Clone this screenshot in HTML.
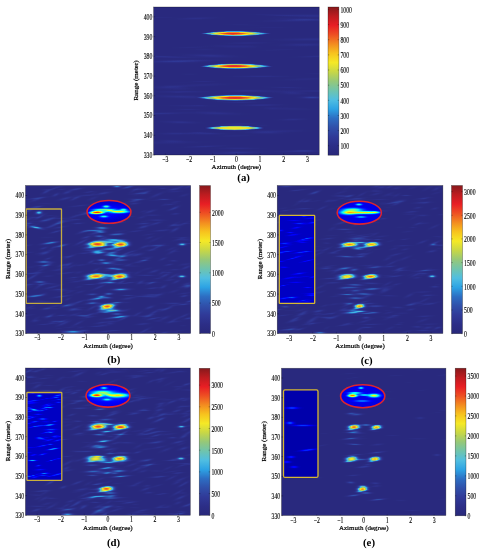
<!DOCTYPE html>
<html><head><meta charset="utf-8"><title>Figure</title>
<style>html,body{margin:0;padding:0;background:#fff;width:484px;height:550px;overflow:hidden}svg{display:block}</style>
</head><body><svg width="484" height="550" viewBox="0 0 484 550"><defs><radialGradient id="g2"><stop offset="0.000" stop-color="#fff" stop-opacity="1.000"/><stop offset="0.062" stop-color="#fff" stop-opacity="0.982"/><stop offset="0.125" stop-color="#fff" stop-opacity="0.931"/><stop offset="0.188" stop-color="#fff" stop-opacity="0.851"/><stop offset="0.250" stop-color="#fff" stop-opacity="0.750"/><stop offset="0.312" stop-color="#fff" stop-opacity="0.638"/><stop offset="0.375" stop-color="#fff" stop-opacity="0.523"/><stop offset="0.438" stop-color="#fff" stop-opacity="0.414"/><stop offset="0.500" stop-color="#fff" stop-opacity="0.316"/><stop offset="0.562" stop-color="#fff" stop-opacity="0.233"/><stop offset="0.625" stop-color="#fff" stop-opacity="0.165"/><stop offset="0.688" stop-color="#fff" stop-opacity="0.113"/><stop offset="0.750" stop-color="#fff" stop-opacity="0.075"/><stop offset="0.812" stop-color="#fff" stop-opacity="0.048"/><stop offset="0.875" stop-color="#fff" stop-opacity="0.029"/><stop offset="0.938" stop-color="#fff" stop-opacity="0.017"/><stop offset="1.000" stop-color="#fff" stop-opacity="0.000"/></radialGradient><radialGradient id="g26"><stop offset="0.000" stop-color="#fff" stop-opacity="1.000"/><stop offset="0.062" stop-color="#fff" stop-opacity="0.997"/><stop offset="0.125" stop-color="#fff" stop-opacity="0.980"/><stop offset="0.188" stop-color="#fff" stop-opacity="0.942"/><stop offset="0.250" stop-color="#fff" stop-opacity="0.882"/><stop offset="0.312" stop-color="#fff" stop-opacity="0.799"/><stop offset="0.375" stop-color="#fff" stop-opacity="0.698"/><stop offset="0.438" stop-color="#fff" stop-opacity="0.585"/><stop offset="0.500" stop-color="#fff" stop-opacity="0.468"/><stop offset="0.562" stop-color="#fff" stop-opacity="0.356"/><stop offset="0.625" stop-color="#fff" stop-opacity="0.257"/><stop offset="0.688" stop-color="#fff" stop-opacity="0.176"/><stop offset="0.750" stop-color="#fff" stop-opacity="0.113"/><stop offset="0.812" stop-color="#fff" stop-opacity="0.068"/><stop offset="0.875" stop-color="#fff" stop-opacity="0.039"/><stop offset="0.938" stop-color="#fff" stop-opacity="0.020"/><stop offset="1.000" stop-color="#fff" stop-opacity="0.000"/></radialGradient><radialGradient id="g35"><stop offset="0.000" stop-color="#fff" stop-opacity="1.000"/><stop offset="0.062" stop-color="#fff" stop-opacity="1.000"/><stop offset="0.125" stop-color="#fff" stop-opacity="0.997"/><stop offset="0.188" stop-color="#fff" stop-opacity="0.987"/><stop offset="0.250" stop-color="#fff" stop-opacity="0.965"/><stop offset="0.312" stop-color="#fff" stop-opacity="0.924"/><stop offset="0.375" stop-color="#fff" stop-opacity="0.862"/><stop offset="0.438" stop-color="#fff" stop-opacity="0.775"/><stop offset="0.500" stop-color="#fff" stop-opacity="0.666"/><stop offset="0.562" stop-color="#fff" stop-opacity="0.541"/><stop offset="0.625" stop-color="#fff" stop-opacity="0.411"/><stop offset="0.688" stop-color="#fff" stop-opacity="0.289"/><stop offset="0.750" stop-color="#fff" stop-opacity="0.186"/><stop offset="0.812" stop-color="#fff" stop-opacity="0.108"/><stop offset="0.875" stop-color="#fff" stop-opacity="0.056"/><stop offset="0.938" stop-color="#fff" stop-opacity="0.025"/><stop offset="1.000" stop-color="#fff" stop-opacity="0.000"/></radialGradient><linearGradient id="cbgrad" x1="0" y1="0" x2="0" y2="1"><stop offset="0.0000" stop-color="#87191c"/><stop offset="0.0625" stop-color="#be1c20"/><stop offset="0.1250" stop-color="#e81e24"/><stop offset="0.1875" stop-color="#ee5023"/><stop offset="0.2500" stop-color="#f38c20"/><stop offset="0.3125" stop-color="#f7c31e"/><stop offset="0.3750" stop-color="#f5e926"/><stop offset="0.4375" stop-color="#c8d746"/><stop offset="0.5000" stop-color="#96c878"/><stop offset="0.5625" stop-color="#70c4ac"/><stop offset="0.6250" stop-color="#50bee1"/><stop offset="0.6875" stop-color="#2da3e4"/><stop offset="0.7500" stop-color="#2d6ec3"/><stop offset="0.8125" stop-color="#3050aa"/><stop offset="0.8750" stop-color="#303a98"/><stop offset="0.9375" stop-color="#2c2e87"/><stop offset="1.0000" stop-color="#28287a"/></linearGradient></defs><clipPath id="clipa"><rect x="153.6" y="7.0" width="165.6" height="148.0"/></clipPath><filter id="fa" filterUnits="userSpaceOnUse" x="143.6" y="-3.0" width="185.6" height="168.0" color-interpolation-filters="sRGB"><feGaussianBlur stdDeviation="0.6 0.4"/><feComponentTransfer><feFuncR type="table" tableValues="0.1569 0.1725 0.1882 0.1882 0.1765 0.1765 0.3137 0.4392 0.5882 0.7843 0.9608 0.9686 0.9529 0.9333 0.9098 0.7451 0.5294"/><feFuncG type="table" tableValues="0.1569 0.1804 0.2275 0.3137 0.4314 0.6392 0.7451 0.7686 0.7843 0.8431 0.9137 0.7647 0.5490 0.3137 0.1176 0.1098 0.0980"/><feFuncB type="table" tableValues="0.4784 0.5294 0.5961 0.6667 0.7647 0.8941 0.8824 0.6745 0.4706 0.2745 0.1490 0.1176 0.1255 0.1373 0.1412 0.1255 0.1098"/></feComponentTransfer></filter><g clip-path="url(#clipa)"><g filter="url(#fa)"><rect x="143.6" y="-3.0" width="185.6" height="168.0" fill="#050505"/><ellipse cx="175.9" cy="133.6" rx="27.7" ry="2.1" fill="url(#g2)" fill-opacity="0.059" transform="rotate(-0.2 175.9 133.6)"/><ellipse cx="261.5" cy="125.4" rx="12.1" ry="1.9" fill="url(#g2)" fill-opacity="0.025" transform="rotate(-0.3 261.5 125.4)"/><ellipse cx="279.8" cy="15.3" rx="44.4" ry="1.5" fill="url(#g2)" fill-opacity="0.043" transform="rotate(1.8 279.8 15.3)"/><ellipse cx="302.9" cy="19.3" rx="22.8" ry="1.7" fill="url(#g2)" fill-opacity="0.022" transform="rotate(-0.5 302.9 19.3)"/><ellipse cx="189.5" cy="74.1" rx="15.0" ry="1.2" fill="url(#g2)" fill-opacity="0.022" transform="rotate(-0.0 189.5 74.1)"/><ellipse cx="192.2" cy="47.3" rx="29.5" ry="1.4" fill="url(#g2)" fill-opacity="0.032" transform="rotate(-1.9 192.2 47.3)"/><ellipse cx="292.3" cy="92.9" rx="23.9" ry="3.0" fill="url(#g2)" fill-opacity="0.053" transform="rotate(1.4 292.3 92.9)"/><ellipse cx="173.6" cy="61.6" rx="47.6" ry="2.9" fill="url(#g2)" fill-opacity="0.057" transform="rotate(-0.3 173.6 61.6)"/><ellipse cx="291.1" cy="108.8" rx="36.3" ry="2.4" fill="url(#g2)" fill-opacity="0.036" transform="rotate(1.4 291.1 108.8)"/><ellipse cx="237.3" cy="97.5" rx="15.9" ry="1.6" fill="url(#g2)" fill-opacity="0.022" transform="rotate(-0.3 237.3 97.5)"/><ellipse cx="182.3" cy="91.8" rx="45.8" ry="1.9" fill="url(#g2)" fill-opacity="0.056" transform="rotate(-0.2 182.3 91.8)"/><ellipse cx="237.8" cy="124.0" rx="31.8" ry="2.0" fill="url(#g2)" fill-opacity="0.047" transform="rotate(-1.9 237.8 124.0)"/><ellipse cx="160.8" cy="113.5" rx="44.4" ry="2.0" fill="url(#g2)" fill-opacity="0.071" transform="rotate(-1.3 160.8 113.5)"/><ellipse cx="236.8" cy="152.5" rx="40.5" ry="2.8" fill="url(#g2)" fill-opacity="0.060" transform="rotate(-1.1 236.8 152.5)"/><ellipse cx="238.7" cy="148.3" rx="35.2" ry="1.6" fill="url(#g2)" fill-opacity="0.050" transform="rotate(0.2 238.7 148.3)"/><ellipse cx="312.1" cy="15.8" rx="53.2" ry="2.9" fill="url(#g2)" fill-opacity="0.060" transform="rotate(1.0 312.1 15.8)"/><ellipse cx="287.6" cy="87.6" rx="33.6" ry="1.3" fill="url(#g2)" fill-opacity="0.049" transform="rotate(1.5 287.6 87.6)"/><ellipse cx="248.0" cy="43.0" rx="35.5" ry="1.7" fill="url(#g2)" fill-opacity="0.046" transform="rotate(-0.6 248.0 43.0)"/><ellipse cx="242.8" cy="102.3" rx="35.5" ry="1.2" fill="url(#g2)" fill-opacity="0.052" transform="rotate(-1.1 242.8 102.3)"/><ellipse cx="182.9" cy="96.8" rx="52.9" ry="2.7" fill="url(#g2)" fill-opacity="0.064" transform="rotate(1.3 182.9 96.8)"/><ellipse cx="195.9" cy="132.8" rx="19.6" ry="1.2" fill="url(#g2)" fill-opacity="0.055" transform="rotate(-1.9 195.9 132.8)"/><ellipse cx="278.7" cy="49.9" rx="31.2" ry="1.3" fill="url(#g2)" fill-opacity="0.026" transform="rotate(-1.7 278.7 49.9)"/><ellipse cx="180.0" cy="88.8" rx="21.7" ry="1.9" fill="url(#g2)" fill-opacity="0.029" transform="rotate(-0.2 180.0 88.8)"/><ellipse cx="206.9" cy="81.3" rx="18.7" ry="1.1" fill="url(#g2)" fill-opacity="0.022" transform="rotate(-1.2 206.9 81.3)"/><ellipse cx="171.6" cy="141.0" rx="24.0" ry="2.2" fill="url(#g2)" fill-opacity="0.046" transform="rotate(1.3 171.6 141.0)"/><ellipse cx="157.0" cy="17.5" rx="36.0" ry="1.1" fill="url(#g2)" fill-opacity="0.028" transform="rotate(0.8 157.0 17.5)"/><ellipse cx="265.9" cy="91.3" rx="48.1" ry="2.2" fill="url(#g2)" fill-opacity="0.032" transform="rotate(0.1 265.9 91.3)"/><ellipse cx="190.6" cy="105.8" rx="37.6" ry="1.6" fill="url(#g2)" fill-opacity="0.041" transform="rotate(0.5 190.6 105.8)"/><ellipse cx="163.3" cy="56.8" rx="57.4" ry="1.8" fill="url(#g2)" fill-opacity="0.070" transform="rotate(1.4 163.3 56.8)"/><ellipse cx="205.0" cy="146.5" rx="34.7" ry="1.7" fill="url(#g2)" fill-opacity="0.058" transform="rotate(-2.0 205.0 146.5)"/><ellipse cx="299.1" cy="20.3" rx="59.9" ry="2.3" fill="url(#g2)" fill-opacity="0.062" transform="rotate(-1.3 299.1 20.3)"/><ellipse cx="297.3" cy="151.3" rx="38.5" ry="1.9" fill="url(#g2)" fill-opacity="0.056" transform="rotate(-0.6 297.3 151.3)"/><ellipse cx="187.7" cy="109.4" rx="22.7" ry="1.3" fill="url(#g2)" fill-opacity="0.042" transform="rotate(0.7 187.7 109.4)"/><ellipse cx="202.6" cy="85.0" rx="47.7" ry="2.5" fill="url(#g2)" fill-opacity="0.037" transform="rotate(-1.9 202.6 85.0)"/><ellipse cx="186.9" cy="60.9" rx="53.2" ry="1.9" fill="url(#g2)" fill-opacity="0.071" transform="rotate(-1.1 186.9 60.9)"/><ellipse cx="265.3" cy="132.3" rx="32.6" ry="2.9" fill="url(#g2)" fill-opacity="0.068" transform="rotate(0.7 265.3 132.3)"/><ellipse cx="233.8" cy="153.0" rx="39.6" ry="1.1" fill="url(#g2)" fill-opacity="0.032" transform="rotate(-1.3 233.8 153.0)"/><ellipse cx="304.5" cy="44.8" rx="43.1" ry="2.8" fill="url(#g2)" fill-opacity="0.059" transform="rotate(-0.5 304.5 44.8)"/><ellipse cx="210.0" cy="55.8" rx="44.1" ry="3.0" fill="url(#g2)" fill-opacity="0.065" transform="rotate(1.5 210.0 55.8)"/><ellipse cx="176.0" cy="92.2" rx="12.6" ry="0.9" fill="url(#g2)" fill-opacity="0.026" transform="rotate(1.5 176.0 92.2)"/><ellipse cx="284.1" cy="131.0" rx="38.1" ry="2.3" fill="url(#g2)" fill-opacity="0.038" transform="rotate(-0.5 284.1 131.0)"/><ellipse cx="248.1" cy="46.3" rx="18.9" ry="1.9" fill="url(#g2)" fill-opacity="0.025" transform="rotate(0.3 248.1 46.3)"/><ellipse cx="306.8" cy="79.1" rx="43.1" ry="2.3" fill="url(#g2)" fill-opacity="0.035" transform="rotate(-2.0 306.8 79.1)"/><ellipse cx="264.6" cy="27.8" rx="39.8" ry="0.9" fill="url(#g2)" fill-opacity="0.026" transform="rotate(-1.0 264.6 27.8)"/><ellipse cx="317.2" cy="73.9" rx="16.9" ry="1.2" fill="url(#g2)" fill-opacity="0.026" transform="rotate(1.0 317.2 73.9)"/><ellipse cx="170.6" cy="142.5" rx="52.9" ry="2.6" fill="url(#g2)" fill-opacity="0.040" transform="rotate(-0.8 170.6 142.5)"/><ellipse cx="195.6" cy="81.8" rx="31.6" ry="0.9" fill="url(#g2)" fill-opacity="0.026" transform="rotate(-2.0 195.6 81.8)"/><ellipse cx="316.3" cy="56.4" rx="35.0" ry="1.7" fill="url(#g2)" fill-opacity="0.051" transform="rotate(-1.7 316.3 56.4)"/><ellipse cx="304.9" cy="150.8" rx="22.0" ry="1.7" fill="url(#g2)" fill-opacity="0.070" transform="rotate(0.5 304.9 150.8)"/><ellipse cx="315.9" cy="91.0" rx="45.1" ry="1.7" fill="url(#g2)" fill-opacity="0.056" transform="rotate(0.2 315.9 91.0)"/><ellipse cx="204.5" cy="49.5" rx="19.4" ry="2.0" fill="url(#g2)" fill-opacity="0.025" transform="rotate(-0.2 204.5 49.5)"/><ellipse cx="261.6" cy="105.1" rx="34.8" ry="1.8" fill="url(#g2)" fill-opacity="0.068" transform="rotate(-0.7 261.6 105.1)"/><ellipse cx="206.1" cy="133.6" rx="30.5" ry="1.9" fill="url(#g2)" fill-opacity="0.066" transform="rotate(0.2 206.1 133.6)"/><ellipse cx="249.5" cy="98.4" rx="14.1" ry="1.4" fill="url(#g2)" fill-opacity="0.033" transform="rotate(-1.7 249.5 98.4)"/><ellipse cx="244.9" cy="24.9" rx="29.6" ry="1.2" fill="url(#g2)" fill-opacity="0.024" transform="rotate(1.2 244.9 24.9)"/><ellipse cx="235.3" cy="135.8" rx="29.1" ry="2.0" fill="url(#g2)" fill-opacity="0.028" transform="rotate(-1.7 235.3 135.8)"/><ellipse cx="310.8" cy="39.3" rx="60.5" ry="2.7" fill="url(#g2)" fill-opacity="0.060" transform="rotate(-0.7 310.8 39.3)"/><ellipse cx="171.3" cy="87.0" rx="30.2" ry="2.9" fill="url(#g2)" fill-opacity="0.067" transform="rotate(-1.4 171.3 87.0)"/><ellipse cx="304.4" cy="19.4" rx="48.7" ry="2.3" fill="url(#g2)" fill-opacity="0.037" transform="rotate(1.6 304.4 19.4)"/><ellipse cx="292.8" cy="119.5" rx="23.8" ry="2.0" fill="url(#g2)" fill-opacity="0.056" transform="rotate(-1.4 292.8 119.5)"/><ellipse cx="272.0" cy="108.5" rx="15.8" ry="2.5" fill="url(#g2)" fill-opacity="0.033" transform="rotate(1.2 272.0 108.5)"/><ellipse cx="244.6" cy="90.8" rx="37.1" ry="2.0" fill="url(#g2)" fill-opacity="0.064" transform="rotate(-0.6 244.6 90.8)"/><ellipse cx="196.3" cy="18.4" rx="34.0" ry="2.2" fill="url(#g2)" fill-opacity="0.053" transform="rotate(-1.8 196.3 18.4)"/><ellipse cx="212.4" cy="34.4" rx="20.2" ry="2.0" fill="url(#g2)" fill-opacity="0.027" transform="rotate(-0.4 212.4 34.4)"/><ellipse cx="220.0" cy="100.7" rx="13.5" ry="1.8" fill="url(#g2)" fill-opacity="0.032" transform="rotate(0.0 220.0 100.7)"/><ellipse cx="261.0" cy="76.4" rx="48.2" ry="1.6" fill="url(#g2)" fill-opacity="0.055" transform="rotate(-0.0 261.0 76.4)"/><ellipse cx="232.9" cy="46.5" rx="37.3" ry="2.6" fill="url(#g2)" fill-opacity="0.041" transform="rotate(1.7 232.9 46.5)"/><ellipse cx="199.2" cy="105.5" rx="12.0" ry="1.3" fill="url(#g2)" fill-opacity="0.023" transform="rotate(1.5 199.2 105.5)"/><ellipse cx="180.0" cy="122.2" rx="30.9" ry="2.5" fill="url(#g2)" fill-opacity="0.065" transform="rotate(1.4 180.0 122.2)"/><ellipse cx="215.1" cy="113.2" rx="42.6" ry="2.8" fill="url(#g2)" fill-opacity="0.058" transform="rotate(1.6 215.1 113.2)"/><path d="M200.12 33.60C225.24 29.87 246.76 29.87 271.88 33.60C246.76 37.33 225.24 37.33 200.12 33.60Z" fill="#0f0f0f"/><path d="M200.48 33.60C225.28 30.00 246.53 30.00 271.32 33.60C246.53 37.20 225.28 37.20 200.48 33.60Z" fill="#151515"/><path d="M200.85 33.60C225.32 30.13 246.29 30.13 270.77 33.60C246.29 37.07 225.32 37.07 200.85 33.60Z" fill="#1b1b1b"/><path d="M201.21 33.60C225.36 30.27 246.06 30.27 270.21 33.60C246.06 36.93 225.36 36.93 201.21 33.60Z" fill="#212121"/><path d="M201.57 33.60C225.40 30.40 245.82 30.40 269.65 33.60C245.82 36.80 225.40 36.80 201.57 33.60Z" fill="#262626"/><path d="M201.93 33.60C225.10 30.50 245.92 30.50 269.09 33.60C245.92 36.70 225.10 36.70 201.93 33.60Z" fill="#2d2d2d"/><path d="M202.30 33.60C224.82 30.60 246.02 30.60 268.54 33.60C246.02 36.60 224.82 36.60 202.30 33.60Z" fill="#333333"/><path d="M202.66 33.60C224.54 30.70 246.10 30.70 267.98 33.60C246.10 36.50 224.54 36.50 202.66 33.60Z" fill="#393939"/><path d="M203.02 33.60C224.27 30.80 246.17 30.80 267.42 33.60C246.17 36.40 224.27 36.40 203.02 33.60Z" fill="#404040"/><path d="M203.62 33.60C223.94 30.88 246.31 30.88 266.63 33.60C246.31 36.32 223.94 36.32 203.62 33.60Z" fill="#464646"/><path d="M204.21 33.60C223.62 30.97 246.43 30.97 265.85 33.60C246.43 36.23 223.62 36.23 204.21 33.60Z" fill="#4c4c4c"/><path d="M204.80 33.60C223.33 31.05 246.53 31.05 265.06 33.60C246.53 36.15 223.33 36.15 204.80 33.60Z" fill="#535353"/><path d="M205.39 33.60C223.06 31.13 246.61 31.13 264.27 33.60C246.61 36.07 223.06 36.07 205.39 33.60Z" fill="#595959"/><path d="M205.87 33.60C222.47 31.20 247.00 31.20 263.60 33.60C247.00 36.00 222.47 36.00 205.87 33.60Z" fill="#5e5e5e"/><path d="M206.35 33.60C221.91 31.27 247.37 31.27 262.93 33.60C247.37 35.93 221.91 35.93 206.35 33.60Z" fill="#626262"/><path d="M206.83 33.60C221.38 31.33 247.71 31.33 262.26 33.60C247.71 35.87 221.38 35.87 206.83 33.60Z" fill="#676767"/><path d="M207.30 33.60C220.87 31.40 248.01 31.40 261.58 33.60C248.01 35.80 220.87 35.80 207.30 33.60Z" fill="#6b6b6b"/><path d="M208.01 33.60C220.52 31.45 248.17 31.45 260.68 33.60C248.17 35.75 220.52 35.75 208.01 33.60Z" fill="#707070"/><path d="M208.72 33.60C220.21 31.50 248.29 31.50 259.78 33.60C248.29 35.70 220.21 35.70 208.72 33.60Z" fill="#757575"/><path d="M209.43 33.60C219.94 31.55 248.37 31.55 258.88 33.60C248.37 35.65 219.94 35.65 209.43 33.60Z" fill="#7a7a7a"/><path d="M210.14 33.60C219.70 31.60 248.41 31.60 257.98 33.60C248.41 35.60 219.70 35.60 210.14 33.60Z" fill="#808080"/><path d="M211.07 33.60C219.66 31.68 248.26 31.68 256.84 33.60C248.26 35.52 219.66 35.52 211.07 33.60Z" fill="#878787"/><path d="M212.01 33.60C219.66 31.77 248.06 31.77 255.71 33.60C248.06 35.43 219.66 35.43 212.01 33.60Z" fill="#8f8f8f"/><path d="M212.95 33.60C219.71 31.85 247.81 31.85 254.58 33.60C247.81 35.35 219.71 35.35 212.95 33.60Z" fill="#969696"/><path d="M213.89 33.60C219.82 31.93 247.51 31.93 253.45 33.60C247.51 35.27 219.82 35.27 213.89 33.60Z" fill="#9e9e9e"/><path d="M214.71 33.60C220.13 32.01 247.01 32.01 252.43 33.60C247.01 35.19 220.13 35.19 214.71 33.60Z" fill="#a3a3a3"/><path d="M215.53 33.60C220.47 32.09 246.48 32.09 251.41 33.60C246.48 35.11 220.47 35.11 215.53 33.60Z" fill="#a8a8a8"/><path d="M216.35 33.60C220.82 32.16 245.93 32.16 250.40 33.60C245.93 35.04 220.82 35.04 216.35 33.60Z" fill="#adadad"/><path d="M217.18 33.60C221.20 32.24 245.35 32.24 249.38 33.60C245.35 34.96 221.20 34.96 217.18 33.60Z" fill="#b2b2b2"/><path d="M218.12 33.60C221.69 32.32 244.67 32.32 248.25 33.60C244.67 34.88 221.69 34.88 218.12 33.60Z" fill="#b9b9b9"/><path d="M219.05 33.60C222.21 32.40 243.96 32.40 247.11 33.60C243.96 34.80 222.21 34.80 219.05 33.60Z" fill="#bfbfbf"/><path d="M219.99 33.60C222.75 32.48 243.22 32.48 245.98 33.60C243.22 34.72 222.75 34.72 219.99 33.60Z" fill="#c6c6c6"/><path d="M220.93 33.60C223.32 32.56 242.46 32.56 244.85 33.60C242.46 34.64 223.32 34.64 220.93 33.60Z" fill="#cccccc"/><path d="M222.21 33.60C224.33 32.65 241.26 32.65 243.37 33.60C241.26 34.55 224.33 34.55 222.21 33.60Z" fill="#d0d0d0"/><path d="M223.49 33.60C225.33 32.75 240.05 32.75 241.89 33.60C240.05 34.45 225.33 34.45 223.49 33.60Z" fill="#d4d4d4"/><path d="M224.78 33.60C226.34 32.84 238.85 32.84 240.42 33.60C238.85 34.36 226.34 34.36 224.78 33.60Z" fill="#d7d7d7"/><path d="M226.06 33.60C227.35 32.93 237.65 32.93 238.94 33.60C237.65 34.27 227.35 34.27 226.06 33.60Z" fill="#dbdbdb"/><path d="M199.45 66.20C225.38 62.28 247.62 62.28 273.55 66.20C247.62 70.12 225.38 70.12 199.45 66.20Z" fill="#0f0f0f"/><path d="M199.86 66.20C225.46 62.42 247.40 62.42 273.01 66.20C247.40 69.98 225.46 69.98 199.86 66.20Z" fill="#151515"/><path d="M200.26 66.20C225.53 62.56 247.19 62.56 272.46 66.20C247.19 69.84 225.53 69.84 200.26 66.20Z" fill="#1b1b1b"/><path d="M200.67 66.20C225.60 62.70 246.98 62.70 271.92 66.20C246.98 69.70 225.60 69.70 200.67 66.20Z" fill="#212121"/><path d="M201.07 66.20C225.68 62.84 246.77 62.84 271.37 66.20C246.77 69.56 225.68 69.56 201.07 66.20Z" fill="#262626"/><path d="M201.48 66.20C225.40 62.95 246.90 62.95 270.83 66.20C246.90 69.45 225.40 69.45 201.48 66.20Z" fill="#2d2d2d"/><path d="M201.88 66.20C225.14 63.05 247.03 63.05 270.28 66.20C247.03 69.35 225.14 69.35 201.88 66.20Z" fill="#333333"/><path d="M202.29 66.20C224.88 63.16 247.14 63.16 269.74 66.20C247.14 69.25 224.88 69.25 202.29 66.20Z" fill="#393939"/><path d="M202.69 66.20C224.64 63.26 247.25 63.26 269.19 66.20C247.25 69.14 224.64 69.14 202.69 66.20Z" fill="#404040"/><path d="M203.34 66.20C224.32 63.35 247.43 63.35 268.41 66.20C247.43 69.05 224.32 69.05 203.34 66.20Z" fill="#464646"/><path d="M203.98 66.20C224.03 63.44 247.58 63.44 267.63 66.20C247.58 68.97 224.03 68.97 203.98 66.20Z" fill="#4c4c4c"/><path d="M204.62 66.20C223.76 63.52 247.71 63.52 266.85 66.20C247.71 68.88 223.76 68.88 204.62 66.20Z" fill="#535353"/><path d="M205.27 66.20C223.51 63.61 247.83 63.61 266.07 66.20C247.83 68.79 223.51 68.79 205.27 66.20Z" fill="#595959"/><path d="M205.79 66.20C222.93 63.68 248.26 63.68 265.40 66.20C248.26 68.72 222.93 68.72 205.79 66.20Z" fill="#5e5e5e"/><path d="M206.32 66.20C222.38 63.75 248.67 63.75 264.74 66.20C248.67 68.65 222.38 68.65 206.32 66.20Z" fill="#626262"/><path d="M206.84 66.20C221.86 63.82 249.05 63.82 264.08 66.20C249.05 68.58 221.86 68.58 206.84 66.20Z" fill="#676767"/><path d="M207.36 66.20C221.38 63.89 249.40 63.89 263.41 66.20C249.40 68.51 221.38 68.51 207.36 66.20Z" fill="#6b6b6b"/><path d="M208.13 66.20C221.04 63.94 249.60 63.94 262.51 66.20C249.60 68.46 221.04 68.46 208.13 66.20Z" fill="#707070"/><path d="M208.89 66.20C220.75 64.00 249.75 64.00 261.61 66.20C249.75 68.41 220.75 68.41 208.89 66.20Z" fill="#757575"/><path d="M209.65 66.20C220.50 64.05 249.86 64.05 260.71 66.20C249.86 68.35 220.50 68.35 209.65 66.20Z" fill="#7a7a7a"/><path d="M210.41 66.20C220.29 64.10 249.93 64.10 259.81 66.20C249.93 68.30 220.29 68.30 210.41 66.20Z" fill="#808080"/><path d="M211.41 66.20C220.27 64.19 249.81 64.19 258.67 66.20C249.81 68.21 220.27 68.21 211.41 66.20Z" fill="#878787"/><path d="M212.41 66.20C220.31 64.28 249.64 64.28 257.53 66.20C249.64 68.12 220.31 68.12 212.41 66.20Z" fill="#8f8f8f"/><path d="M213.41 66.20C220.39 64.36 249.41 64.36 256.40 66.20C249.41 68.04 220.39 68.04 213.41 66.20Z" fill="#969696"/><path d="M214.41 66.20C220.54 64.45 249.13 64.45 255.26 66.20C249.13 67.95 220.54 67.95 214.41 66.20Z" fill="#9e9e9e"/><path d="M215.29 66.20C220.89 64.53 248.64 64.53 254.24 66.20C248.64 67.87 220.89 67.87 215.29 66.20Z" fill="#a3a3a3"/><path d="M216.17 66.20C221.26 64.61 248.13 64.61 253.22 66.20C248.13 67.79 221.26 67.79 216.17 66.20Z" fill="#a8a8a8"/><path d="M217.05 66.20C221.66 64.69 247.59 64.69 252.20 66.20C247.59 67.71 221.66 67.71 217.05 66.20Z" fill="#adadad"/><path d="M217.93 66.20C222.09 64.77 247.02 64.77 251.18 66.20C247.02 67.63 222.09 67.63 217.93 66.20Z" fill="#b2b2b2"/><path d="M218.93 66.20C222.62 64.86 246.35 64.86 250.04 66.20C246.35 67.54 222.62 67.54 218.93 66.20Z" fill="#b9b9b9"/><path d="M219.93 66.20C223.19 64.94 245.64 64.94 248.90 66.20C245.64 67.46 223.19 67.46 219.93 66.20Z" fill="#bfbfbf"/><path d="M220.93 66.20C223.78 65.02 244.91 65.02 247.77 66.20C244.91 67.38 223.78 67.38 220.93 66.20Z" fill="#c6c6c6"/><path d="M221.93 66.20C224.40 65.11 244.16 65.11 246.63 66.20C244.16 67.29 224.40 67.29 221.93 66.20Z" fill="#cccccc"/><path d="M223.28 66.20C225.47 65.21 242.95 65.21 245.13 66.20C242.95 67.19 225.47 67.19 223.28 66.20Z" fill="#d0d0d0"/><path d="M224.64 66.20C226.54 65.30 241.74 65.30 243.64 66.20C241.74 67.10 226.54 67.10 224.64 66.20Z" fill="#d4d4d4"/><path d="M225.99 66.20C227.61 65.40 240.53 65.40 242.14 66.20C240.53 67.00 227.61 67.00 225.99 66.20Z" fill="#d7d7d7"/><path d="M227.35 66.20C228.68 65.50 239.32 65.50 240.65 66.20C239.32 66.90 228.68 66.90 227.35 66.20Z" fill="#dbdbdb"/><path d="M195.22 97.80C223.07 93.51 246.93 93.51 274.78 97.80C246.93 102.09 223.07 102.09 195.22 97.80Z" fill="#0f0f0f"/><path d="M195.73 97.80C223.22 93.66 246.78 93.66 274.27 97.80C246.78 101.94 223.22 101.94 195.73 97.80Z" fill="#151515"/><path d="M196.24 97.80C223.37 93.81 246.63 93.81 273.76 97.80C246.63 101.79 223.37 101.79 196.24 97.80Z" fill="#1b1b1b"/><path d="M196.75 97.80C223.53 93.97 246.47 93.97 273.25 97.80C246.47 101.63 223.53 101.63 196.75 97.80Z" fill="#212121"/><path d="M197.26 97.80C223.68 94.12 246.32 94.12 272.74 97.80C246.32 101.48 223.68 101.48 197.26 97.80Z" fill="#262626"/><path d="M197.77 97.80C223.46 94.23 246.54 94.23 272.23 97.80C246.54 101.36 223.46 101.36 197.77 97.80Z" fill="#2d2d2d"/><path d="M198.28 97.80C223.25 94.35 246.75 94.35 271.72 97.80C246.75 101.25 223.25 101.25 198.28 97.80Z" fill="#333333"/><path d="M198.79 97.80C223.05 94.47 246.95 94.47 271.21 97.80C246.95 101.13 223.05 101.13 198.79 97.80Z" fill="#393939"/><path d="M199.30 97.80C222.86 94.58 247.14 94.58 270.70 97.80C247.14 101.02 222.86 101.02 199.30 97.80Z" fill="#404040"/><path d="M200.06 97.80C222.60 94.68 247.40 94.68 269.94 97.80C247.40 100.92 222.60 100.92 200.06 97.80Z" fill="#464646"/><path d="M200.83 97.80C222.36 94.77 247.64 94.77 269.17 97.80C247.64 100.83 222.36 100.83 200.83 97.80Z" fill="#4c4c4c"/><path d="M201.59 97.80C222.14 94.87 247.86 94.87 268.40 97.80C247.86 100.73 222.14 100.73 201.59 97.80Z" fill="#535353"/><path d="M202.36 97.80C221.94 94.96 248.06 94.96 267.64 97.80C248.06 100.64 221.94 100.64 202.36 97.80Z" fill="#595959"/><path d="M203.00 97.80C221.40 95.04 248.60 95.04 267.00 97.80C248.60 100.56 221.40 100.56 203.00 97.80Z" fill="#5e5e5e"/><path d="M203.63 97.80C220.89 95.12 249.11 95.12 266.37 97.80C249.11 100.48 220.89 100.48 203.63 97.80Z" fill="#626262"/><path d="M204.27 97.80C220.40 95.19 249.60 95.19 265.73 97.80C249.60 100.41 220.40 100.41 204.27 97.80Z" fill="#676767"/><path d="M204.91 97.80C219.96 95.27 250.04 95.27 265.09 97.80C250.04 100.33 219.96 100.33 204.91 97.80Z" fill="#6b6b6b"/><path d="M205.80 97.80C219.67 95.33 250.33 95.33 264.20 97.80C250.33 100.27 219.67 100.27 205.80 97.80Z" fill="#707070"/><path d="M206.69 97.80C219.43 95.38 250.57 95.38 263.31 97.80C250.57 100.22 219.43 100.22 206.69 97.80Z" fill="#757575"/><path d="M207.59 97.80C219.24 95.44 250.76 95.44 262.41 97.80C250.76 100.16 219.24 100.16 207.59 97.80Z" fill="#7a7a7a"/><path d="M208.48 97.80C219.09 95.50 250.91 95.50 261.52 97.80C250.91 100.10 219.09 100.10 208.48 97.80Z" fill="#808080"/><path d="M209.63 97.80C219.14 95.60 250.86 95.60 260.37 97.80C250.86 100.00 219.14 100.00 209.63 97.80Z" fill="#878787"/><path d="M210.78 97.80C219.25 95.69 250.75 95.69 259.23 97.80C250.75 99.91 219.25 99.91 210.78 97.80Z" fill="#8f8f8f"/><path d="M211.92 97.80C219.42 95.79 250.58 95.79 258.08 97.80C250.58 99.81 219.42 99.81 211.92 97.80Z" fill="#969696"/><path d="M213.07 97.80C219.65 95.88 250.35 95.88 256.93 97.80C250.35 99.72 219.65 99.72 213.07 97.80Z" fill="#9e9e9e"/><path d="M214.09 97.80C220.10 95.97 249.90 95.97 255.91 97.80C249.90 99.63 220.10 99.63 214.09 97.80Z" fill="#a3a3a3"/><path d="M215.11 97.80C220.58 96.06 249.42 96.06 254.89 97.80C249.42 99.54 220.58 99.54 215.11 97.80Z" fill="#a8a8a8"/><path d="M216.13 97.80C221.08 96.15 248.92 96.15 253.87 97.80C248.92 99.45 221.08 99.45 216.13 97.80Z" fill="#adadad"/><path d="M217.15 97.80C221.61 96.24 248.39 96.24 252.85 97.80C248.39 99.36 221.61 99.36 217.15 97.80Z" fill="#b2b2b2"/><path d="M218.30 97.80C222.26 96.33 247.74 96.33 251.70 97.80C247.74 99.27 222.26 99.27 218.30 97.80Z" fill="#b9b9b9"/><path d="M219.44 97.80C222.94 96.42 247.06 96.42 250.56 97.80C247.06 99.18 222.94 99.18 219.44 97.80Z" fill="#bfbfbf"/><path d="M220.59 97.80C223.65 96.51 246.35 96.51 249.41 97.80C246.35 99.09 223.65 99.09 220.59 97.80Z" fill="#c6c6c6"/><path d="M221.74 97.80C224.39 96.60 245.61 96.60 248.26 97.80C245.61 99.00 224.39 99.00 221.74 97.80Z" fill="#cccccc"/><path d="M223.27 97.80C225.62 96.71 244.38 96.71 246.73 97.80C244.38 98.89 225.62 98.89 223.27 97.80Z" fill="#d0d0d0"/><path d="M224.80 97.80C226.84 96.82 243.16 96.82 245.20 97.80C243.16 98.78 226.84 98.78 224.80 97.80Z" fill="#d4d4d4"/><path d="M226.33 97.80C228.06 96.93 241.94 96.93 243.67 97.80C241.94 98.67 228.06 98.67 226.33 97.80Z" fill="#d7d7d7"/><path d="M227.86 97.80C229.29 97.03 240.71 97.03 242.14 97.80C240.71 98.57 229.29 98.57 227.86 97.80Z" fill="#dbdbdb"/><path d="M204.18 128.00C225.47 124.64 243.73 124.64 265.02 128.00C243.73 131.36 225.47 131.36 204.18 128.00Z" fill="#0f0f0f"/><path d="M204.57 128.00C225.59 124.76 243.61 124.76 264.63 128.00C243.61 131.24 225.59 131.24 204.57 128.00Z" fill="#151515"/><path d="M204.96 128.00C225.71 124.88 243.49 124.88 264.24 128.00C243.49 131.12 225.71 131.12 204.96 128.00Z" fill="#1b1b1b"/><path d="M205.35 128.00C225.82 125.00 243.38 125.00 263.85 128.00C243.38 131.00 225.82 131.00 205.35 128.00Z" fill="#212121"/><path d="M205.74 128.00C225.94 125.12 243.26 125.12 263.46 128.00C243.26 130.88 225.94 130.88 205.74 128.00Z" fill="#262626"/><path d="M206.13 128.00C225.77 125.21 243.43 125.21 263.07 128.00C243.43 130.79 225.77 130.79 206.13 128.00Z" fill="#2d2d2d"/><path d="M206.52 128.00C225.61 125.30 243.59 125.30 262.68 128.00C243.59 130.70 225.61 130.70 206.52 128.00Z" fill="#333333"/><path d="M206.91 128.00C225.46 125.39 243.74 125.39 262.29 128.00C243.74 130.61 225.46 130.61 206.91 128.00Z" fill="#393939"/><path d="M207.30 128.00C225.32 125.48 243.88 125.48 261.90 128.00C243.88 130.52 225.32 130.52 207.30 128.00Z" fill="#404040"/><path d="M207.88 128.00C225.12 125.56 244.08 125.56 261.31 128.00C244.08 130.44 225.12 130.44 207.88 128.00Z" fill="#464646"/><path d="M208.47 128.00C224.93 125.63 244.27 125.63 260.73 128.00C244.27 130.37 224.93 130.37 208.47 128.00Z" fill="#4c4c4c"/><path d="M209.06 128.00C224.77 125.70 244.43 125.70 260.14 128.00C244.43 130.29 224.77 130.29 209.06 128.00Z" fill="#535353"/><path d="M209.64 128.00C224.62 125.78 244.58 125.78 259.56 128.00C244.58 130.22 224.62 130.22 209.64 128.00Z" fill="#595959"/><path d="M210.13 128.00C224.20 125.84 245.00 125.84 259.07 128.00C245.00 130.16 224.20 130.16 210.13 128.00Z" fill="#5e5e5e"/><path d="M210.62 128.00C223.81 125.90 245.39 125.90 258.58 128.00C245.39 130.10 223.81 130.10 210.62 128.00Z" fill="#626262"/><path d="M211.10 128.00C223.44 125.96 245.76 125.96 258.10 128.00C245.76 130.04 223.44 130.04 211.10 128.00Z" fill="#676767"/><path d="M211.59 128.00C223.09 126.02 246.10 126.02 257.61 128.00C246.10 129.98 223.09 129.98 211.59 128.00Z" fill="#6b6b6b"/><path d="M212.27 128.00C222.88 126.06 246.32 126.06 256.93 128.00C246.32 129.94 222.88 129.94 212.27 128.00Z" fill="#707070"/><path d="M212.95 128.00C222.70 126.11 246.50 126.11 256.25 128.00C246.50 129.89 222.70 129.89 212.95 128.00Z" fill="#757575"/><path d="M213.64 128.00C222.55 126.16 246.65 126.16 255.56 128.00C246.65 129.84 222.55 129.84 213.64 128.00Z" fill="#7a7a7a"/><path d="M214.32 128.00C222.43 126.20 246.77 126.20 254.88 128.00C246.77 129.80 222.43 129.80 214.32 128.00Z" fill="#808080"/><path d="M215.20 128.00C222.47 126.28 246.73 126.28 254.00 128.00C246.73 129.72 222.47 129.72 215.20 128.00Z" fill="#878787"/><path d="M216.07 128.00C222.56 126.35 246.64 126.35 253.12 128.00C246.64 129.65 222.56 129.65 216.07 128.00Z" fill="#8f8f8f"/><path d="M216.95 128.00C222.69 126.42 246.51 126.42 252.25 128.00C246.51 129.57 222.69 129.57 216.95 128.00Z" fill="#969696"/><path d="M217.83 128.00C222.86 126.50 246.34 126.50 251.37 128.00C246.34 129.50 222.86 129.50 217.83 128.00Z" fill="#9e9e9e"/><ellipse cx="312.0" cy="97.5" rx="20.6" ry="2.3" fill="url(#g2)" fill-opacity="0.122"/></g></g><rect x="153.6" y="7.0" width="165.6" height="148.0" fill="none" stroke="#111" stroke-width="0.5" stroke-opacity="0.6"/><line x1="165.4" y1="155.0" x2="165.4" y2="153.4" stroke="#000" stroke-width="0.5" stroke-opacity="0.35"/><line x1="189.1" y1="155.0" x2="189.1" y2="153.4" stroke="#000" stroke-width="0.5" stroke-opacity="0.35"/><line x1="212.7" y1="155.0" x2="212.7" y2="153.4" stroke="#000" stroke-width="0.5" stroke-opacity="0.35"/><line x1="236.4" y1="155.0" x2="236.4" y2="153.4" stroke="#000" stroke-width="0.5" stroke-opacity="0.35"/><line x1="260.1" y1="155.0" x2="260.1" y2="153.4" stroke="#000" stroke-width="0.5" stroke-opacity="0.35"/><line x1="283.7" y1="155.0" x2="283.7" y2="153.4" stroke="#000" stroke-width="0.5" stroke-opacity="0.35"/><line x1="307.4" y1="155.0" x2="307.4" y2="153.4" stroke="#000" stroke-width="0.5" stroke-opacity="0.35"/><line x1="153.6" y1="155.0" x2="155.2" y2="155.0" stroke="#000" stroke-width="0.5" stroke-opacity="0.6"/><line x1="153.6" y1="135.3" x2="155.2" y2="135.3" stroke="#000" stroke-width="0.5" stroke-opacity="0.6"/><line x1="153.6" y1="115.5" x2="155.2" y2="115.5" stroke="#000" stroke-width="0.5" stroke-opacity="0.6"/><line x1="153.6" y1="95.8" x2="155.2" y2="95.8" stroke="#000" stroke-width="0.5" stroke-opacity="0.6"/><line x1="153.6" y1="76.1" x2="155.2" y2="76.1" stroke="#000" stroke-width="0.5" stroke-opacity="0.6"/><line x1="153.6" y1="56.3" x2="155.2" y2="56.3" stroke="#000" stroke-width="0.5" stroke-opacity="0.6"/><line x1="153.6" y1="36.6" x2="155.2" y2="36.6" stroke="#000" stroke-width="0.5" stroke-opacity="0.6"/><line x1="153.6" y1="16.9" x2="155.2" y2="16.9" stroke="#000" stroke-width="0.5" stroke-opacity="0.6"/><g font-family="'Liberation Serif', 'Times New Roman', serif" font-size="7.4" fill="#000" stroke="#000" stroke-width="0.12"><text transform="translate(165.43 162.00) scale(0.78 1)" text-anchor="middle">−3</text><text transform="translate(189.09 162.00) scale(0.78 1)" text-anchor="middle">−2</text><text transform="translate(212.74 162.00) scale(0.78 1)" text-anchor="middle">−1</text><text transform="translate(236.40 162.00) scale(0.78 1)" text-anchor="middle">0</text><text transform="translate(260.06 162.00) scale(0.78 1)" text-anchor="middle">1</text><text transform="translate(283.71 162.00) scale(0.78 1)" text-anchor="middle">2</text><text transform="translate(307.37 162.00) scale(0.78 1)" text-anchor="middle">3</text><text transform="translate(152.30 157.90) scale(0.78 1)" text-anchor="end">330</text><text transform="translate(152.30 138.17) scale(0.78 1)" text-anchor="end">340</text><text transform="translate(152.30 118.43) scale(0.78 1)" text-anchor="end">350</text><text transform="translate(152.30 98.70) scale(0.78 1)" text-anchor="end">360</text><text transform="translate(152.30 78.97) scale(0.78 1)" text-anchor="end">370</text><text transform="translate(152.30 59.23) scale(0.78 1)" text-anchor="end">380</text><text transform="translate(152.30 39.50) scale(0.78 1)" text-anchor="end">390</text><text transform="translate(152.30 19.77) scale(0.78 1)" text-anchor="end">400</text></g><text x="236.4" y="169.4" text-anchor="middle" font-family="'Liberation Serif', 'Times New Roman', serif" font-size="7" fill="#000" stroke="#000" stroke-width="0.2">Azimuth (degree)</text><text transform="translate(138.3 80.5) rotate(-90)" text-anchor="middle" font-family="'Liberation Serif', 'Times New Roman', serif" font-size="7" fill="#000" stroke="#000" stroke-width="0.2">Range (meter)</text><rect x="328.0" y="7.0" width="10.9" height="148.2" fill="url(#cbgrad)"/><rect x="328.0" y="7.0" width="10.9" height="148.2" fill="none" stroke="#111" stroke-width="0.5" stroke-opacity="0.6"/><line x1="328.0" y1="145.7" x2="329.2" y2="145.7" stroke="#000" stroke-width="0.5" stroke-opacity="0.6"/><line x1="338.9" y1="145.7" x2="337.7" y2="145.7" stroke="#000" stroke-width="0.5" stroke-opacity="0.6"/><line x1="328.0" y1="130.6" x2="329.2" y2="130.6" stroke="#000" stroke-width="0.5" stroke-opacity="0.6"/><line x1="338.9" y1="130.6" x2="337.7" y2="130.6" stroke="#000" stroke-width="0.5" stroke-opacity="0.6"/><line x1="328.0" y1="115.5" x2="329.2" y2="115.5" stroke="#000" stroke-width="0.5" stroke-opacity="0.6"/><line x1="338.9" y1="115.5" x2="337.7" y2="115.5" stroke="#000" stroke-width="0.5" stroke-opacity="0.6"/><line x1="328.0" y1="100.3" x2="329.2" y2="100.3" stroke="#000" stroke-width="0.5" stroke-opacity="0.6"/><line x1="338.9" y1="100.3" x2="337.7" y2="100.3" stroke="#000" stroke-width="0.5" stroke-opacity="0.6"/><line x1="328.0" y1="85.2" x2="329.2" y2="85.2" stroke="#000" stroke-width="0.5" stroke-opacity="0.6"/><line x1="338.9" y1="85.2" x2="337.7" y2="85.2" stroke="#000" stroke-width="0.5" stroke-opacity="0.6"/><line x1="328.0" y1="70.0" x2="329.2" y2="70.0" stroke="#000" stroke-width="0.5" stroke-opacity="0.6"/><line x1="338.9" y1="70.0" x2="337.7" y2="70.0" stroke="#000" stroke-width="0.5" stroke-opacity="0.6"/><line x1="328.0" y1="54.9" x2="329.2" y2="54.9" stroke="#000" stroke-width="0.5" stroke-opacity="0.6"/><line x1="338.9" y1="54.9" x2="337.7" y2="54.9" stroke="#000" stroke-width="0.5" stroke-opacity="0.6"/><line x1="328.0" y1="39.7" x2="329.2" y2="39.7" stroke="#000" stroke-width="0.5" stroke-opacity="0.6"/><line x1="338.9" y1="39.7" x2="337.7" y2="39.7" stroke="#000" stroke-width="0.5" stroke-opacity="0.6"/><line x1="328.0" y1="24.6" x2="329.2" y2="24.6" stroke="#000" stroke-width="0.5" stroke-opacity="0.6"/><line x1="338.9" y1="24.6" x2="337.7" y2="24.6" stroke="#000" stroke-width="0.5" stroke-opacity="0.6"/><line x1="328.0" y1="9.4" x2="329.2" y2="9.4" stroke="#000" stroke-width="0.5" stroke-opacity="0.6"/><line x1="338.9" y1="9.4" x2="337.7" y2="9.4" stroke="#000" stroke-width="0.5" stroke-opacity="0.6"/><g font-family="'Liberation Serif', 'Times New Roman', serif" font-size="7.4" fill="#000" stroke="#000" stroke-width="0.12"><text transform="translate(340.40 149.05) scale(0.78 1)">100</text><text transform="translate(340.40 133.90) scale(0.78 1)">200</text><text transform="translate(340.40 118.75) scale(0.78 1)">300</text><text transform="translate(340.40 103.61) scale(0.78 1)">400</text><text transform="translate(340.40 88.46) scale(0.78 1)">500</text><text transform="translate(340.40 73.31) scale(0.78 1)">600</text><text transform="translate(340.40 58.17) scale(0.78 1)">700</text><text transform="translate(340.40 43.02) scale(0.78 1)">800</text><text transform="translate(340.40 27.87) scale(0.78 1)">900</text><text transform="translate(340.40 12.72) scale(0.78 1)">1000</text></g><text x="243.6" y="181.0" text-anchor="middle" font-family="'Liberation Serif', 'Times New Roman', serif" font-weight="bold" font-size="10.8" fill="#000">(a)</text><clipPath id="clipb"><rect x="25.5" y="185.6" width="165.2" height="147.8"/></clipPath><filter id="fb" filterUnits="userSpaceOnUse" x="15.5" y="175.6" width="185.2" height="167.79999999999998" color-interpolation-filters="sRGB"><feGaussianBlur stdDeviation="0.9 0.65"/><feComponentTransfer><feFuncR type="table" tableValues="0.1569 0.1725 0.1882 0.1882 0.1765 0.1765 0.3137 0.4392 0.5882 0.7843 0.9608 0.9686 0.9529 0.9333 0.9098 0.7451 0.5294"/><feFuncG type="table" tableValues="0.1569 0.1804 0.2275 0.3137 0.4314 0.6392 0.7451 0.7686 0.7843 0.8431 0.9137 0.7647 0.5490 0.3137 0.1176 0.1098 0.0980"/><feFuncB type="table" tableValues="0.4784 0.5294 0.5961 0.6667 0.7647 0.8941 0.8824 0.6745 0.4706 0.2745 0.1490 0.1176 0.1255 0.1373 0.1412 0.1255 0.1098"/></feComponentTransfer></filter><g clip-path="url(#clipb)"><g filter="url(#fb)"><rect x="15.5" y="175.6" width="185.2" height="167.8" fill="#050505"/><ellipse cx="183.4" cy="325.7" rx="6.0" ry="1.4" fill="url(#g2)" fill-opacity="0.035" transform="rotate(-0.6 183.4 325.7)"/><ellipse cx="136.1" cy="231.1" rx="14.3" ry="1.6" fill="url(#g2)" fill-opacity="0.080" transform="rotate(-6.4 136.1 231.1)"/><ellipse cx="96.6" cy="243.8" rx="19.7" ry="1.9" fill="url(#g2)" fill-opacity="0.090" transform="rotate(-2.6 96.6 243.8)"/><ellipse cx="99.0" cy="225.2" rx="5.3" ry="1.2" fill="url(#g2)" fill-opacity="0.034" transform="rotate(-4.8 99.0 225.2)"/><ellipse cx="88.3" cy="317.4" rx="13.5" ry="1.3" fill="url(#g2)" fill-opacity="0.074" transform="rotate(-7.8 88.3 317.4)"/><ellipse cx="79.2" cy="205.8" rx="19.1" ry="1.6" fill="url(#g2)" fill-opacity="0.072" transform="rotate(-6.2 79.2 205.8)"/><ellipse cx="173.1" cy="303.4" rx="18.6" ry="1.8" fill="url(#g2)" fill-opacity="0.091" transform="rotate(-0.1 173.1 303.4)"/><ellipse cx="83.9" cy="330.6" rx="9.0" ry="1.8" fill="url(#g2)" fill-opacity="0.109" transform="rotate(-0.8 83.9 330.6)"/><ellipse cx="101.7" cy="264.0" rx="18.0" ry="1.5" fill="url(#g2)" fill-opacity="0.071" transform="rotate(0.3 101.7 264.0)"/><ellipse cx="84.0" cy="316.1" rx="13.0" ry="1.6" fill="url(#g2)" fill-opacity="0.104" transform="rotate(1.2 84.0 316.1)"/><ellipse cx="145.1" cy="257.5" rx="9.6" ry="1.5" fill="url(#g2)" fill-opacity="0.049" transform="rotate(-6.3 145.1 257.5)"/><ellipse cx="175.5" cy="225.2" rx="10.9" ry="2.0" fill="url(#g2)" fill-opacity="0.105" transform="rotate(-0.9 175.5 225.2)"/><ellipse cx="108.8" cy="262.1" rx="14.2" ry="1.4" fill="url(#g2)" fill-opacity="0.084" transform="rotate(-5.9 108.8 262.1)"/><ellipse cx="110.1" cy="323.7" rx="7.5" ry="1.8" fill="url(#g2)" fill-opacity="0.081" transform="rotate(-0.7 110.1 323.7)"/><ellipse cx="175.4" cy="213.9" rx="7.4" ry="1.7" fill="url(#g2)" fill-opacity="0.091" transform="rotate(-5.3 175.4 213.9)"/><ellipse cx="62.9" cy="315.0" rx="11.0" ry="1.5" fill="url(#g2)" fill-opacity="0.039" transform="rotate(-5.6 62.9 315.0)"/><ellipse cx="60.3" cy="315.7" rx="15.2" ry="1.1" fill="url(#g2)" fill-opacity="0.065" transform="rotate(-4.4 60.3 315.7)"/><ellipse cx="53.9" cy="285.0" rx="15.4" ry="0.9" fill="url(#g2)" fill-opacity="0.037" transform="rotate(-0.7 53.9 285.0)"/><ellipse cx="29.0" cy="223.4" rx="8.8" ry="1.3" fill="url(#g2)" fill-opacity="0.097" transform="rotate(-1.1 29.0 223.4)"/><ellipse cx="89.2" cy="192.0" rx="8.9" ry="1.2" fill="url(#g2)" fill-opacity="0.111" transform="rotate(-4.6 89.2 192.0)"/><ellipse cx="127.1" cy="295.3" rx="9.1" ry="0.9" fill="url(#g2)" fill-opacity="0.040" transform="rotate(-3.5 127.1 295.3)"/><ellipse cx="152.0" cy="295.0" rx="16.9" ry="1.9" fill="url(#g2)" fill-opacity="0.104" transform="rotate(-0.9 152.0 295.0)"/><ellipse cx="103.6" cy="218.9" rx="10.7" ry="1.2" fill="url(#g2)" fill-opacity="0.085" transform="rotate(-3.5 103.6 218.9)"/><ellipse cx="170.0" cy="204.4" rx="11.5" ry="1.5" fill="url(#g2)" fill-opacity="0.078" transform="rotate(-6.6 170.0 204.4)"/><ellipse cx="184.0" cy="223.9" rx="11.9" ry="1.1" fill="url(#g2)" fill-opacity="0.080" transform="rotate(-2.4 184.0 223.9)"/><ellipse cx="48.7" cy="194.0" rx="6.6" ry="0.9" fill="url(#g2)" fill-opacity="0.033" transform="rotate(-1.6 48.7 194.0)"/><ellipse cx="109.5" cy="331.0" rx="20.2" ry="1.3" fill="url(#g2)" fill-opacity="0.107" transform="rotate(-3.6 109.5 331.0)"/><ellipse cx="66.9" cy="273.0" rx="16.9" ry="1.7" fill="url(#g2)" fill-opacity="0.082" transform="rotate(-5.4 66.9 273.0)"/><ellipse cx="95.4" cy="263.4" rx="5.2" ry="1.1" fill="url(#g2)" fill-opacity="0.031" transform="rotate(-6.9 95.4 263.4)"/><ellipse cx="145.1" cy="221.2" rx="7.3" ry="1.1" fill="url(#g2)" fill-opacity="0.039" transform="rotate(-5.8 145.1 221.2)"/><ellipse cx="111.5" cy="254.2" rx="13.7" ry="1.2" fill="url(#g2)" fill-opacity="0.056" transform="rotate(1.1 111.5 254.2)"/><ellipse cx="184.6" cy="293.3" rx="12.6" ry="1.5" fill="url(#g2)" fill-opacity="0.066" transform="rotate(-7.5 184.6 293.3)"/><ellipse cx="94.6" cy="263.2" rx="6.7" ry="1.6" fill="url(#g2)" fill-opacity="0.045" transform="rotate(-4.3 94.6 263.2)"/><ellipse cx="111.3" cy="321.8" rx="10.2" ry="1.9" fill="url(#g2)" fill-opacity="0.080" transform="rotate(-4.3 111.3 321.8)"/><ellipse cx="28.6" cy="286.9" rx="8.7" ry="1.5" fill="url(#g2)" fill-opacity="0.039" transform="rotate(-1.3 28.6 286.9)"/><ellipse cx="28.1" cy="252.3" rx="12.2" ry="1.2" fill="url(#g2)" fill-opacity="0.064" transform="rotate(-2.1 28.1 252.3)"/><ellipse cx="37.7" cy="227.6" rx="17.6" ry="1.1" fill="url(#g2)" fill-opacity="0.061" transform="rotate(-0.5 37.7 227.6)"/><ellipse cx="57.3" cy="270.1" rx="11.9" ry="1.6" fill="url(#g2)" fill-opacity="0.063" transform="rotate(-4.0 57.3 270.1)"/><ellipse cx="45.6" cy="203.6" rx="14.2" ry="1.3" fill="url(#g2)" fill-opacity="0.037" transform="rotate(1.6 45.6 203.6)"/><ellipse cx="139.9" cy="189.2" rx="16.7" ry="1.7" fill="url(#g2)" fill-opacity="0.084" transform="rotate(-3.0 139.9 189.2)"/><ellipse cx="84.6" cy="253.1" rx="10.3" ry="1.6" fill="url(#g2)" fill-opacity="0.096" transform="rotate(-3.2 84.6 253.1)"/><ellipse cx="183.2" cy="304.5" rx="18.1" ry="1.4" fill="url(#g2)" fill-opacity="0.107" transform="rotate(-5.7 183.2 304.5)"/><ellipse cx="106.2" cy="223.9" rx="14.7" ry="1.8" fill="url(#g2)" fill-opacity="0.066" transform="rotate(-2.1 106.2 223.9)"/><ellipse cx="160.6" cy="199.8" rx="18.3" ry="1.1" fill="url(#g2)" fill-opacity="0.060" transform="rotate(-3.8 160.6 199.8)"/><ellipse cx="36.5" cy="198.3" rx="20.1" ry="1.7" fill="url(#g2)" fill-opacity="0.104" transform="rotate(-6.7 36.5 198.3)"/><ellipse cx="74.5" cy="219.8" rx="15.5" ry="1.5" fill="url(#g2)" fill-opacity="0.085" transform="rotate(-2.8 74.5 219.8)"/><ellipse cx="44.0" cy="265.5" rx="17.0" ry="1.2" fill="url(#g2)" fill-opacity="0.108" transform="rotate(-2.8 44.0 265.5)"/><ellipse cx="143.7" cy="223.6" rx="13.0" ry="1.8" fill="url(#g2)" fill-opacity="0.104" transform="rotate(-4.0 143.7 223.6)"/><ellipse cx="189.9" cy="301.3" rx="8.3" ry="1.5" fill="url(#g2)" fill-opacity="0.077" transform="rotate(-7.7 189.9 301.3)"/><ellipse cx="123.8" cy="315.9" rx="11.4" ry="1.3" fill="url(#g2)" fill-opacity="0.045" transform="rotate(-4.0 123.8 315.9)"/><ellipse cx="142.9" cy="324.0" rx="12.8" ry="1.9" fill="url(#g2)" fill-opacity="0.088" transform="rotate(-4.7 142.9 324.0)"/><ellipse cx="148.7" cy="282.9" rx="17.9" ry="1.3" fill="url(#g2)" fill-opacity="0.093" transform="rotate(-1.8 148.7 282.9)"/><ellipse cx="92.0" cy="284.2" rx="15.4" ry="1.1" fill="url(#g2)" fill-opacity="0.110" transform="rotate(-3.4 92.0 284.2)"/><ellipse cx="143.1" cy="316.1" rx="17.2" ry="1.1" fill="url(#g2)" fill-opacity="0.084" transform="rotate(1.4 143.1 316.1)"/><ellipse cx="146.0" cy="275.2" rx="18.7" ry="1.2" fill="url(#g2)" fill-opacity="0.105" transform="rotate(0.2 146.0 275.2)"/><ellipse cx="152.2" cy="215.1" rx="14.4" ry="1.3" fill="url(#g2)" fill-opacity="0.091" transform="rotate(0.0 152.2 215.1)"/><ellipse cx="48.3" cy="276.1" rx="9.4" ry="1.5" fill="url(#g2)" fill-opacity="0.066" transform="rotate(-3.3 48.3 276.1)"/><ellipse cx="59.4" cy="328.5" rx="5.3" ry="1.2" fill="url(#g2)" fill-opacity="0.037" transform="rotate(0.4 59.4 328.5)"/><ellipse cx="134.3" cy="297.1" rx="14.9" ry="1.3" fill="url(#g2)" fill-opacity="0.070" transform="rotate(-5.3 134.3 297.1)"/><ellipse cx="108.6" cy="189.7" rx="13.2" ry="1.0" fill="url(#g2)" fill-opacity="0.037" transform="rotate(-0.5 108.6 189.7)"/><ellipse cx="155.1" cy="245.4" rx="16.9" ry="1.8" fill="url(#g2)" fill-opacity="0.086" transform="rotate(-6.7 155.1 245.4)"/><ellipse cx="52.4" cy="242.0" rx="10.0" ry="1.1" fill="url(#g2)" fill-opacity="0.069" transform="rotate(-2.4 52.4 242.0)"/><ellipse cx="185.2" cy="239.8" rx="11.3" ry="1.4" fill="url(#g2)" fill-opacity="0.075" transform="rotate(0.7 185.2 239.8)"/><ellipse cx="76.5" cy="281.5" rx="13.1" ry="1.8" fill="url(#g2)" fill-opacity="0.070" transform="rotate(-7.2 76.5 281.5)"/><ellipse cx="161.7" cy="230.6" rx="16.9" ry="1.7" fill="url(#g2)" fill-opacity="0.083" transform="rotate(-4.1 161.7 230.6)"/><ellipse cx="164.4" cy="199.3" rx="11.6" ry="1.5" fill="url(#g2)" fill-opacity="0.082" transform="rotate(0.5 164.4 199.3)"/><ellipse cx="157.3" cy="278.5" rx="8.8" ry="1.4" fill="url(#g2)" fill-opacity="0.056" transform="rotate(-5.7 157.3 278.5)"/><ellipse cx="71.3" cy="327.2" rx="14.3" ry="1.2" fill="url(#g2)" fill-opacity="0.040" transform="rotate(-4.4 71.3 327.2)"/><ellipse cx="78.1" cy="197.0" rx="8.4" ry="1.4" fill="url(#g2)" fill-opacity="0.068" transform="rotate(-5.1 78.1 197.0)"/><ellipse cx="173.3" cy="321.8" rx="14.3" ry="1.8" fill="url(#g2)" fill-opacity="0.067" transform="rotate(-4.7 173.3 321.8)"/><ellipse cx="41.9" cy="220.8" rx="13.4" ry="1.2" fill="url(#g2)" fill-opacity="0.046" transform="rotate(-4.4 41.9 220.8)"/><ellipse cx="156.9" cy="220.1" rx="15.1" ry="1.5" fill="url(#g2)" fill-opacity="0.097" transform="rotate(0.2 156.9 220.1)"/><ellipse cx="82.0" cy="315.5" rx="13.6" ry="1.7" fill="url(#g2)" fill-opacity="0.106" transform="rotate(1.5 82.0 315.5)"/><ellipse cx="148.2" cy="296.6" rx="19.3" ry="1.8" fill="url(#g2)" fill-opacity="0.102" transform="rotate(1.8 148.2 296.6)"/><ellipse cx="73.7" cy="277.6" rx="11.4" ry="1.4" fill="url(#g2)" fill-opacity="0.085" transform="rotate(-6.3 73.7 277.6)"/><ellipse cx="183.7" cy="237.9" rx="17.6" ry="1.2" fill="url(#g2)" fill-opacity="0.070" transform="rotate(1.6 183.7 237.9)"/><ellipse cx="46.5" cy="189.7" rx="10.5" ry="1.8" fill="url(#g2)" fill-opacity="0.059" transform="rotate(0.8 46.5 189.7)"/><ellipse cx="151.3" cy="250.1" rx="9.4" ry="1.8" fill="url(#g2)" fill-opacity="0.075" transform="rotate(-4.1 151.3 250.1)"/><ellipse cx="72.5" cy="279.9" rx="9.1" ry="1.6" fill="url(#g2)" fill-opacity="0.043" transform="rotate(-7.0 72.5 279.9)"/><ellipse cx="49.0" cy="215.8" rx="10.8" ry="1.2" fill="url(#g2)" fill-opacity="0.051" transform="rotate(-4.6 49.0 215.8)"/><ellipse cx="66.2" cy="221.1" rx="10.8" ry="1.4" fill="url(#g2)" fill-opacity="0.080" transform="rotate(-0.3 66.2 221.1)"/><ellipse cx="35.7" cy="206.9" rx="12.5" ry="1.8" fill="url(#g2)" fill-opacity="0.100" transform="rotate(-6.7 35.7 206.9)"/><ellipse cx="111.9" cy="310.5" rx="15.4" ry="1.5" fill="url(#g2)" fill-opacity="0.058" transform="rotate(-4.1 111.9 310.5)"/><ellipse cx="190.3" cy="243.6" rx="14.1" ry="1.3" fill="url(#g2)" fill-opacity="0.069" transform="rotate(0.4 190.3 243.6)"/><ellipse cx="124.2" cy="272.5" rx="19.0" ry="1.9" fill="url(#g2)" fill-opacity="0.075" transform="rotate(0.4 124.2 272.5)"/><ellipse cx="100.6" cy="246.5" rx="7.0" ry="1.2" fill="url(#g2)" fill-opacity="0.073" transform="rotate(2.0 100.6 246.5)"/><ellipse cx="46.7" cy="324.1" rx="18.6" ry="1.2" fill="url(#g2)" fill-opacity="0.086" transform="rotate(-4.9 46.7 324.1)"/><ellipse cx="157.3" cy="186.9" rx="9.2" ry="1.0" fill="url(#g2)" fill-opacity="0.039" transform="rotate(-6.5 157.3 186.9)"/><ellipse cx="136.1" cy="199.2" rx="15.6" ry="1.2" fill="url(#g2)" fill-opacity="0.110" transform="rotate(1.0 136.1 199.2)"/><ellipse cx="65.4" cy="256.8" rx="8.2" ry="1.5" fill="url(#g2)" fill-opacity="0.076" transform="rotate(-7.4 65.4 256.8)"/><ellipse cx="58.5" cy="321.4" rx="13.7" ry="1.7" fill="url(#g2)" fill-opacity="0.098" transform="rotate(0.8 58.5 321.4)"/><ellipse cx="48.6" cy="258.3" rx="6.8" ry="1.0" fill="url(#g2)" fill-opacity="0.041" transform="rotate(-5.9 48.6 258.3)"/><ellipse cx="34.3" cy="217.4" rx="13.8" ry="1.7" fill="url(#g2)" fill-opacity="0.062" transform="rotate(1.0 34.3 217.4)"/><ellipse cx="144.0" cy="260.5" rx="9.0" ry="1.2" fill="url(#g2)" fill-opacity="0.105" transform="rotate(0.2 144.0 260.5)"/><ellipse cx="129.1" cy="216.7" rx="9.8" ry="1.4" fill="url(#g2)" fill-opacity="0.061" transform="rotate(-3.7 129.1 216.7)"/><ellipse cx="91.3" cy="303.5" rx="14.2" ry="1.5" fill="url(#g2)" fill-opacity="0.097" transform="rotate(-5.2 91.3 303.5)"/><ellipse cx="151.9" cy="331.5" rx="14.0" ry="1.5" fill="url(#g2)" fill-opacity="0.049" transform="rotate(-1.4 151.9 331.5)"/><ellipse cx="30.6" cy="267.1" rx="8.0" ry="1.4" fill="url(#g2)" fill-opacity="0.047" transform="rotate(-1.5 30.6 267.1)"/><ellipse cx="128.8" cy="295.3" rx="12.8" ry="1.1" fill="url(#g2)" fill-opacity="0.088" transform="rotate(-0.3 128.8 295.3)"/><ellipse cx="161.5" cy="309.1" rx="7.0" ry="1.2" fill="url(#g2)" fill-opacity="0.079" transform="rotate(-6.9 161.5 309.1)"/><ellipse cx="130.5" cy="266.0" rx="16.6" ry="1.7" fill="url(#g2)" fill-opacity="0.046" transform="rotate(1.0 130.5 266.0)"/><ellipse cx="102.1" cy="228.7" rx="15.2" ry="1.5" fill="url(#g2)" fill-opacity="0.048" transform="rotate(-5.2 102.1 228.7)"/><ellipse cx="174.6" cy="269.7" rx="11.4" ry="1.6" fill="url(#g2)" fill-opacity="0.064" transform="rotate(-3.4 174.6 269.7)"/><ellipse cx="134.4" cy="203.6" rx="10.2" ry="1.9" fill="url(#g2)" fill-opacity="0.088" transform="rotate(-5.9 134.4 203.6)"/><ellipse cx="80.5" cy="265.1" rx="12.7" ry="1.8" fill="url(#g2)" fill-opacity="0.063" transform="rotate(-6.0 80.5 265.1)"/><ellipse cx="153.1" cy="288.1" rx="12.6" ry="1.5" fill="url(#g2)" fill-opacity="0.095" transform="rotate(-4.5 153.1 288.1)"/><ellipse cx="103.7" cy="223.2" rx="11.1" ry="1.1" fill="url(#g2)" fill-opacity="0.046" transform="rotate(-3.3 103.7 223.2)"/><ellipse cx="120.2" cy="231.3" rx="12.4" ry="1.6" fill="url(#g2)" fill-opacity="0.045" transform="rotate(-5.8 120.2 231.3)"/><ellipse cx="127.2" cy="283.0" rx="15.9" ry="1.4" fill="url(#g2)" fill-opacity="0.103" transform="rotate(-5.9 127.2 283.0)"/><ellipse cx="163.7" cy="229.8" rx="13.4" ry="0.9" fill="url(#g2)" fill-opacity="0.032" transform="rotate(-4.9 163.7 229.8)"/><ellipse cx="78.2" cy="223.4" rx="11.1" ry="1.5" fill="url(#g2)" fill-opacity="0.090" transform="rotate(-3.8 78.2 223.4)"/><ellipse cx="163.2" cy="188.3" rx="8.1" ry="1.2" fill="url(#g2)" fill-opacity="0.078" transform="rotate(-1.9 163.2 188.3)"/><ellipse cx="87.6" cy="195.2" rx="18.3" ry="1.6" fill="url(#g2)" fill-opacity="0.079" transform="rotate(-3.0 87.6 195.2)"/><ellipse cx="157.8" cy="321.0" rx="8.9" ry="1.6" fill="url(#g2)" fill-opacity="0.043" transform="rotate(1.3 157.8 321.0)"/><ellipse cx="59.0" cy="289.6" rx="14.7" ry="1.8" fill="url(#g2)" fill-opacity="0.102" transform="rotate(-2.8 59.0 289.6)"/><ellipse cx="64.3" cy="217.1" rx="12.1" ry="1.0" fill="url(#g2)" fill-opacity="0.036" transform="rotate(-1.8 64.3 217.1)"/><ellipse cx="90.1" cy="250.1" rx="12.1" ry="1.6" fill="url(#g2)" fill-opacity="0.110" transform="rotate(-4.2 90.1 250.1)"/><ellipse cx="61.0" cy="218.7" rx="16.8" ry="1.1" fill="url(#g2)" fill-opacity="0.074" transform="rotate(1.5 61.0 218.7)"/><ellipse cx="136.9" cy="193.6" rx="11.9" ry="1.5" fill="url(#g2)" fill-opacity="0.088" transform="rotate(-7.0 136.9 193.6)"/><ellipse cx="109.8" cy="262.4" rx="14.4" ry="1.7" fill="url(#g2)" fill-opacity="0.094" transform="rotate(-0.7 109.8 262.4)"/><ellipse cx="62.0" cy="189.3" rx="7.9" ry="1.2" fill="url(#g2)" fill-opacity="0.070" transform="rotate(-4.8 62.0 189.3)"/><ellipse cx="114.3" cy="276.6" rx="18.8" ry="1.2" fill="url(#g2)" fill-opacity="0.083" transform="rotate(-2.4 114.3 276.6)"/><ellipse cx="39.8" cy="284.6" rx="8.0" ry="1.3" fill="url(#g2)" fill-opacity="0.066" transform="rotate(-1.4 39.8 284.6)"/><ellipse cx="103.7" cy="325.2" rx="10.3" ry="1.8" fill="url(#g2)" fill-opacity="0.060" transform="rotate(-1.9 103.7 325.2)"/><ellipse cx="43.2" cy="301.5" rx="17.7" ry="1.5" fill="url(#g2)" fill-opacity="0.060" transform="rotate(0.0 43.2 301.5)"/><ellipse cx="173.5" cy="260.9" rx="7.1" ry="1.4" fill="url(#g2)" fill-opacity="0.110" transform="rotate(0.4 173.5 260.9)"/><ellipse cx="26.9" cy="285.0" rx="16.6" ry="1.9" fill="url(#g2)" fill-opacity="0.112" transform="rotate(-7.2 26.9 285.0)"/><ellipse cx="114.8" cy="275.7" rx="11.5" ry="1.7" fill="url(#g2)" fill-opacity="0.066" transform="rotate(-6.4 114.8 275.7)"/><ellipse cx="32.9" cy="273.3" rx="18.0" ry="1.7" fill="url(#g2)" fill-opacity="0.110" transform="rotate(-5.1 32.9 273.3)"/><ellipse cx="174.9" cy="191.5" rx="15.1" ry="1.7" fill="url(#g2)" fill-opacity="0.051" transform="rotate(-4.0 174.9 191.5)"/><ellipse cx="175.7" cy="202.0" rx="7.3" ry="1.3" fill="url(#g2)" fill-opacity="0.079" transform="rotate(-6.1 175.7 202.0)"/><ellipse cx="26.5" cy="245.5" rx="9.9" ry="1.6" fill="url(#g2)" fill-opacity="0.071" transform="rotate(-7.5 26.5 245.5)"/><ellipse cx="111.0" cy="263.6" rx="17.5" ry="1.1" fill="url(#g2)" fill-opacity="0.064" transform="rotate(-3.7 111.0 263.6)"/><ellipse cx="101.5" cy="240.7" rx="14.6" ry="1.6" fill="url(#g2)" fill-opacity="0.110" transform="rotate(-3.6 101.5 240.7)"/><ellipse cx="97.8" cy="326.2" rx="15.3" ry="1.3" fill="url(#g2)" fill-opacity="0.096" transform="rotate(-2.1 97.8 326.2)"/><ellipse cx="46.6" cy="237.5" rx="12.0" ry="1.5" fill="url(#g2)" fill-opacity="0.032" transform="rotate(-1.6 46.6 237.5)"/><ellipse cx="119.6" cy="222.6" rx="12.1" ry="1.4" fill="url(#g2)" fill-opacity="0.067" transform="rotate(-5.3 119.6 222.6)"/><ellipse cx="61.7" cy="296.5" rx="17.9" ry="1.7" fill="url(#g2)" fill-opacity="0.108" transform="rotate(-7.7 61.7 296.5)"/><ellipse cx="75.4" cy="309.8" rx="14.2" ry="1.6" fill="url(#g2)" fill-opacity="0.110" transform="rotate(-1.1 75.4 309.8)"/><ellipse cx="66.3" cy="290.9" rx="16.5" ry="1.4" fill="url(#g2)" fill-opacity="0.060" transform="rotate(-1.4 66.3 290.9)"/><ellipse cx="117.4" cy="264.6" rx="18.3" ry="1.7" fill="url(#g2)" fill-opacity="0.068" transform="rotate(-3.8 117.4 264.6)"/><ellipse cx="109.0" cy="318.3" rx="15.3" ry="2.0" fill="url(#g2)" fill-opacity="0.092" transform="rotate(-6.8 109.0 318.3)"/><ellipse cx="124.3" cy="277.9" rx="18.4" ry="1.9" fill="url(#g2)" fill-opacity="0.068" transform="rotate(-4.1 124.3 277.9)"/><ellipse cx="127.3" cy="298.8" rx="11.3" ry="1.8" fill="url(#g2)" fill-opacity="0.087" transform="rotate(-4.5 127.3 298.8)"/><ellipse cx="49.8" cy="283.8" rx="11.9" ry="1.5" fill="url(#g2)" fill-opacity="0.084" transform="rotate(1.9 49.8 283.8)"/><ellipse cx="159.0" cy="245.8" rx="14.5" ry="1.5" fill="url(#g2)" fill-opacity="0.105" transform="rotate(-1.5 159.0 245.8)"/><ellipse cx="154.9" cy="318.1" rx="15.3" ry="1.4" fill="url(#g2)" fill-opacity="0.085" transform="rotate(-7.6 154.9 318.1)"/><ellipse cx="100.6" cy="202.5" rx="11.7" ry="1.7" fill="url(#g2)" fill-opacity="0.108" transform="rotate(-0.7 100.6 202.5)"/><ellipse cx="55.0" cy="308.8" rx="7.0" ry="1.5" fill="url(#g2)" fill-opacity="0.057" transform="rotate(-4.0 55.0 308.8)"/><ellipse cx="177.3" cy="251.3" rx="5.5" ry="0.9" fill="url(#g2)" fill-opacity="0.038" transform="rotate(-3.1 177.3 251.3)"/><ellipse cx="143.5" cy="193.2" rx="11.8" ry="1.7" fill="url(#g2)" fill-opacity="0.058" transform="rotate(1.7 143.5 193.2)"/><ellipse cx="170.1" cy="280.0" rx="9.3" ry="1.6" fill="url(#g2)" fill-opacity="0.078" transform="rotate(-6.3 170.1 280.0)"/><ellipse cx="75.6" cy="308.3" rx="15.8" ry="1.5" fill="url(#g2)" fill-opacity="0.077" transform="rotate(-5.2 75.6 308.3)"/><ellipse cx="108.7" cy="270.3" rx="15.7" ry="1.7" fill="url(#g2)" fill-opacity="0.050" transform="rotate(-6.2 108.7 270.3)"/><ellipse cx="65.5" cy="305.5" rx="9.6" ry="1.6" fill="url(#g2)" fill-opacity="0.090" transform="rotate(-5.6 65.5 305.5)"/><ellipse cx="168.0" cy="272.4" rx="8.4" ry="1.4" fill="url(#g2)" fill-opacity="0.072" transform="rotate(-3.3 168.0 272.4)"/><ellipse cx="85.3" cy="212.2" rx="13.7" ry="1.7" fill="url(#g2)" fill-opacity="0.047" transform="rotate(0.4 85.3 212.2)"/><ellipse cx="127.1" cy="302.5" rx="7.8" ry="1.4" fill="url(#g2)" fill-opacity="0.042" transform="rotate(-8.0 127.1 302.5)"/><ellipse cx="39.4" cy="300.7" rx="7.8" ry="1.3" fill="url(#g2)" fill-opacity="0.047" transform="rotate(0.4 39.4 300.7)"/><ellipse cx="27.2" cy="315.3" rx="12.9" ry="1.4" fill="url(#g2)" fill-opacity="0.055" transform="rotate(-6.8 27.2 315.3)"/><ellipse cx="103.9" cy="282.8" rx="7.8" ry="1.6" fill="url(#g2)" fill-opacity="0.102" transform="rotate(-21.8 103.9 282.8)"/><ellipse cx="70.8" cy="305.4" rx="11.5" ry="2.1" fill="url(#g2)" fill-opacity="0.104" transform="rotate(-15.5 70.8 305.4)"/><ellipse cx="49.5" cy="250.6" rx="12.4" ry="1.4" fill="url(#g2)" fill-opacity="0.056" transform="rotate(-12.0 49.5 250.6)"/><ellipse cx="37.8" cy="287.1" rx="9.3" ry="2.2" fill="url(#g2)" fill-opacity="0.072" transform="rotate(-29.6 37.8 287.1)"/><ellipse cx="35.5" cy="320.8" rx="7.3" ry="2.4" fill="url(#g2)" fill-opacity="0.088" transform="rotate(-9.2 35.5 320.8)"/><ellipse cx="44.1" cy="248.1" rx="8.1" ry="1.9" fill="url(#g2)" fill-opacity="0.053" transform="rotate(-26.4 44.1 248.1)"/><ellipse cx="140.6" cy="193.2" rx="11.8" ry="1.7" fill="url(#g2)" fill-opacity="0.057" transform="rotate(-20.8 140.6 193.2)"/><ellipse cx="124.0" cy="256.1" rx="6.6" ry="2.1" fill="url(#g2)" fill-opacity="0.076" transform="rotate(-8.7 124.0 256.1)"/><ellipse cx="186.8" cy="283.7" rx="9.1" ry="2.1" fill="url(#g2)" fill-opacity="0.074" transform="rotate(-15.2 186.8 283.7)"/><ellipse cx="44.3" cy="220.3" rx="10.2" ry="2.2" fill="url(#g2)" fill-opacity="0.074" transform="rotate(-19.0 44.3 220.3)"/><ellipse cx="30.1" cy="307.2" rx="10.4" ry="1.7" fill="url(#g2)" fill-opacity="0.080" transform="rotate(-20.6 30.1 307.2)"/><ellipse cx="89.6" cy="299.7" rx="9.6" ry="1.5" fill="url(#g2)" fill-opacity="0.050" transform="rotate(-14.7 89.6 299.7)"/><ellipse cx="31.6" cy="226.5" rx="11.1" ry="1.5" fill="url(#g2)" fill-opacity="0.072" transform="rotate(-19.9 31.6 226.5)"/><ellipse cx="60.0" cy="227.3" rx="13.9" ry="1.9" fill="url(#g2)" fill-opacity="0.085" transform="rotate(-9.0 60.0 227.3)"/><ellipse cx="53.2" cy="322.2" rx="7.8" ry="2.1" fill="url(#g2)" fill-opacity="0.074" transform="rotate(-9.9 53.2 322.2)"/><ellipse cx="26.6" cy="225.2" rx="9.5" ry="1.8" fill="url(#g2)" fill-opacity="0.112" transform="rotate(-29.8 26.6 225.2)"/><ellipse cx="32.1" cy="277.1" rx="15.0" ry="2.1" fill="url(#g2)" fill-opacity="0.131" transform="rotate(-29.5 32.1 277.1)"/><ellipse cx="78.8" cy="302.0" rx="12.0" ry="1.8" fill="url(#g2)" fill-opacity="0.117" transform="rotate(-18.4 78.8 302.0)"/><ellipse cx="104.4" cy="278.3" rx="13.1" ry="2.2" fill="url(#g2)" fill-opacity="0.065" transform="rotate(-26.4 104.4 278.3)"/><ellipse cx="73.6" cy="314.7" rx="13.1" ry="1.9" fill="url(#g2)" fill-opacity="0.066" transform="rotate(-14.7 73.6 314.7)"/><ellipse cx="141.9" cy="217.2" rx="8.1" ry="2.0" fill="url(#g2)" fill-opacity="0.067" transform="rotate(-14.7 141.9 217.2)"/><ellipse cx="47.3" cy="316.6" rx="8.3" ry="1.9" fill="url(#g2)" fill-opacity="0.079" transform="rotate(-8.5 47.3 316.6)"/><ellipse cx="118.0" cy="277.9" rx="14.6" ry="2.3" fill="url(#g2)" fill-opacity="0.125" transform="rotate(-20.8 118.0 277.9)"/><ellipse cx="122.7" cy="318.8" rx="11.4" ry="1.9" fill="url(#g2)" fill-opacity="0.113" transform="rotate(-21.9 122.7 318.8)"/><ellipse cx="147.1" cy="268.9" rx="10.1" ry="2.0" fill="url(#g2)" fill-opacity="0.042" transform="rotate(-12.4 147.1 268.9)"/><ellipse cx="173.8" cy="320.2" rx="12.7" ry="1.9" fill="url(#g2)" fill-opacity="0.090" transform="rotate(-27.8 173.8 320.2)"/><ellipse cx="83.8" cy="231.7" rx="12.5" ry="2.1" fill="url(#g2)" fill-opacity="0.127" transform="rotate(-16.3 83.8 231.7)"/><ellipse cx="46.1" cy="264.6" rx="9.9" ry="1.8" fill="url(#g2)" fill-opacity="0.105" transform="rotate(-21.0 46.1 264.6)"/><ellipse cx="79.0" cy="286.9" rx="6.6" ry="1.6" fill="url(#g2)" fill-opacity="0.054" transform="rotate(-14.7 79.0 286.9)"/><ellipse cx="151.0" cy="283.1" rx="9.9" ry="1.6" fill="url(#g2)" fill-opacity="0.127" transform="rotate(-19.3 151.0 283.1)"/><ellipse cx="98.8" cy="212.1" rx="9.4" ry="1.8" fill="url(#g2)" fill-opacity="0.102" transform="rotate(-22.8 98.8 212.1)"/><ellipse cx="181.4" cy="186.7" rx="8.5" ry="1.7" fill="url(#g2)" fill-opacity="0.074" transform="rotate(-20.5 181.4 186.7)"/><ellipse cx="61.9" cy="321.4" rx="11.9" ry="1.7" fill="url(#g2)" fill-opacity="0.087" transform="rotate(-19.8 61.9 321.4)"/><ellipse cx="125.7" cy="310.2" rx="9.5" ry="2.2" fill="url(#g2)" fill-opacity="0.064" transform="rotate(-11.7 125.7 310.2)"/><ellipse cx="63.1" cy="265.1" rx="9.9" ry="2.2" fill="url(#g2)" fill-opacity="0.111" transform="rotate(-15.4 63.1 265.1)"/><ellipse cx="186.1" cy="267.5" rx="9.5" ry="2.2" fill="url(#g2)" fill-opacity="0.103" transform="rotate(-22.9 186.1 267.5)"/><ellipse cx="108.1" cy="238.9" rx="7.3" ry="1.7" fill="url(#g2)" fill-opacity="0.069" transform="rotate(-18.0 108.1 238.9)"/><ellipse cx="67.1" cy="192.4" rx="9.1" ry="2.4" fill="url(#g2)" fill-opacity="0.115" transform="rotate(-16.8 67.1 192.4)"/><ellipse cx="89.8" cy="314.6" rx="9.5" ry="1.7" fill="url(#g2)" fill-opacity="0.123" transform="rotate(-15.9 89.8 314.6)"/><ellipse cx="164.7" cy="275.5" rx="10.1" ry="2.2" fill="url(#g2)" fill-opacity="0.113" transform="rotate(-24.2 164.7 275.5)"/><ellipse cx="92.7" cy="241.7" rx="9.4" ry="2.2" fill="url(#g2)" fill-opacity="0.076" transform="rotate(-26.3 92.7 241.7)"/><ellipse cx="59.4" cy="223.2" rx="11.2" ry="1.7" fill="url(#g2)" fill-opacity="0.130" transform="rotate(-11.6 59.4 223.2)"/><ellipse cx="169.8" cy="307.0" rx="11.9" ry="1.7" fill="url(#g2)" fill-opacity="0.074" transform="rotate(-27.0 169.8 307.0)"/><ellipse cx="168.4" cy="308.7" rx="12.4" ry="1.4" fill="url(#g2)" fill-opacity="0.060" transform="rotate(-23.2 168.4 308.7)"/><ellipse cx="27.6" cy="210.9" rx="11.0" ry="1.6" fill="url(#g2)" fill-opacity="0.056" transform="rotate(-25.8 27.6 210.9)"/><ellipse cx="55.9" cy="231.7" rx="11.7" ry="1.7" fill="url(#g2)" fill-opacity="0.120" transform="rotate(-14.9 55.9 231.7)"/><ellipse cx="114.1" cy="251.9" rx="11.6" ry="2.2" fill="url(#g2)" fill-opacity="0.089" transform="rotate(-18.9 114.1 251.9)"/><ellipse cx="130.5" cy="254.7" rx="9.7" ry="1.9" fill="url(#g2)" fill-opacity="0.099" transform="rotate(-18.6 130.5 254.7)"/><ellipse cx="143.6" cy="226.8" rx="10.9" ry="2.4" fill="url(#g2)" fill-opacity="0.126" transform="rotate(-14.8 143.6 226.8)"/><ellipse cx="183.5" cy="286.5" rx="9.5" ry="2.0" fill="url(#g2)" fill-opacity="0.080" transform="rotate(-13.4 183.5 286.5)"/><ellipse cx="164.1" cy="204.7" rx="6.4" ry="1.4" fill="url(#g2)" fill-opacity="0.047" transform="rotate(-28.8 164.1 204.7)"/><ellipse cx="26.9" cy="222.5" rx="10.6" ry="1.9" fill="url(#g2)" fill-opacity="0.051" transform="rotate(-8.8 26.9 222.5)"/><ellipse cx="184.2" cy="296.0" rx="7.1" ry="1.8" fill="url(#g2)" fill-opacity="0.128" transform="rotate(-9.6 184.2 296.0)"/><ellipse cx="104.0" cy="216.1" rx="10.2" ry="2.1" fill="url(#g2)" fill-opacity="0.110" transform="rotate(-23.0 104.0 216.1)"/><ellipse cx="65.4" cy="198.5" rx="14.1" ry="2.4" fill="url(#g2)" fill-opacity="0.097" transform="rotate(-13.2 65.4 198.5)"/><ellipse cx="179.7" cy="239.1" rx="13.1" ry="2.0" fill="url(#g2)" fill-opacity="0.068" transform="rotate(-15.3 179.7 239.1)"/><ellipse cx="27.6" cy="219.4" rx="12.1" ry="2.2" fill="url(#g2)" fill-opacity="0.085" transform="rotate(-13.3 27.6 219.4)"/><ellipse cx="81.6" cy="242.0" rx="14.8" ry="2.0" fill="url(#g2)" fill-opacity="0.120" transform="rotate(-25.7 81.6 242.0)"/><ellipse cx="128.7" cy="264.8" rx="8.1" ry="1.8" fill="url(#g2)" fill-opacity="0.074" transform="rotate(-16.5 128.7 264.8)"/><ellipse cx="46.5" cy="265.5" rx="12.9" ry="1.8" fill="url(#g2)" fill-opacity="0.128" transform="rotate(-20.8 46.5 265.5)"/><ellipse cx="42.4" cy="294.5" rx="8.0" ry="2.1" fill="url(#g2)" fill-opacity="0.099" transform="rotate(-16.9 42.4 294.5)"/><ellipse cx="120.9" cy="241.5" rx="8.9" ry="2.3" fill="url(#g2)" fill-opacity="0.069" transform="rotate(-22.7 120.9 241.5)"/><ellipse cx="108.5" cy="253.6" rx="8.8" ry="1.6" fill="url(#g2)" fill-opacity="0.057" transform="rotate(-22.9 108.5 253.6)"/><ellipse cx="86.2" cy="237.3" rx="9.3" ry="1.9" fill="url(#g2)" fill-opacity="0.127" transform="rotate(-15.5 86.2 237.3)"/><ellipse cx="91.1" cy="261.8" rx="7.3" ry="2.2" fill="url(#g2)" fill-opacity="0.100" transform="rotate(-27.8 91.1 261.8)"/><ellipse cx="66.8" cy="305.3" rx="12.4" ry="1.8" fill="url(#g2)" fill-opacity="0.132" transform="rotate(-20.4 66.8 305.3)"/><ellipse cx="72.2" cy="309.9" rx="7.6" ry="2.0" fill="url(#g2)" fill-opacity="0.062" transform="rotate(-16.0 72.2 309.9)"/><ellipse cx="122.9" cy="256.4" rx="10.6" ry="2.5" fill="url(#g2)" fill-opacity="0.129" transform="rotate(-21.4 122.9 256.4)"/><ellipse cx="102.4" cy="238.7" rx="12.7" ry="1.8" fill="url(#g2)" fill-opacity="0.106" transform="rotate(-18.4 102.4 238.7)"/><ellipse cx="145.5" cy="259.7" rx="11.6" ry="2.2" fill="url(#g2)" fill-opacity="0.102" transform="rotate(-22.2 145.5 259.7)"/><ellipse cx="76.1" cy="189.2" rx="13.2" ry="2.0" fill="url(#g2)" fill-opacity="0.123" transform="rotate(-8.7 76.1 189.2)"/><ellipse cx="174.6" cy="208.0" rx="10.2" ry="1.9" fill="url(#g2)" fill-opacity="0.118" transform="rotate(-24.3 174.6 208.0)"/><ellipse cx="93.9" cy="193.3" rx="6.4" ry="1.6" fill="url(#g2)" fill-opacity="0.045" transform="rotate(-26.5 93.9 193.3)"/><ellipse cx="45.6" cy="308.6" rx="10.1" ry="2.0" fill="url(#g2)" fill-opacity="0.076" transform="rotate(-9.5 45.6 308.6)"/><ellipse cx="49.6" cy="219.3" rx="14.1" ry="2.5" fill="url(#g2)" fill-opacity="0.120" transform="rotate(-18.4 49.6 219.3)"/><ellipse cx="86.1" cy="213.5" rx="13.0" ry="2.1" fill="url(#g2)" fill-opacity="0.124" transform="rotate(-12.6 86.1 213.5)"/><ellipse cx="68.6" cy="264.5" rx="7.8" ry="2.2" fill="url(#g2)" fill-opacity="0.124" transform="rotate(-25.9 68.6 264.5)"/><ellipse cx="163.9" cy="309.6" rx="10.1" ry="1.6" fill="url(#g2)" fill-opacity="0.100" transform="rotate(-19.1 163.9 309.6)"/><ellipse cx="84.8" cy="244.7" rx="12.0" ry="1.7" fill="url(#g2)" fill-opacity="0.048" transform="rotate(-17.6 84.8 244.7)"/><ellipse cx="164.6" cy="318.1" rx="10.8" ry="2.3" fill="url(#g2)" fill-opacity="0.091" transform="rotate(-21.8 164.6 318.1)"/><ellipse cx="174.2" cy="189.2" rx="11.0" ry="2.2" fill="url(#g2)" fill-opacity="0.114" transform="rotate(-8.2 174.2 189.2)"/><ellipse cx="61.8" cy="245.8" rx="12.8" ry="2.1" fill="url(#g2)" fill-opacity="0.114" transform="rotate(-12.9 61.8 245.8)"/><ellipse cx="137.4" cy="314.1" rx="9.6" ry="1.8" fill="url(#g2)" fill-opacity="0.101" transform="rotate(-28.2 137.4 314.1)"/><ellipse cx="45.9" cy="191.9" rx="8.1" ry="2.2" fill="url(#g2)" fill-opacity="0.130" transform="rotate(-27.0 45.9 191.9)"/><ellipse cx="185.1" cy="264.3" rx="11.9" ry="2.1" fill="url(#g2)" fill-opacity="0.057" transform="rotate(-8.5 185.1 264.3)"/><ellipse cx="62.4" cy="245.1" rx="8.9" ry="2.1" fill="url(#g2)" fill-opacity="0.101" transform="rotate(-14.6 62.4 245.1)"/><ellipse cx="149.7" cy="307.4" rx="9.1" ry="2.3" fill="url(#g2)" fill-opacity="0.110" transform="rotate(-20.5 149.7 307.4)"/><ellipse cx="53.5" cy="188.7" rx="9.5" ry="1.6" fill="url(#g2)" fill-opacity="0.098" transform="rotate(-19.2 53.5 188.7)"/><ellipse cx="94.0" cy="233.7" rx="10.8" ry="2.0" fill="url(#g2)" fill-opacity="0.093" transform="rotate(-8.3 94.0 233.7)"/><ellipse cx="175.0" cy="229.7" rx="9.4" ry="2.5" fill="url(#g2)" fill-opacity="0.121" transform="rotate(-28.7 175.0 229.7)"/><ellipse cx="78.0" cy="323.3" rx="12.3" ry="1.8" fill="url(#g2)" fill-opacity="0.102" transform="rotate(-27.3 78.0 323.3)"/><ellipse cx="184.0" cy="195.3" rx="9.1" ry="2.1" fill="url(#g2)" fill-opacity="0.057" transform="rotate(-15.1 184.0 195.3)"/><ellipse cx="190.4" cy="300.8" rx="13.4" ry="1.8" fill="url(#g2)" fill-opacity="0.081" transform="rotate(-28.9 190.4 300.8)"/><ellipse cx="184.0" cy="315.8" rx="10.5" ry="1.8" fill="url(#g2)" fill-opacity="0.101" transform="rotate(-25.2 184.0 315.8)"/><ellipse cx="36.6" cy="199.5" rx="13.4" ry="2.3" fill="url(#g2)" fill-opacity="0.085" transform="rotate(-18.7 36.6 199.5)"/><ellipse cx="136.8" cy="254.8" rx="12.4" ry="2.5" fill="url(#g2)" fill-opacity="0.112" transform="rotate(-11.4 136.8 254.8)"/><ellipse cx="137.5" cy="272.9" rx="9.3" ry="1.8" fill="url(#g2)" fill-opacity="0.056" transform="rotate(-26.6 137.5 272.9)"/><ellipse cx="58.8" cy="246.4" rx="10.4" ry="1.7" fill="url(#g2)" fill-opacity="0.057" transform="rotate(-8.3 58.8 246.4)"/><ellipse cx="138.5" cy="262.0" rx="9.5" ry="1.7" fill="url(#g2)" fill-opacity="0.081" transform="rotate(-8.8 138.5 262.0)"/><ellipse cx="176.4" cy="281.7" rx="7.8" ry="2.1" fill="url(#g2)" fill-opacity="0.101" transform="rotate(-26.3 176.4 281.7)"/><ellipse cx="79.1" cy="272.4" rx="7.7" ry="2.0" fill="url(#g2)" fill-opacity="0.056" transform="rotate(-19.3 79.1 272.4)"/><ellipse cx="172.5" cy="209.1" rx="12.1" ry="1.8" fill="url(#g2)" fill-opacity="0.049" transform="rotate(-14.7 172.5 209.1)"/><ellipse cx="117.4" cy="207.6" rx="10.9" ry="2.5" fill="url(#g2)" fill-opacity="0.131" transform="rotate(-26.8 117.4 207.6)"/><ellipse cx="71.0" cy="266.8" rx="12.4" ry="1.7" fill="url(#g2)" fill-opacity="0.064" transform="rotate(-28.3 71.0 266.8)"/><ellipse cx="52.4" cy="225.8" rx="14.0" ry="2.2" fill="url(#g2)" fill-opacity="0.128" transform="rotate(-20.6 52.4 225.8)"/><ellipse cx="32.3" cy="308.5" rx="7.3" ry="1.7" fill="url(#g2)" fill-opacity="0.052" transform="rotate(-11.0 32.3 308.5)"/><ellipse cx="55.7" cy="194.8" rx="7.0" ry="2.3" fill="url(#g2)" fill-opacity="0.124" transform="rotate(-26.9 55.7 194.8)"/><ellipse cx="74.9" cy="216.3" rx="13.5" ry="2.2" fill="url(#g2)" fill-opacity="0.081" transform="rotate(-18.2 74.9 216.3)"/><ellipse cx="40.0" cy="211.6" rx="12.1" ry="2.2" fill="url(#g2)" fill-opacity="0.068" transform="rotate(-29.4 40.0 211.6)"/><ellipse cx="80.7" cy="327.5" rx="6.5" ry="1.6" fill="url(#g2)" fill-opacity="0.055" transform="rotate(-10.4 80.7 327.5)"/><ellipse cx="69.0" cy="292.2" rx="10.4" ry="1.5" fill="url(#g2)" fill-opacity="0.052" transform="rotate(-16.9 69.0 292.2)"/><ellipse cx="148.2" cy="315.5" rx="13.9" ry="1.9" fill="url(#g2)" fill-opacity="0.081" transform="rotate(-9.1 148.2 315.5)"/><ellipse cx="176.5" cy="333.2" rx="7.7" ry="1.9" fill="url(#g2)" fill-opacity="0.051" transform="rotate(-10.5 176.5 333.2)"/><ellipse cx="67.9" cy="299.2" rx="6.6" ry="1.6" fill="url(#g2)" fill-opacity="0.085" transform="rotate(-29.8 67.9 299.2)"/><ellipse cx="63.3" cy="323.5" rx="13.5" ry="2.4" fill="url(#g2)" fill-opacity="0.103" transform="rotate(-21.4 63.3 323.5)"/><ellipse cx="140.5" cy="282.3" rx="7.5" ry="2.4" fill="url(#g2)" fill-opacity="0.104" transform="rotate(-26.5 140.5 282.3)"/><ellipse cx="99.1" cy="287.2" rx="13.3" ry="1.9" fill="url(#g2)" fill-opacity="0.109" transform="rotate(-23.4 99.1 287.2)"/><ellipse cx="145.7" cy="192.6" rx="9.4" ry="2.0" fill="url(#g2)" fill-opacity="0.121" transform="rotate(-23.1 145.7 192.6)"/><ellipse cx="143.4" cy="211.3" rx="6.4" ry="1.5" fill="url(#g2)" fill-opacity="0.053" transform="rotate(-16.3 143.4 211.3)"/><ellipse cx="188.9" cy="186.5" rx="9.2" ry="1.8" fill="url(#g2)" fill-opacity="0.083" transform="rotate(-22.4 188.9 186.5)"/><ellipse cx="43.3" cy="248.2" rx="6.7" ry="1.6" fill="url(#g2)" fill-opacity="0.065" transform="rotate(-9.6 43.3 248.2)"/><ellipse cx="144.2" cy="330.9" rx="12.7" ry="1.8" fill="url(#g2)" fill-opacity="0.116" transform="rotate(-27.6 144.2 330.9)"/><ellipse cx="188.1" cy="286.8" rx="7.9" ry="2.3" fill="url(#g2)" fill-opacity="0.107" transform="rotate(-18.2 188.1 286.8)"/><ellipse cx="40.0" cy="216.7" rx="12.0" ry="1.7" fill="url(#g2)" fill-opacity="0.130" transform="rotate(-28.2 40.0 216.7)"/><ellipse cx="149.5" cy="237.7" rx="7.6" ry="1.7" fill="url(#g2)" fill-opacity="0.085" transform="rotate(-19.1 149.5 237.7)"/><ellipse cx="96.1" cy="213.1" rx="9.1" ry="1.5" fill="url(#g2)" fill-opacity="0.055" transform="rotate(-28.6 96.1 213.1)"/><ellipse cx="103.7" cy="193.2" rx="12.9" ry="2.2" fill="url(#g2)" fill-opacity="0.108" transform="rotate(-9.1 103.7 193.2)"/><ellipse cx="52.9" cy="247.9" rx="7.0" ry="2.2" fill="url(#g2)" fill-opacity="0.079" transform="rotate(-29.1 52.9 247.9)"/><ellipse cx="187.9" cy="285.5" rx="7.4" ry="2.4" fill="url(#g2)" fill-opacity="0.131" transform="rotate(-8.8 187.9 285.5)"/><ellipse cx="154.1" cy="271.3" rx="10.5" ry="2.3" fill="url(#g2)" fill-opacity="0.100" transform="rotate(-17.3 154.1 271.3)"/><ellipse cx="115.9" cy="245.5" rx="11.3" ry="2.4" fill="url(#g2)" fill-opacity="0.099" transform="rotate(-13.0 115.9 245.5)"/><ellipse cx="80.0" cy="292.0" rx="9.6" ry="1.9" fill="url(#g2)" fill-opacity="0.062" transform="rotate(-14.0 80.0 292.0)"/><ellipse cx="37.5" cy="207.3" rx="10.4" ry="1.6" fill="url(#g2)" fill-opacity="0.058" transform="rotate(-17.7 37.5 207.3)"/><ellipse cx="171.2" cy="248.8" rx="10.4" ry="1.8" fill="url(#g2)" fill-opacity="0.061" transform="rotate(-20.4 171.2 248.8)"/><ellipse cx="54.9" cy="286.5" rx="13.7" ry="1.9" fill="url(#g2)" fill-opacity="0.072" transform="rotate(-15.0 54.9 286.5)"/><ellipse cx="178.2" cy="331.0" rx="11.6" ry="1.4" fill="url(#g2)" fill-opacity="0.043" transform="rotate(-9.1 178.2 331.0)"/><ellipse cx="155.8" cy="223.5" rx="11.2" ry="2.0" fill="url(#g2)" fill-opacity="0.107" transform="rotate(-16.2 155.8 223.5)"/><ellipse cx="100.9" cy="282.7" rx="6.8" ry="2.1" fill="url(#g2)" fill-opacity="0.105" transform="rotate(-14.5 100.9 282.7)"/><ellipse cx="168.7" cy="264.8" rx="7.7" ry="1.7" fill="url(#g2)" fill-opacity="0.091" transform="rotate(-10.3 168.7 264.8)"/><ellipse cx="35.8" cy="318.7" rx="8.5" ry="1.9" fill="url(#g2)" fill-opacity="0.052" transform="rotate(-29.3 35.8 318.7)"/><ellipse cx="99.3" cy="303.6" rx="7.7" ry="1.5" fill="url(#g2)" fill-opacity="0.076" transform="rotate(-9.1 99.3 303.6)"/><ellipse cx="42.8" cy="284.5" rx="8.9" ry="2.1" fill="url(#g2)" fill-opacity="0.099" transform="rotate(-14.9 42.8 284.5)"/><ellipse cx="59.9" cy="221.8" rx="8.6" ry="2.1" fill="url(#g2)" fill-opacity="0.126" transform="rotate(-20.0 59.9 221.8)"/><ellipse cx="154.0" cy="312.3" rx="11.8" ry="2.1" fill="url(#g2)" fill-opacity="0.111" transform="rotate(-28.0 154.0 312.3)"/><ellipse cx="120.3" cy="249.6" rx="9.8" ry="1.7" fill="url(#g2)" fill-opacity="0.110" transform="rotate(-21.6 120.3 249.6)"/><ellipse cx="162.8" cy="259.0" rx="7.2" ry="1.8" fill="url(#g2)" fill-opacity="0.102" transform="rotate(-24.1 162.8 259.0)"/><ellipse cx="105.5" cy="203.2" rx="9.6" ry="1.6" fill="url(#g2)" fill-opacity="0.128" transform="rotate(-24.7 105.5 203.2)"/><ellipse cx="108.4" cy="276.6" rx="7.5" ry="2.5" fill="url(#g2)" fill-opacity="0.116" transform="rotate(-11.2 108.4 276.6)"/><ellipse cx="110.5" cy="281.2" rx="7.4" ry="1.5" fill="url(#g2)" fill-opacity="0.069" transform="rotate(-8.9 110.5 281.2)"/><ellipse cx="172.6" cy="251.6" rx="10.4" ry="2.2" fill="url(#g2)" fill-opacity="0.096" transform="rotate(-27.8 172.6 251.6)"/><ellipse cx="150.1" cy="211.5" rx="11.5" ry="2.3" fill="url(#g2)" fill-opacity="0.095" transform="rotate(-16.5 150.1 211.5)"/><ellipse cx="55.0" cy="306.1" rx="10.6" ry="2.2" fill="url(#g2)" fill-opacity="0.075" transform="rotate(-8.5 55.0 306.1)"/><ellipse cx="42.7" cy="252.8" rx="12.6" ry="1.8" fill="url(#g2)" fill-opacity="0.070" transform="rotate(-10.0 42.7 252.8)"/><ellipse cx="156.6" cy="247.6" rx="12.2" ry="1.7" fill="url(#g2)" fill-opacity="0.111" transform="rotate(-23.5 156.6 247.6)"/><ellipse cx="47.9" cy="308.6" rx="8.7" ry="2.1" fill="url(#g2)" fill-opacity="0.077" transform="rotate(-8.3 47.9 308.6)"/><ellipse cx="48.8" cy="287.8" rx="11.8" ry="2.0" fill="url(#g2)" fill-opacity="0.062" transform="rotate(-13.1 48.8 287.8)"/><ellipse cx="121.8" cy="203.7" rx="7.7" ry="2.1" fill="url(#g2)" fill-opacity="0.119" transform="rotate(-8.9 121.8 203.7)"/><ellipse cx="69.8" cy="256.6" rx="11.8" ry="1.9" fill="url(#g2)" fill-opacity="0.103" transform="rotate(-20.8 69.8 256.6)"/><ellipse cx="173.5" cy="291.4" rx="10.8" ry="2.1" fill="url(#g2)" fill-opacity="0.057" transform="rotate(-16.8 173.5 291.4)"/><ellipse cx="173.3" cy="224.8" rx="12.6" ry="1.7" fill="url(#g2)" fill-opacity="0.067" transform="rotate(-27.2 173.3 224.8)"/><ellipse cx="50.0" cy="316.0" rx="8.4" ry="2.3" fill="url(#g2)" fill-opacity="0.116" transform="rotate(-25.7 50.0 316.0)"/><ellipse cx="128.2" cy="187.2" rx="12.5" ry="2.0" fill="url(#g2)" fill-opacity="0.094" transform="rotate(-16.2 128.2 187.2)"/><ellipse cx="44.9" cy="253.3" rx="9.8" ry="2.3" fill="url(#g2)" fill-opacity="0.113" transform="rotate(-16.8 44.9 253.3)"/><ellipse cx="159.0" cy="294.8" rx="12.3" ry="2.2" fill="url(#g2)" fill-opacity="0.069" transform="rotate(-20.6 159.0 294.8)"/><ellipse cx="144.2" cy="246.8" rx="9.2" ry="2.0" fill="url(#g2)" fill-opacity="0.094" transform="rotate(-23.2 144.2 246.8)"/><ellipse cx="173.3" cy="276.2" rx="10.8" ry="2.0" fill="url(#g2)" fill-opacity="0.097" transform="rotate(-26.2 173.3 276.2)"/><ellipse cx="132.4" cy="251.5" rx="10.2" ry="1.6" fill="url(#g2)" fill-opacity="0.072" transform="rotate(-15.7 132.4 251.5)"/><ellipse cx="154.8" cy="239.8" rx="12.8" ry="1.9" fill="url(#g2)" fill-opacity="0.056" transform="rotate(-23.0 154.8 239.8)"/><ellipse cx="40.4" cy="270.3" rx="12.6" ry="2.0" fill="url(#g2)" fill-opacity="0.061" transform="rotate(-23.9 40.4 270.3)"/><ellipse cx="92.8" cy="198.4" rx="10.2" ry="2.2" fill="url(#g2)" fill-opacity="0.061" transform="rotate(-20.6 92.8 198.4)"/><ellipse cx="184.5" cy="223.4" rx="11.6" ry="1.7" fill="url(#g2)" fill-opacity="0.050" transform="rotate(-23.8 184.5 223.4)"/><ellipse cx="98.9" cy="276.0" rx="6.9" ry="1.9" fill="url(#g2)" fill-opacity="0.061" transform="rotate(-15.5 98.9 276.0)"/><ellipse cx="118.1" cy="209.2" rx="10.3" ry="2.1" fill="url(#g2)" fill-opacity="0.120" transform="rotate(-10.5 118.1 209.2)"/><ellipse cx="47.6" cy="258.9" rx="11.3" ry="1.7" fill="url(#g2)" fill-opacity="0.080" transform="rotate(-24.7 47.6 258.9)"/><ellipse cx="63.0" cy="268.1" rx="13.1" ry="2.2" fill="url(#g2)" fill-opacity="0.068" transform="rotate(-14.0 63.0 268.1)"/><ellipse cx="92.7" cy="307.5" rx="12.7" ry="2.4" fill="url(#g2)" fill-opacity="0.094" transform="rotate(-27.3 92.7 307.5)"/><ellipse cx="151.3" cy="319.2" rx="9.0" ry="1.5" fill="url(#g2)" fill-opacity="0.078" transform="rotate(-10.3 151.3 319.2)"/><ellipse cx="59.7" cy="186.9" rx="9.3" ry="1.9" fill="url(#g2)" fill-opacity="0.049" transform="rotate(-10.1 59.7 186.9)"/><ellipse cx="135.2" cy="200.6" rx="13.9" ry="2.4" fill="url(#g2)" fill-opacity="0.126" transform="rotate(-10.2 135.2 200.6)"/><ellipse cx="163.5" cy="286.7" rx="7.0" ry="2.5" fill="url(#g2)" fill-opacity="0.111" transform="rotate(-29.9 163.5 286.7)"/><ellipse cx="95.8" cy="269.8" rx="9.2" ry="2.0" fill="url(#g2)" fill-opacity="0.088" transform="rotate(-23.1 95.8 269.8)"/><ellipse cx="134.8" cy="190.0" rx="11.2" ry="1.9" fill="url(#g2)" fill-opacity="0.072" transform="rotate(-29.6 134.8 190.0)"/><ellipse cx="101.4" cy="322.7" rx="12.2" ry="1.9" fill="url(#g2)" fill-opacity="0.089" transform="rotate(-8.4 101.4 322.7)"/><ellipse cx="112.3" cy="305.4" rx="13.0" ry="1.9" fill="url(#g2)" fill-opacity="0.098" transform="rotate(-9.6 112.3 305.4)"/><ellipse cx="188.7" cy="318.3" rx="9.8" ry="1.9" fill="url(#g2)" fill-opacity="0.124" transform="rotate(-10.4 188.7 318.3)"/><ellipse cx="161.9" cy="272.9" rx="6.7" ry="2.0" fill="url(#g2)" fill-opacity="0.092" transform="rotate(-28.7 161.9 272.9)"/><ellipse cx="112.5" cy="218.6" rx="7.9" ry="1.8" fill="url(#g2)" fill-opacity="0.097" transform="rotate(-13.1 112.5 218.6)"/><ellipse cx="121.2" cy="205.3" rx="7.1" ry="2.0" fill="url(#g2)" fill-opacity="0.131" transform="rotate(-14.3 121.2 205.3)"/><ellipse cx="121.5" cy="282.0" rx="7.7" ry="2.1" fill="url(#g2)" fill-opacity="0.124" transform="rotate(-24.5 121.5 282.0)"/><ellipse cx="124.5" cy="254.3" rx="12.9" ry="2.0" fill="url(#g2)" fill-opacity="0.099" transform="rotate(-20.7 124.5 254.3)"/><ellipse cx="117.4" cy="210.4" rx="10.0" ry="2.1" fill="url(#g2)" fill-opacity="0.125" transform="rotate(-11.5 117.4 210.4)"/><ellipse cx="163.2" cy="333.0" rx="11.0" ry="2.0" fill="url(#g2)" fill-opacity="0.106" transform="rotate(-12.9 163.2 333.0)"/><ellipse cx="128.0" cy="187.1" rx="11.8" ry="1.9" fill="url(#g2)" fill-opacity="0.093" transform="rotate(-11.7 128.0 187.1)"/><ellipse cx="148.0" cy="316.5" rx="11.1" ry="1.9" fill="url(#g2)" fill-opacity="0.068" transform="rotate(-22.5 148.0 316.5)"/><ellipse cx="74.7" cy="198.6" rx="9.1" ry="1.9" fill="url(#g2)" fill-opacity="0.118" transform="rotate(-24.4 74.7 198.6)"/><ellipse cx="117.5" cy="258.7" rx="7.5" ry="1.9" fill="url(#g2)" fill-opacity="0.120" transform="rotate(-11.6 117.5 258.7)"/><ellipse cx="156.6" cy="195.1" rx="14.0" ry="2.4" fill="url(#g2)" fill-opacity="0.082" transform="rotate(-23.0 156.6 195.1)"/><ellipse cx="148.4" cy="234.5" rx="11.7" ry="1.4" fill="url(#g2)" fill-opacity="0.047" transform="rotate(-8.2 148.4 234.5)"/><ellipse cx="100.1" cy="311.6" rx="13.4" ry="2.2" fill="url(#g2)" fill-opacity="0.085" transform="rotate(-26.2 100.1 311.6)"/><ellipse cx="29.5" cy="210.8" rx="7.5" ry="1.6" fill="url(#g2)" fill-opacity="0.097" transform="rotate(-21.6 29.5 210.8)"/><ellipse cx="99.6" cy="275.6" rx="13.0" ry="2.0" fill="url(#g2)" fill-opacity="0.197" transform="rotate(-7.3 99.6 275.6)"/><ellipse cx="92.4" cy="302.9" rx="9.4" ry="2.4" fill="url(#g2)" fill-opacity="0.178" transform="rotate(-2.8 92.4 302.9)"/><ellipse cx="118.8" cy="269.3" rx="8.7" ry="2.1" fill="url(#g2)" fill-opacity="0.244" transform="rotate(1.5 118.8 269.3)"/><ellipse cx="108.7" cy="293.9" rx="7.9" ry="2.2" fill="url(#g2)" fill-opacity="0.249" transform="rotate(-1.5 108.7 293.9)"/><ellipse cx="101.6" cy="227.9" rx="12.0" ry="2.2" fill="url(#g2)" fill-opacity="0.283" transform="rotate(1.7 101.6 227.9)"/><ellipse cx="114.9" cy="310.7" rx="14.9" ry="1.9" fill="url(#g2)" fill-opacity="0.201" transform="rotate(2.3 114.9 310.7)"/><ellipse cx="120.1" cy="234.1" rx="9.1" ry="2.3" fill="url(#g2)" fill-opacity="0.156" transform="rotate(-3.2 120.1 234.1)"/><ellipse cx="112.1" cy="253.0" rx="11.0" ry="1.8" fill="url(#g2)" fill-opacity="0.221" transform="rotate(-1.6 112.1 253.0)"/><ellipse cx="110.7" cy="309.1" rx="16.3" ry="2.3" fill="url(#g2)" fill-opacity="0.251" transform="rotate(2.9 110.7 309.1)"/><ellipse cx="113.5" cy="240.2" rx="16.8" ry="2.4" fill="url(#g2)" fill-opacity="0.282" transform="rotate(-1.7 113.5 240.2)"/><ellipse cx="114.8" cy="244.6" rx="12.9" ry="1.7" fill="url(#g2)" fill-opacity="0.277" transform="rotate(-7.3 114.8 244.6)"/><ellipse cx="119.3" cy="317.1" rx="14.5" ry="1.8" fill="url(#g2)" fill-opacity="0.148" transform="rotate(-6.3 119.3 317.1)"/><ellipse cx="101.4" cy="296.5" rx="7.8" ry="2.1" fill="url(#g2)" fill-opacity="0.284" transform="rotate(-7.5 101.4 296.5)"/><ellipse cx="115.0" cy="255.8" rx="17.0" ry="2.0" fill="url(#g2)" fill-opacity="0.285" transform="rotate(3.0 115.0 255.8)"/><ellipse cx="101.9" cy="232.2" rx="7.6" ry="1.6" fill="url(#g2)" fill-opacity="0.237" transform="rotate(-3.5 101.9 232.2)"/><ellipse cx="111.5" cy="239.5" rx="15.1" ry="1.7" fill="url(#g2)" fill-opacity="0.140" transform="rotate(2.5 111.5 239.5)"/><ellipse cx="120.7" cy="260.1" rx="12.2" ry="2.1" fill="url(#g2)" fill-opacity="0.213" transform="rotate(-1.4 120.7 260.1)"/><ellipse cx="109.9" cy="282.7" rx="12.3" ry="1.9" fill="url(#g2)" fill-opacity="0.296" transform="rotate(-0.1 109.9 282.7)"/><ellipse cx="99.6" cy="253.0" rx="12.5" ry="2.0" fill="url(#g2)" fill-opacity="0.302" transform="rotate(-7.9 99.6 253.0)"/><ellipse cx="105.3" cy="278.9" rx="12.7" ry="2.0" fill="url(#g2)" fill-opacity="0.136" transform="rotate(-7.3 105.3 278.9)"/><ellipse cx="112.1" cy="268.4" rx="10.7" ry="2.1" fill="url(#g2)" fill-opacity="0.250" transform="rotate(0.1 112.1 268.4)"/><ellipse cx="92.7" cy="230.6" rx="16.7" ry="1.7" fill="url(#g2)" fill-opacity="0.250" transform="rotate(-3.0 92.7 230.6)"/><ellipse cx="111.0" cy="254.8" rx="10.2" ry="1.8" fill="url(#g2)" fill-opacity="0.196" transform="rotate(-1.4 111.0 254.8)"/><ellipse cx="101.6" cy="260.1" rx="7.6" ry="2.0" fill="url(#g2)" fill-opacity="0.267" transform="rotate(0.1 101.6 260.1)"/><ellipse cx="101.9" cy="245.7" rx="9.7" ry="1.6" fill="url(#g2)" fill-opacity="0.272" transform="rotate(-3.2 101.9 245.7)"/><ellipse cx="114.3" cy="234.5" rx="10.4" ry="2.2" fill="url(#g2)" fill-opacity="0.189" transform="rotate(-3.2 114.3 234.5)"/><ellipse cx="119.4" cy="240.7" rx="13.4" ry="2.3" fill="url(#g2)" fill-opacity="0.191" transform="rotate(-3.0 119.4 240.7)"/><ellipse cx="99.2" cy="236.2" rx="9.1" ry="2.2" fill="url(#g2)" fill-opacity="0.225" transform="rotate(1.2 99.2 236.2)"/><ellipse cx="97.9" cy="250.9" rx="13.6" ry="2.3" fill="url(#g2)" fill-opacity="0.273" transform="rotate(-4.2 97.9 250.9)"/><ellipse cx="96.2" cy="252.2" rx="10.0" ry="1.8" fill="url(#g2)" fill-opacity="0.270" transform="rotate(-3.4 96.2 252.2)"/><ellipse cx="105.4" cy="263.1" rx="8.9" ry="1.5" fill="url(#g2)" fill-opacity="0.292" transform="rotate(2.4 105.4 263.1)"/><ellipse cx="120.2" cy="316.8" rx="16.4" ry="2.3" fill="url(#g2)" fill-opacity="0.208" transform="rotate(-5.6 120.2 316.8)"/><ellipse cx="115.9" cy="302.8" rx="12.3" ry="1.7" fill="url(#g2)" fill-opacity="0.248" transform="rotate(-4.2 115.9 302.8)"/><ellipse cx="99.3" cy="231.3" rx="10.1" ry="2.2" fill="url(#g2)" fill-opacity="0.235" transform="rotate(-7.5 99.3 231.3)"/><ellipse cx="120.9" cy="289.5" rx="16.2" ry="2.4" fill="url(#g2)" fill-opacity="0.293" transform="rotate(-1.7 120.9 289.5)"/><ellipse cx="92.4" cy="294.3" rx="9.9" ry="2.0" fill="url(#g2)" fill-opacity="0.162" transform="rotate(-2.2 92.4 294.3)"/><ellipse cx="105.2" cy="312.3" rx="10.6" ry="1.7" fill="url(#g2)" fill-opacity="0.239" transform="rotate(1.5 105.2 312.3)"/><ellipse cx="107.3" cy="297.8" rx="9.1" ry="1.9" fill="url(#g2)" fill-opacity="0.194" transform="rotate(1.0 107.3 297.8)"/><ellipse cx="97.5" cy="298.6" rx="15.3" ry="2.3" fill="url(#g2)" fill-opacity="0.293" transform="rotate(-7.9 97.5 298.6)"/><ellipse cx="112.1" cy="305.2" rx="9.5" ry="1.6" fill="url(#g2)" fill-opacity="0.141" transform="rotate(-2.2 112.1 305.2)"/><ellipse cx="39.0" cy="212.7" rx="5.7" ry="3.1" fill="url(#g2)" fill-opacity="0.408"/><ellipse cx="36.0" cy="227.5" rx="12.9" ry="2.3" fill="url(#g2)" fill-opacity="0.337" transform="rotate(12.0 36.0 227.5)"/><ellipse cx="50.0" cy="243.0" rx="15.5" ry="2.1" fill="url(#g2)" fill-opacity="0.286" transform="rotate(-8.0 50.0 243.0)"/><ellipse cx="44.0" cy="262.0" rx="12.9" ry="2.1" fill="url(#g2)" fill-opacity="0.265"/><ellipse cx="40.0" cy="282.0" rx="10.3" ry="2.1" fill="url(#g2)" fill-opacity="0.245"/><ellipse cx="35.0" cy="296.0" rx="15.5" ry="2.1" fill="url(#g2)" fill-opacity="0.286" transform="rotate(-6.0 35.0 296.0)"/><ellipse cx="73.0" cy="331.8" rx="18.0" ry="2.6" fill="url(#g2)" fill-opacity="0.306"/><ellipse cx="117.0" cy="186.6" rx="7.7" ry="2.1" fill="url(#g2)" fill-opacity="0.286"/><ellipse cx="92.1" cy="247.0" rx="13.9" ry="2.8" fill="url(#g2)" fill-opacity="0.347" transform="rotate(-8.0 92.1 247.0)"/><ellipse cx="100.7" cy="241.8" rx="13.9" ry="2.5" fill="url(#g2)" fill-opacity="0.310"/><ellipse cx="97.5" cy="244.2" rx="15.9" ry="4.2" fill="url(#g26)" fill-opacity="0.816"/><ellipse cx="116.8" cy="247.1" rx="10.8" ry="2.7" fill="url(#g2)" fill-opacity="0.347" transform="rotate(-8.0 116.8 247.1)"/><ellipse cx="123.5" cy="242.2" rx="10.8" ry="2.4" fill="url(#g2)" fill-opacity="0.310"/><ellipse cx="121.0" cy="244.5" rx="12.5" ry="4.1" fill="url(#g26)" fill-opacity="0.796"/><ellipse cx="110.0" cy="242.2" rx="11.6" ry="2.1" fill="url(#g2)" fill-opacity="0.367"/><ellipse cx="109.0" cy="249.0" rx="15.5" ry="2.1" fill="url(#g2)" fill-opacity="0.286"/><ellipse cx="90.4" cy="278.8" rx="13.1" ry="2.6" fill="url(#g2)" fill-opacity="0.347" transform="rotate(-8.0 90.4 278.8)"/><ellipse cx="98.5" cy="274.1" rx="13.1" ry="2.3" fill="url(#g2)" fill-opacity="0.310"/><ellipse cx="95.5" cy="276.3" rx="15.6" ry="4.0" fill="url(#g26)" fill-opacity="0.735"/><ellipse cx="115.0" cy="278.9" rx="11.6" ry="2.6" fill="url(#g2)" fill-opacity="0.347" transform="rotate(-8.0 115.0 278.9)"/><ellipse cx="122.1" cy="274.2" rx="11.6" ry="2.3" fill="url(#g2)" fill-opacity="0.310"/><ellipse cx="119.5" cy="276.4" rx="13.5" ry="4.0" fill="url(#g26)" fill-opacity="0.776"/><ellipse cx="108.0" cy="275.0" rx="10.3" ry="2.1" fill="url(#g2)" fill-opacity="0.286"/><ellipse cx="103.1" cy="308.9" rx="10.1" ry="2.4" fill="url(#g2)" fill-opacity="0.347" transform="rotate(-8.0 103.1 308.9)"/><ellipse cx="109.3" cy="304.4" rx="10.1" ry="2.2" fill="url(#g2)" fill-opacity="0.310"/><ellipse cx="107.0" cy="306.5" rx="11.6" ry="3.7" fill="url(#g26)" fill-opacity="0.796"/><ellipse cx="110.0" cy="311.0" rx="15.5" ry="2.1" fill="url(#g2)" fill-opacity="0.316"/><ellipse cx="117.0" cy="314.0" rx="10.3" ry="1.8" fill="url(#g2)" fill-opacity="0.235"/><ellipse cx="182.2" cy="244.4" rx="6.7" ry="2.6" fill="url(#g2)" fill-opacity="0.408"/><ellipse cx="181.9" cy="276.4" rx="6.7" ry="2.6" fill="url(#g2)" fill-opacity="0.429"/></g></g><clipPath id="clipbo0"><ellipse cx="109.0" cy="211.9" rx="21.9" ry="11.4"/></clipPath><filter id="fbo0" filterUnits="userSpaceOnUse" x="79.1" y="192.5" width="59.80000000000001" height="38.80000000000001" color-interpolation-filters="sRGB"><feGaussianBlur stdDeviation="0.5 0.35"/><feComponentTransfer><feFuncR type="table" tableValues="0.0000 0.0000 0.0000 0.0000 0.0000 0.0000 0.0000 0.2500 0.5000 0.7500 1.0000 1.0000 1.0000 1.0000 1.0000 0.7500 0.5000"/><feFuncG type="table" tableValues="0.0000 0.0000 0.0000 0.2500 0.5000 0.7500 1.0000 1.0000 1.0000 1.0000 1.0000 0.7500 0.5000 0.2500 0.0000 0.0000 0.0000"/><feFuncB type="table" tableValues="0.5000 0.7500 1.0000 1.0000 1.0000 1.0000 1.0000 0.7500 0.5000 0.2500 0.0000 0.0000 0.0000 0.0000 0.0000 0.0000 0.0000"/></feComponentTransfer></filter><g clip-path="url(#clipbo0)"><g filter="url(#fbo0)"><rect x="79.1" y="192.5" width="59.8" height="38.8" fill="#121212"/><ellipse cx="108.0" cy="211.0" rx="41.2" ry="12.9" fill="url(#g2)" fill-opacity="0.097"/><ellipse cx="100.0" cy="218.0" rx="25.8" ry="3.9" fill="url(#g2)" fill-opacity="0.031"/><ellipse cx="103.0" cy="209.8" rx="19.3" ry="2.3" fill="url(#g2)" fill-opacity="0.408"/><ellipse cx="119.5" cy="211.6" rx="17.6" ry="2.9" fill="url(#g2)" fill-opacity="0.592"/><ellipse cx="112.0" cy="211.0" rx="10.3" ry="1.8" fill="url(#g2)" fill-opacity="0.286" transform="rotate(12.0 112.0 211.0)"/><ellipse cx="108.0" cy="210.8" rx="11.6" ry="1.8" fill="url(#g2)" fill-opacity="0.286" transform="rotate(-12.0 108.0 210.8)"/><ellipse cx="94.0" cy="212.8" rx="10.3" ry="2.6" fill="url(#g2)" fill-opacity="0.490"/><ellipse cx="98.0" cy="212.3" rx="10.1" ry="2.6" fill="url(#g26)" fill-opacity="0.735"/><ellipse cx="106.2" cy="206.5" rx="6.4" ry="2.3" fill="url(#g2)" fill-opacity="0.388"/><ellipse cx="104.0" cy="216.5" rx="7.7" ry="2.1" fill="url(#g2)" fill-opacity="0.337"/><ellipse cx="123.6" cy="209.5" rx="6.4" ry="2.1" fill="url(#g2)" fill-opacity="0.337"/></g></g><ellipse cx="109.0" cy="211.9" rx="21.9" ry="11.4" fill="none" stroke="#dc2430" stroke-width="1.6"/><rect x="26.2" y="209.0" width="35.3" height="94.4" rx="0.6" fill="none" stroke="#c4ab40" stroke-width="1.3"/><rect x="25.5" y="185.6" width="165.2" height="147.8" fill="none" stroke="#111" stroke-width="0.5" stroke-opacity="0.6"/><line x1="37.3" y1="333.4" x2="37.3" y2="331.8" stroke="#000" stroke-width="0.5" stroke-opacity="0.35"/><line x1="60.9" y1="333.4" x2="60.9" y2="331.8" stroke="#000" stroke-width="0.5" stroke-opacity="0.35"/><line x1="84.5" y1="333.4" x2="84.5" y2="331.8" stroke="#000" stroke-width="0.5" stroke-opacity="0.35"/><line x1="108.1" y1="333.4" x2="108.1" y2="331.8" stroke="#000" stroke-width="0.5" stroke-opacity="0.35"/><line x1="131.7" y1="333.4" x2="131.7" y2="331.8" stroke="#000" stroke-width="0.5" stroke-opacity="0.35"/><line x1="155.3" y1="333.4" x2="155.3" y2="331.8" stroke="#000" stroke-width="0.5" stroke-opacity="0.35"/><line x1="178.9" y1="333.4" x2="178.9" y2="331.8" stroke="#000" stroke-width="0.5" stroke-opacity="0.35"/><line x1="25.5" y1="333.4" x2="27.1" y2="333.4" stroke="#000" stroke-width="0.5" stroke-opacity="0.6"/><line x1="25.5" y1="313.7" x2="27.1" y2="313.7" stroke="#000" stroke-width="0.5" stroke-opacity="0.6"/><line x1="25.5" y1="294.0" x2="27.1" y2="294.0" stroke="#000" stroke-width="0.5" stroke-opacity="0.6"/><line x1="25.5" y1="274.3" x2="27.1" y2="274.3" stroke="#000" stroke-width="0.5" stroke-opacity="0.6"/><line x1="25.5" y1="254.6" x2="27.1" y2="254.6" stroke="#000" stroke-width="0.5" stroke-opacity="0.6"/><line x1="25.5" y1="234.9" x2="27.1" y2="234.9" stroke="#000" stroke-width="0.5" stroke-opacity="0.6"/><line x1="25.5" y1="215.2" x2="27.1" y2="215.2" stroke="#000" stroke-width="0.5" stroke-opacity="0.6"/><line x1="25.5" y1="195.5" x2="27.1" y2="195.5" stroke="#000" stroke-width="0.5" stroke-opacity="0.6"/><g font-family="'Liberation Serif', 'Times New Roman', serif" font-size="7.4" fill="#000" stroke="#000" stroke-width="0.12"><text transform="translate(37.30 340.40) scale(0.78 1)" text-anchor="middle">−3</text><text transform="translate(60.90 340.40) scale(0.78 1)" text-anchor="middle">−2</text><text transform="translate(84.50 340.40) scale(0.78 1)" text-anchor="middle">−1</text><text transform="translate(108.10 340.40) scale(0.78 1)" text-anchor="middle">0</text><text transform="translate(131.70 340.40) scale(0.78 1)" text-anchor="middle">1</text><text transform="translate(155.30 340.40) scale(0.78 1)" text-anchor="middle">2</text><text transform="translate(178.90 340.40) scale(0.78 1)" text-anchor="middle">3</text><text transform="translate(24.20 336.30) scale(0.78 1)" text-anchor="end">330</text><text transform="translate(24.20 316.59) scale(0.78 1)" text-anchor="end">340</text><text transform="translate(24.20 296.89) scale(0.78 1)" text-anchor="end">350</text><text transform="translate(24.20 277.18) scale(0.78 1)" text-anchor="end">360</text><text transform="translate(24.20 257.47) scale(0.78 1)" text-anchor="end">370</text><text transform="translate(24.20 237.77) scale(0.78 1)" text-anchor="end">380</text><text transform="translate(24.20 218.06) scale(0.78 1)" text-anchor="end">390</text><text transform="translate(24.20 198.35) scale(0.78 1)" text-anchor="end">400</text></g><text x="108.1" y="347.8" text-anchor="middle" font-family="'Liberation Serif', 'Times New Roman', serif" font-size="7" fill="#000" stroke="#000" stroke-width="0.2">Azimuth (degree)</text><text transform="translate(10.2 259.0) rotate(-90)" text-anchor="middle" font-family="'Liberation Serif', 'Times New Roman', serif" font-size="7" fill="#000" stroke="#000" stroke-width="0.2">Range (meter)</text><rect x="199.6" y="185.6" width="10.9" height="147.8" fill="url(#cbgrad)"/><rect x="199.6" y="185.6" width="10.9" height="147.8" fill="none" stroke="#111" stroke-width="0.5" stroke-opacity="0.6"/><line x1="199.6" y1="333.4" x2="200.8" y2="333.4" stroke="#000" stroke-width="0.5" stroke-opacity="0.6"/><line x1="210.5" y1="333.4" x2="209.3" y2="333.4" stroke="#000" stroke-width="0.5" stroke-opacity="0.6"/><line x1="199.6" y1="303.1" x2="200.8" y2="303.1" stroke="#000" stroke-width="0.5" stroke-opacity="0.6"/><line x1="210.5" y1="303.1" x2="209.3" y2="303.1" stroke="#000" stroke-width="0.5" stroke-opacity="0.6"/><line x1="199.6" y1="272.8" x2="200.8" y2="272.8" stroke="#000" stroke-width="0.5" stroke-opacity="0.6"/><line x1="210.5" y1="272.8" x2="209.3" y2="272.8" stroke="#000" stroke-width="0.5" stroke-opacity="0.6"/><line x1="199.6" y1="242.5" x2="200.8" y2="242.5" stroke="#000" stroke-width="0.5" stroke-opacity="0.6"/><line x1="210.5" y1="242.5" x2="209.3" y2="242.5" stroke="#000" stroke-width="0.5" stroke-opacity="0.6"/><line x1="199.6" y1="212.3" x2="200.8" y2="212.3" stroke="#000" stroke-width="0.5" stroke-opacity="0.6"/><line x1="210.5" y1="212.3" x2="209.3" y2="212.3" stroke="#000" stroke-width="0.5" stroke-opacity="0.6"/><g font-family="'Liberation Serif', 'Times New Roman', serif" font-size="7.4" fill="#000" stroke="#000" stroke-width="0.12"><text transform="translate(212.00 336.70) scale(0.78 1)">0</text><text transform="translate(212.00 306.41) scale(0.78 1)">500</text><text transform="translate(212.00 276.13) scale(0.78 1)">1000</text><text transform="translate(212.00 245.84) scale(0.78 1)">1500</text><text transform="translate(212.00 215.55) scale(0.78 1)">2000</text></g><text x="113.8" y="362.6" text-anchor="middle" font-family="'Liberation Serif', 'Times New Roman', serif" font-weight="bold" font-size="10.8" fill="#000">(b)</text><clipPath id="clipc"><rect x="277.2" y="185.6" width="165.7" height="147.9"/></clipPath><filter id="fc" filterUnits="userSpaceOnUse" x="267.2" y="175.6" width="185.7" height="167.9" color-interpolation-filters="sRGB"><feGaussianBlur stdDeviation="0.9 0.65"/><feComponentTransfer><feFuncR type="table" tableValues="0.1569 0.1725 0.1882 0.1882 0.1765 0.1765 0.3137 0.4392 0.5882 0.7843 0.9608 0.9686 0.9529 0.9333 0.9098 0.7451 0.5294"/><feFuncG type="table" tableValues="0.1569 0.1804 0.2275 0.3137 0.4314 0.6392 0.7451 0.7686 0.7843 0.8431 0.9137 0.7647 0.5490 0.3137 0.1176 0.1098 0.0980"/><feFuncB type="table" tableValues="0.4784 0.5294 0.5961 0.6667 0.7647 0.8941 0.8824 0.6745 0.4706 0.2745 0.1490 0.1176 0.1255 0.1373 0.1412 0.1255 0.1098"/></feComponentTransfer></filter><g clip-path="url(#clipc)"><g filter="url(#fc)"><rect x="267.2" y="175.6" width="185.7" height="167.9" fill="#050505"/><ellipse cx="316.3" cy="200.9" rx="7.8" ry="1.0" fill="url(#g2)" fill-opacity="0.053" transform="rotate(-4.0 316.3 200.9)"/><ellipse cx="429.3" cy="304.0" rx="9.4" ry="1.6" fill="url(#g2)" fill-opacity="0.083" transform="rotate(-5.2 429.3 304.0)"/><ellipse cx="305.8" cy="201.3" rx="15.2" ry="1.5" fill="url(#g2)" fill-opacity="0.038" transform="rotate(0.1 305.8 201.3)"/><ellipse cx="409.8" cy="214.2" rx="12.8" ry="1.5" fill="url(#g2)" fill-opacity="0.046" transform="rotate(0.5 409.8 214.2)"/><ellipse cx="423.0" cy="198.4" rx="14.8" ry="1.5" fill="url(#g2)" fill-opacity="0.070" transform="rotate(-6.2 423.0 198.4)"/><ellipse cx="355.7" cy="198.8" rx="18.2" ry="1.6" fill="url(#g2)" fill-opacity="0.097" transform="rotate(-5.0 355.7 198.8)"/><ellipse cx="427.8" cy="270.3" rx="17.9" ry="1.6" fill="url(#g2)" fill-opacity="0.092" transform="rotate(-3.9 427.8 270.3)"/><ellipse cx="376.4" cy="249.4" rx="8.1" ry="1.4" fill="url(#g2)" fill-opacity="0.034" transform="rotate(-7.6 376.4 249.4)"/><ellipse cx="284.9" cy="278.2" rx="11.5" ry="1.3" fill="url(#g2)" fill-opacity="0.043" transform="rotate(-4.6 284.9 278.2)"/><ellipse cx="442.4" cy="214.5" rx="8.4" ry="1.5" fill="url(#g2)" fill-opacity="0.054" transform="rotate(-5.2 442.4 214.5)"/><ellipse cx="336.2" cy="296.1" rx="12.1" ry="1.6" fill="url(#g2)" fill-opacity="0.047" transform="rotate(-7.0 336.2 296.1)"/><ellipse cx="287.4" cy="219.4" rx="14.5" ry="1.3" fill="url(#g2)" fill-opacity="0.083" transform="rotate(-4.7 287.4 219.4)"/><ellipse cx="306.6" cy="253.5" rx="9.5" ry="1.1" fill="url(#g2)" fill-opacity="0.024" transform="rotate(1.5 306.6 253.5)"/><ellipse cx="399.0" cy="327.6" rx="5.5" ry="1.0" fill="url(#g2)" fill-opacity="0.022" transform="rotate(-0.2 399.0 327.6)"/><ellipse cx="345.2" cy="325.1" rx="16.7" ry="1.3" fill="url(#g2)" fill-opacity="0.071" transform="rotate(-6.1 345.2 325.1)"/><ellipse cx="350.8" cy="205.8" rx="17.2" ry="1.2" fill="url(#g2)" fill-opacity="0.052" transform="rotate(-7.9 350.8 205.8)"/><ellipse cx="284.6" cy="210.7" rx="11.3" ry="1.3" fill="url(#g2)" fill-opacity="0.084" transform="rotate(-7.0 284.6 210.7)"/><ellipse cx="439.9" cy="248.3" rx="5.9" ry="0.9" fill="url(#g2)" fill-opacity="0.037" transform="rotate(-6.3 439.9 248.3)"/><ellipse cx="389.4" cy="207.7" rx="7.8" ry="0.8" fill="url(#g2)" fill-opacity="0.024" transform="rotate(2.0 389.4 207.7)"/><ellipse cx="297.5" cy="263.9" rx="11.9" ry="1.9" fill="url(#g2)" fill-opacity="0.084" transform="rotate(-3.2 297.5 263.9)"/><ellipse cx="317.3" cy="246.3" rx="7.2" ry="0.8" fill="url(#g2)" fill-opacity="0.023" transform="rotate(0.9 317.3 246.3)"/><ellipse cx="414.9" cy="259.3" rx="5.7" ry="0.8" fill="url(#g2)" fill-opacity="0.023" transform="rotate(-5.9 414.9 259.3)"/><ellipse cx="315.6" cy="314.2" rx="5.4" ry="1.4" fill="url(#g2)" fill-opacity="0.032" transform="rotate(-2.3 315.6 314.2)"/><ellipse cx="441.3" cy="245.2" rx="15.3" ry="1.8" fill="url(#g2)" fill-opacity="0.094" transform="rotate(-0.6 441.3 245.2)"/><ellipse cx="359.1" cy="199.3" rx="14.6" ry="1.5" fill="url(#g2)" fill-opacity="0.038" transform="rotate(1.2 359.1 199.3)"/><ellipse cx="333.0" cy="282.8" rx="15.0" ry="1.8" fill="url(#g2)" fill-opacity="0.086" transform="rotate(-2.7 333.0 282.8)"/><ellipse cx="385.7" cy="287.1" rx="15.8" ry="1.6" fill="url(#g2)" fill-opacity="0.042" transform="rotate(-7.3 385.7 287.1)"/><ellipse cx="438.1" cy="327.8" rx="7.0" ry="1.8" fill="url(#g2)" fill-opacity="0.075" transform="rotate(-6.7 438.1 327.8)"/><ellipse cx="437.7" cy="284.3" rx="5.6" ry="1.1" fill="url(#g2)" fill-opacity="0.025" transform="rotate(-2.3 437.7 284.3)"/><ellipse cx="400.9" cy="322.8" rx="5.4" ry="1.5" fill="url(#g2)" fill-opacity="0.038" transform="rotate(-7.9 400.9 322.8)"/><ellipse cx="422.4" cy="202.7" rx="16.8" ry="1.9" fill="url(#g2)" fill-opacity="0.087" transform="rotate(-2.5 422.4 202.7)"/><ellipse cx="422.8" cy="215.4" rx="10.6" ry="1.8" fill="url(#g2)" fill-opacity="0.075" transform="rotate(-0.3 422.8 215.4)"/><ellipse cx="355.3" cy="263.5" rx="3.9" ry="0.9" fill="url(#g2)" fill-opacity="0.023" transform="rotate(-3.1 355.3 263.5)"/><ellipse cx="420.5" cy="275.5" rx="8.5" ry="1.3" fill="url(#g2)" fill-opacity="0.032" transform="rotate(-2.8 420.5 275.5)"/><ellipse cx="278.9" cy="309.5" rx="7.7" ry="1.6" fill="url(#g2)" fill-opacity="0.088" transform="rotate(-4.2 278.9 309.5)"/><ellipse cx="407.7" cy="231.6" rx="10.7" ry="1.6" fill="url(#g2)" fill-opacity="0.039" transform="rotate(-7.0 407.7 231.6)"/><ellipse cx="296.2" cy="277.4" rx="13.4" ry="1.5" fill="url(#g2)" fill-opacity="0.093" transform="rotate(0.6 296.2 277.4)"/><ellipse cx="405.9" cy="195.5" rx="9.2" ry="1.4" fill="url(#g2)" fill-opacity="0.092" transform="rotate(0.4 405.9 195.5)"/><ellipse cx="347.2" cy="303.7" rx="14.0" ry="1.0" fill="url(#g2)" fill-opacity="0.034" transform="rotate(-6.5 347.2 303.7)"/><ellipse cx="359.1" cy="235.7" rx="17.5" ry="1.6" fill="url(#g2)" fill-opacity="0.065" transform="rotate(-7.9 359.1 235.7)"/><ellipse cx="328.9" cy="266.2" rx="14.9" ry="1.4" fill="url(#g2)" fill-opacity="0.060" transform="rotate(-7.2 328.9 266.2)"/><ellipse cx="317.9" cy="311.0" rx="14.7" ry="1.7" fill="url(#g2)" fill-opacity="0.050" transform="rotate(-1.7 317.9 311.0)"/><ellipse cx="389.3" cy="275.8" rx="16.1" ry="1.3" fill="url(#g2)" fill-opacity="0.046" transform="rotate(1.1 389.3 275.8)"/><ellipse cx="327.8" cy="313.9" rx="14.6" ry="1.5" fill="url(#g2)" fill-opacity="0.085" transform="rotate(-6.6 327.8 313.9)"/><ellipse cx="405.0" cy="239.2" rx="8.1" ry="1.1" fill="url(#g2)" fill-opacity="0.074" transform="rotate(-6.6 405.0 239.2)"/><ellipse cx="411.3" cy="211.9" rx="11.6" ry="1.6" fill="url(#g2)" fill-opacity="0.094" transform="rotate(-4.5 411.3 211.9)"/><ellipse cx="380.1" cy="199.4" rx="17.1" ry="1.1" fill="url(#g2)" fill-opacity="0.053" transform="rotate(-1.5 380.1 199.4)"/><ellipse cx="331.3" cy="230.1" rx="3.8" ry="1.1" fill="url(#g2)" fill-opacity="0.022" transform="rotate(0.3 331.3 230.1)"/><ellipse cx="409.9" cy="305.0" rx="8.8" ry="1.6" fill="url(#g2)" fill-opacity="0.098" transform="rotate(-3.0 409.9 305.0)"/><ellipse cx="372.3" cy="324.3" rx="19.1" ry="1.2" fill="url(#g2)" fill-opacity="0.082" transform="rotate(-1.5 372.3 324.3)"/><ellipse cx="389.1" cy="295.8" rx="16.9" ry="1.3" fill="url(#g2)" fill-opacity="0.071" transform="rotate(1.3 389.1 295.8)"/><ellipse cx="344.5" cy="274.2" rx="16.0" ry="1.4" fill="url(#g2)" fill-opacity="0.094" transform="rotate(-5.7 344.5 274.2)"/><ellipse cx="331.3" cy="278.3" rx="18.8" ry="1.5" fill="url(#g2)" fill-opacity="0.102" transform="rotate(-4.0 331.3 278.3)"/><ellipse cx="412.7" cy="227.6" rx="6.1" ry="1.1" fill="url(#g2)" fill-opacity="0.054" transform="rotate(-2.6 412.7 227.6)"/><ellipse cx="392.1" cy="276.5" rx="16.9" ry="1.5" fill="url(#g2)" fill-opacity="0.050" transform="rotate(-6.4 392.1 276.5)"/><ellipse cx="288.4" cy="329.6" rx="19.1" ry="1.7" fill="url(#g2)" fill-opacity="0.101" transform="rotate(-4.9 288.4 329.6)"/><ellipse cx="292.3" cy="223.7" rx="15.3" ry="1.5" fill="url(#g2)" fill-opacity="0.039" transform="rotate(-0.2 292.3 223.7)"/><ellipse cx="301.8" cy="220.9" rx="16.3" ry="1.1" fill="url(#g2)" fill-opacity="0.045" transform="rotate(-0.1 301.8 220.9)"/><ellipse cx="390.0" cy="266.5" rx="10.2" ry="1.6" fill="url(#g2)" fill-opacity="0.099" transform="rotate(-6.4 390.0 266.5)"/><ellipse cx="293.2" cy="190.3" rx="7.1" ry="1.0" fill="url(#g2)" fill-opacity="0.046" transform="rotate(1.9 293.2 190.3)"/><ellipse cx="325.1" cy="317.3" rx="15.9" ry="1.6" fill="url(#g2)" fill-opacity="0.078" transform="rotate(1.5 325.1 317.3)"/><ellipse cx="422.8" cy="292.0" rx="14.9" ry="1.6" fill="url(#g2)" fill-opacity="0.066" transform="rotate(-2.5 422.8 292.0)"/><ellipse cx="360.5" cy="208.4" rx="13.0" ry="1.2" fill="url(#g2)" fill-opacity="0.089" transform="rotate(-6.3 360.5 208.4)"/><ellipse cx="422.2" cy="223.5" rx="14.0" ry="1.7" fill="url(#g2)" fill-opacity="0.052" transform="rotate(-4.7 422.2 223.5)"/><ellipse cx="341.3" cy="248.2" rx="10.3" ry="0.6" fill="url(#g2)" fill-opacity="0.023" transform="rotate(1.6 341.3 248.2)"/><ellipse cx="302.5" cy="208.8" rx="17.5" ry="1.3" fill="url(#g2)" fill-opacity="0.090" transform="rotate(-2.5 302.5 208.8)"/><ellipse cx="356.2" cy="291.9" rx="13.7" ry="1.5" fill="url(#g2)" fill-opacity="0.036" transform="rotate(-0.9 356.2 291.9)"/><ellipse cx="429.8" cy="324.2" rx="15.8" ry="1.6" fill="url(#g2)" fill-opacity="0.051" transform="rotate(-2.1 429.8 324.2)"/><ellipse cx="295.0" cy="277.2" rx="10.7" ry="1.7" fill="url(#g2)" fill-opacity="0.095" transform="rotate(1.0 295.0 277.2)"/><ellipse cx="376.6" cy="191.1" rx="9.6" ry="1.8" fill="url(#g2)" fill-opacity="0.072" transform="rotate(-1.4 376.6 191.1)"/><ellipse cx="328.1" cy="318.1" rx="10.6" ry="1.8" fill="url(#g2)" fill-opacity="0.071" transform="rotate(0.9 328.1 318.1)"/><ellipse cx="425.2" cy="316.2" rx="15.3" ry="1.6" fill="url(#g2)" fill-opacity="0.074" transform="rotate(-2.7 425.2 316.2)"/><ellipse cx="440.8" cy="237.8" rx="10.8" ry="1.0" fill="url(#g2)" fill-opacity="0.027" transform="rotate(-2.5 440.8 237.8)"/><ellipse cx="376.3" cy="222.6" rx="6.0" ry="1.4" fill="url(#g2)" fill-opacity="0.037" transform="rotate(1.1 376.3 222.6)"/><ellipse cx="392.6" cy="202.9" rx="17.8" ry="1.6" fill="url(#g2)" fill-opacity="0.100" transform="rotate(-8.0 392.6 202.9)"/><ellipse cx="417.0" cy="277.8" rx="6.6" ry="1.7" fill="url(#g2)" fill-opacity="0.071" transform="rotate(-7.7 417.0 277.8)"/><ellipse cx="356.4" cy="207.0" rx="16.2" ry="1.6" fill="url(#g2)" fill-opacity="0.050" transform="rotate(0.2 356.4 207.0)"/><ellipse cx="326.6" cy="243.1" rx="6.7" ry="1.4" fill="url(#g2)" fill-opacity="0.070" transform="rotate(1.7 326.6 243.1)"/><ellipse cx="402.1" cy="313.2" rx="13.4" ry="1.5" fill="url(#g2)" fill-opacity="0.045" transform="rotate(-1.0 402.1 313.2)"/><ellipse cx="349.7" cy="211.5" rx="9.7" ry="1.0" fill="url(#g2)" fill-opacity="0.022" transform="rotate(-5.2 349.7 211.5)"/><ellipse cx="402.4" cy="245.8" rx="17.0" ry="1.3" fill="url(#g2)" fill-opacity="0.072" transform="rotate(-1.8 402.4 245.8)"/><ellipse cx="319.6" cy="261.2" rx="5.7" ry="0.8" fill="url(#g2)" fill-opacity="0.023" transform="rotate(1.1 319.6 261.2)"/><ellipse cx="299.1" cy="297.7" rx="13.4" ry="0.8" fill="url(#g2)" fill-opacity="0.027" transform="rotate(-7.1 299.1 297.7)"/><ellipse cx="312.3" cy="323.6" rx="17.8" ry="1.5" fill="url(#g2)" fill-opacity="0.075" transform="rotate(-6.9 312.3 323.6)"/><ellipse cx="333.6" cy="253.0" rx="9.0" ry="1.3" fill="url(#g2)" fill-opacity="0.101" transform="rotate(0.4 333.6 253.0)"/><ellipse cx="296.1" cy="329.3" rx="12.0" ry="1.4" fill="url(#g2)" fill-opacity="0.045" transform="rotate(1.1 296.1 329.3)"/><ellipse cx="289.7" cy="310.8" rx="12.5" ry="0.9" fill="url(#g2)" fill-opacity="0.035" transform="rotate(-0.3 289.7 310.8)"/><ellipse cx="307.2" cy="216.1" rx="6.4" ry="0.8" fill="url(#g2)" fill-opacity="0.023" transform="rotate(1.8 307.2 216.1)"/><ellipse cx="377.7" cy="239.5" rx="9.0" ry="1.3" fill="url(#g2)" fill-opacity="0.101" transform="rotate(1.6 377.7 239.5)"/><ellipse cx="434.9" cy="286.8" rx="7.5" ry="1.9" fill="url(#g2)" fill-opacity="0.100" transform="rotate(-1.0 434.9 286.8)"/><ellipse cx="387.9" cy="310.3" rx="6.5" ry="0.9" fill="url(#g2)" fill-opacity="0.029" transform="rotate(-3.2 387.9 310.3)"/><ellipse cx="367.7" cy="265.6" rx="14.5" ry="1.6" fill="url(#g2)" fill-opacity="0.050" transform="rotate(-0.4 367.7 265.6)"/><ellipse cx="283.5" cy="208.2" rx="7.9" ry="1.3" fill="url(#g2)" fill-opacity="0.038" transform="rotate(-6.1 283.5 208.2)"/><ellipse cx="380.7" cy="236.5" rx="14.1" ry="1.7" fill="url(#g2)" fill-opacity="0.050" transform="rotate(-6.1 380.7 236.5)"/><ellipse cx="334.9" cy="330.8" rx="5.6" ry="1.0" fill="url(#g2)" fill-opacity="0.038" transform="rotate(0.3 334.9 330.8)"/><ellipse cx="398.4" cy="324.4" rx="6.6" ry="1.3" fill="url(#g2)" fill-opacity="0.061" transform="rotate(-0.8 398.4 324.4)"/><ellipse cx="342.3" cy="206.2" rx="11.3" ry="1.3" fill="url(#g2)" fill-opacity="0.051" transform="rotate(-3.5 342.3 206.2)"/><ellipse cx="299.8" cy="190.0" rx="16.1" ry="1.5" fill="url(#g2)" fill-opacity="0.084" transform="rotate(-6.9 299.8 190.0)"/><ellipse cx="326.2" cy="268.2" rx="13.0" ry="2.0" fill="url(#g2)" fill-opacity="0.093" transform="rotate(-2.7 326.2 268.2)"/><ellipse cx="307.2" cy="276.6" rx="13.9" ry="1.7" fill="url(#g2)" fill-opacity="0.069" transform="rotate(-7.8 307.2 276.6)"/><ellipse cx="349.6" cy="304.0" rx="5.3" ry="0.9" fill="url(#g2)" fill-opacity="0.032" transform="rotate(-5.1 349.6 304.0)"/><ellipse cx="349.3" cy="232.1" rx="8.5" ry="1.4" fill="url(#g2)" fill-opacity="0.072" transform="rotate(-1.2 349.3 232.1)"/><ellipse cx="367.4" cy="327.4" rx="10.1" ry="1.4" fill="url(#g2)" fill-opacity="0.097" transform="rotate(-2.6 367.4 327.4)"/><ellipse cx="367.4" cy="239.7" rx="9.2" ry="1.5" fill="url(#g2)" fill-opacity="0.091" transform="rotate(-6.8 367.4 239.7)"/><ellipse cx="423.5" cy="273.7" rx="8.6" ry="1.8" fill="url(#g2)" fill-opacity="0.101" transform="rotate(-2.0 423.5 273.7)"/><ellipse cx="285.7" cy="306.9" rx="7.7" ry="1.9" fill="url(#g2)" fill-opacity="0.092" transform="rotate(-0.2 285.7 306.9)"/><ellipse cx="377.4" cy="266.0" rx="6.2" ry="1.3" fill="url(#g2)" fill-opacity="0.042" transform="rotate(0.7 377.4 266.0)"/><ellipse cx="311.8" cy="255.5" rx="13.3" ry="1.6" fill="url(#g2)" fill-opacity="0.043" transform="rotate(0.9 311.8 255.5)"/><ellipse cx="324.9" cy="247.3" rx="6.7" ry="0.9" fill="url(#g2)" fill-opacity="0.021" transform="rotate(0.4 324.9 247.3)"/><ellipse cx="289.1" cy="249.7" rx="8.2" ry="1.3" fill="url(#g2)" fill-opacity="0.027" transform="rotate(-5.2 289.1 249.7)"/><ellipse cx="417.3" cy="326.9" rx="9.2" ry="1.9" fill="url(#g2)" fill-opacity="0.087" transform="rotate(1.2 417.3 326.9)"/><ellipse cx="442.7" cy="187.2" rx="5.2" ry="0.8" fill="url(#g2)" fill-opacity="0.021" transform="rotate(-3.8 442.7 187.2)"/><ellipse cx="292.5" cy="280.3" rx="14.5" ry="1.5" fill="url(#g2)" fill-opacity="0.075" transform="rotate(-2.5 292.5 280.3)"/><ellipse cx="391.5" cy="195.1" rx="7.6" ry="1.1" fill="url(#g2)" fill-opacity="0.056" transform="rotate(-0.4 391.5 195.1)"/><ellipse cx="330.9" cy="235.8" rx="12.1" ry="1.0" fill="url(#g2)" fill-opacity="0.043" transform="rotate(-1.6 330.9 235.8)"/><ellipse cx="288.9" cy="326.9" rx="12.7" ry="1.2" fill="url(#g2)" fill-opacity="0.033" transform="rotate(-3.8 288.9 326.9)"/><ellipse cx="327.6" cy="238.7" rx="13.3" ry="1.6" fill="url(#g2)" fill-opacity="0.082" transform="rotate(-5.5 327.6 238.7)"/><ellipse cx="380.7" cy="210.8" rx="14.1" ry="1.5" fill="url(#g2)" fill-opacity="0.060" transform="rotate(-2.2 380.7 210.8)"/><ellipse cx="371.7" cy="214.3" rx="15.8" ry="1.8" fill="url(#g2)" fill-opacity="0.099" transform="rotate(1.6 371.7 214.3)"/><ellipse cx="352.0" cy="234.8" rx="9.2" ry="1.2" fill="url(#g2)" fill-opacity="0.045" transform="rotate(-4.8 352.0 234.8)"/><ellipse cx="311.8" cy="257.2" rx="9.8" ry="1.4" fill="url(#g2)" fill-opacity="0.044" transform="rotate(-4.8 311.8 257.2)"/><ellipse cx="420.3" cy="303.6" rx="15.3" ry="1.1" fill="url(#g2)" fill-opacity="0.047" transform="rotate(-7.0 420.3 303.6)"/><ellipse cx="442.0" cy="190.5" rx="8.9" ry="0.5" fill="url(#g2)" fill-opacity="0.021" transform="rotate(-1.4 442.0 190.5)"/><ellipse cx="369.3" cy="218.6" rx="16.0" ry="1.2" fill="url(#g2)" fill-opacity="0.040" transform="rotate(-5.6 369.3 218.6)"/><ellipse cx="350.3" cy="293.9" rx="6.6" ry="1.5" fill="url(#g2)" fill-opacity="0.044" transform="rotate(-7.0 350.3 293.9)"/><ellipse cx="286.4" cy="186.3" rx="12.6" ry="1.8" fill="url(#g2)" fill-opacity="0.102" transform="rotate(-2.4 286.4 186.3)"/><ellipse cx="438.7" cy="236.4" rx="13.7" ry="1.0" fill="url(#g2)" fill-opacity="0.049" transform="rotate(-4.4 438.7 236.4)"/><ellipse cx="403.0" cy="270.3" rx="17.6" ry="1.4" fill="url(#g2)" fill-opacity="0.060" transform="rotate(-0.7 403.0 270.3)"/><ellipse cx="342.2" cy="198.4" rx="8.4" ry="1.0" fill="url(#g2)" fill-opacity="0.052" transform="rotate(-5.1 342.2 198.4)"/><ellipse cx="298.1" cy="253.1" rx="16.3" ry="1.8" fill="url(#g2)" fill-opacity="0.081" transform="rotate(-4.8 298.1 253.1)"/><ellipse cx="388.1" cy="317.1" rx="16.7" ry="1.1" fill="url(#g2)" fill-opacity="0.053" transform="rotate(1.2 388.1 317.1)"/><ellipse cx="423.2" cy="330.5" rx="15.9" ry="1.5" fill="url(#g2)" fill-opacity="0.088" transform="rotate(-0.8 423.2 330.5)"/><ellipse cx="422.8" cy="270.8" rx="18.1" ry="1.3" fill="url(#g2)" fill-opacity="0.071" transform="rotate(-4.6 422.8 270.8)"/><ellipse cx="283.1" cy="315.4" rx="14.9" ry="1.3" fill="url(#g2)" fill-opacity="0.072" transform="rotate(-6.2 283.1 315.4)"/><ellipse cx="356.5" cy="315.3" rx="10.7" ry="1.3" fill="url(#g2)" fill-opacity="0.049" transform="rotate(0.4 356.5 315.3)"/><ellipse cx="297.7" cy="313.6" rx="7.9" ry="0.9" fill="url(#g2)" fill-opacity="0.021" transform="rotate(-3.3 297.7 313.6)"/><ellipse cx="400.1" cy="227.1" rx="8.5" ry="1.0" fill="url(#g2)" fill-opacity="0.032" transform="rotate(-0.8 400.1 227.1)"/><ellipse cx="370.7" cy="283.3" rx="17.1" ry="1.8" fill="url(#g2)" fill-opacity="0.100" transform="rotate(1.7 370.7 283.3)"/><ellipse cx="431.1" cy="295.3" rx="11.7" ry="1.5" fill="url(#g2)" fill-opacity="0.049" transform="rotate(-0.1 431.1 295.3)"/><ellipse cx="426.3" cy="295.4" rx="9.7" ry="1.6" fill="url(#g2)" fill-opacity="0.075" transform="rotate(-6.1 426.3 295.4)"/><ellipse cx="384.4" cy="211.6" rx="10.1" ry="1.0" fill="url(#g2)" fill-opacity="0.022" transform="rotate(-5.0 384.4 211.6)"/><ellipse cx="284.6" cy="306.7" rx="8.5" ry="1.8" fill="url(#g2)" fill-opacity="0.083" transform="rotate(0.4 284.6 306.7)"/><ellipse cx="372.4" cy="226.1" rx="4.7" ry="0.9" fill="url(#g2)" fill-opacity="0.025" transform="rotate(-0.8 372.4 226.1)"/><ellipse cx="383.0" cy="218.8" rx="7.4" ry="1.6" fill="url(#g2)" fill-opacity="0.086" transform="rotate(-6.3 383.0 218.8)"/><ellipse cx="278.1" cy="214.2" rx="9.4" ry="1.1" fill="url(#g2)" fill-opacity="0.085" transform="rotate(-3.2 278.1 214.2)"/><ellipse cx="335.0" cy="270.5" rx="15.2" ry="1.8" fill="url(#g2)" fill-opacity="0.068" transform="rotate(-4.6 335.0 270.5)"/><ellipse cx="382.4" cy="203.1" rx="6.5" ry="1.5" fill="url(#g2)" fill-opacity="0.041" transform="rotate(-4.6 382.4 203.1)"/><ellipse cx="394.9" cy="315.3" rx="8.3" ry="1.2" fill="url(#g2)" fill-opacity="0.052" transform="rotate(-3.1 394.9 315.3)"/><ellipse cx="341.4" cy="196.0" rx="15.0" ry="1.9" fill="url(#g2)" fill-opacity="0.090" transform="rotate(0.5 341.4 196.0)"/><ellipse cx="397.4" cy="307.5" rx="12.0" ry="1.8" fill="url(#g2)" fill-opacity="0.078" transform="rotate(1.2 397.4 307.5)"/><ellipse cx="320.1" cy="286.9" rx="12.9" ry="1.7" fill="url(#g2)" fill-opacity="0.079" transform="rotate(-24.9 320.1 286.9)"/><ellipse cx="301.6" cy="218.9" rx="7.5" ry="2.0" fill="url(#g2)" fill-opacity="0.083" transform="rotate(-25.3 301.6 218.9)"/><ellipse cx="326.0" cy="249.4" rx="11.3" ry="1.6" fill="url(#g2)" fill-opacity="0.090" transform="rotate(-23.9 326.0 249.4)"/><ellipse cx="301.5" cy="314.5" rx="12.8" ry="2.3" fill="url(#g2)" fill-opacity="0.088" transform="rotate(-13.6 301.5 314.5)"/><ellipse cx="434.5" cy="303.0" rx="11.5" ry="1.7" fill="url(#g2)" fill-opacity="0.049" transform="rotate(-13.4 434.5 303.0)"/><ellipse cx="370.7" cy="249.1" rx="9.1" ry="1.7" fill="url(#g2)" fill-opacity="0.057" transform="rotate(-27.4 370.7 249.1)"/><ellipse cx="413.0" cy="303.7" rx="12.1" ry="2.1" fill="url(#g2)" fill-opacity="0.101" transform="rotate(-13.5 413.0 303.7)"/><ellipse cx="299.5" cy="285.7" rx="7.4" ry="1.6" fill="url(#g2)" fill-opacity="0.062" transform="rotate(-18.5 299.5 285.7)"/><ellipse cx="319.2" cy="253.6" rx="9.3" ry="1.6" fill="url(#g2)" fill-opacity="0.074" transform="rotate(-19.2 319.2 253.6)"/><ellipse cx="316.2" cy="220.5" rx="8.0" ry="1.4" fill="url(#g2)" fill-opacity="0.045" transform="rotate(-15.7 316.2 220.5)"/><ellipse cx="435.2" cy="243.2" rx="13.6" ry="1.6" fill="url(#g2)" fill-opacity="0.082" transform="rotate(-26.9 435.2 243.2)"/><ellipse cx="410.8" cy="309.6" rx="7.6" ry="1.9" fill="url(#g2)" fill-opacity="0.076" transform="rotate(-10.9 410.8 309.6)"/><ellipse cx="424.0" cy="304.4" rx="11.3" ry="1.6" fill="url(#g2)" fill-opacity="0.045" transform="rotate(-14.2 424.0 304.4)"/><ellipse cx="299.9" cy="329.3" rx="11.8" ry="1.7" fill="url(#g2)" fill-opacity="0.074" transform="rotate(-16.4 299.9 329.3)"/><ellipse cx="373.5" cy="273.0" rx="11.1" ry="1.7" fill="url(#g2)" fill-opacity="0.056" transform="rotate(-23.5 373.5 273.0)"/><ellipse cx="304.5" cy="286.8" rx="6.8" ry="1.3" fill="url(#g2)" fill-opacity="0.039" transform="rotate(-15.8 304.5 286.8)"/><ellipse cx="369.4" cy="266.0" rx="7.6" ry="1.4" fill="url(#g2)" fill-opacity="0.033" transform="rotate(-28.0 369.4 266.0)"/><ellipse cx="277.7" cy="333.2" rx="7.3" ry="1.5" fill="url(#g2)" fill-opacity="0.039" transform="rotate(-16.9 277.7 333.2)"/><ellipse cx="290.0" cy="255.1" rx="11.9" ry="1.4" fill="url(#g2)" fill-opacity="0.057" transform="rotate(-22.6 290.0 255.1)"/><ellipse cx="359.5" cy="329.0" rx="9.7" ry="2.0" fill="url(#g2)" fill-opacity="0.068" transform="rotate(-23.5 359.5 329.0)"/><ellipse cx="282.5" cy="259.8" rx="12.4" ry="1.8" fill="url(#g2)" fill-opacity="0.096" transform="rotate(-15.0 282.5 259.8)"/><ellipse cx="417.9" cy="223.8" rx="9.0" ry="1.7" fill="url(#g2)" fill-opacity="0.073" transform="rotate(-23.7 417.9 223.8)"/><ellipse cx="311.0" cy="237.5" rx="7.4" ry="1.2" fill="url(#g2)" fill-opacity="0.033" transform="rotate(-13.3 311.0 237.5)"/><ellipse cx="376.6" cy="186.2" rx="8.0" ry="1.9" fill="url(#g2)" fill-opacity="0.086" transform="rotate(-17.8 376.6 186.2)"/><ellipse cx="332.4" cy="228.4" rx="7.1" ry="2.1" fill="url(#g2)" fill-opacity="0.062" transform="rotate(-27.5 332.4 228.4)"/><ellipse cx="413.7" cy="217.9" rx="8.6" ry="1.4" fill="url(#g2)" fill-opacity="0.052" transform="rotate(-27.2 413.7 217.9)"/><ellipse cx="337.0" cy="251.0" rx="14.3" ry="1.6" fill="url(#g2)" fill-opacity="0.093" transform="rotate(-18.2 337.0 251.0)"/><ellipse cx="298.6" cy="304.5" rx="12.1" ry="1.8" fill="url(#g2)" fill-opacity="0.054" transform="rotate(-27.2 298.6 304.5)"/><ellipse cx="278.0" cy="222.3" rx="7.8" ry="2.0" fill="url(#g2)" fill-opacity="0.093" transform="rotate(-21.8 278.0 222.3)"/><ellipse cx="334.4" cy="304.2" rx="10.5" ry="1.8" fill="url(#g2)" fill-opacity="0.046" transform="rotate(-9.4 334.4 304.2)"/><ellipse cx="363.3" cy="321.7" rx="10.3" ry="1.9" fill="url(#g2)" fill-opacity="0.062" transform="rotate(-11.5 363.3 321.7)"/><ellipse cx="425.9" cy="202.7" rx="8.8" ry="1.9" fill="url(#g2)" fill-opacity="0.040" transform="rotate(-18.3 425.9 202.7)"/><ellipse cx="326.8" cy="327.9" rx="6.5" ry="1.4" fill="url(#g2)" fill-opacity="0.052" transform="rotate(-29.3 326.8 327.9)"/><ellipse cx="397.7" cy="201.4" rx="13.1" ry="2.4" fill="url(#g2)" fill-opacity="0.082" transform="rotate(-12.2 397.7 201.4)"/><ellipse cx="347.5" cy="277.6" rx="12.1" ry="1.8" fill="url(#g2)" fill-opacity="0.090" transform="rotate(-13.2 347.5 277.6)"/><ellipse cx="295.3" cy="231.2" rx="10.4" ry="1.8" fill="url(#g2)" fill-opacity="0.102" transform="rotate(-12.7 295.3 231.2)"/><ellipse cx="351.8" cy="186.1" rx="6.5" ry="1.4" fill="url(#g2)" fill-opacity="0.033" transform="rotate(-9.4 351.8 186.1)"/><ellipse cx="318.2" cy="311.3" rx="9.8" ry="2.4" fill="url(#g2)" fill-opacity="0.092" transform="rotate(-13.2 318.2 311.3)"/><ellipse cx="357.4" cy="224.3" rx="12.7" ry="1.9" fill="url(#g2)" fill-opacity="0.064" transform="rotate(-25.7 357.4 224.3)"/><ellipse cx="339.4" cy="256.0" rx="9.4" ry="1.3" fill="url(#g2)" fill-opacity="0.044" transform="rotate(-11.9 339.4 256.0)"/><ellipse cx="306.8" cy="200.8" rx="8.6" ry="2.2" fill="url(#g2)" fill-opacity="0.073" transform="rotate(-19.1 306.8 200.8)"/><ellipse cx="363.6" cy="309.0" rx="10.6" ry="1.8" fill="url(#g2)" fill-opacity="0.046" transform="rotate(-20.6 363.6 309.0)"/><ellipse cx="436.2" cy="188.9" rx="7.7" ry="2.3" fill="url(#g2)" fill-opacity="0.092" transform="rotate(-26.6 436.2 188.9)"/><ellipse cx="286.1" cy="259.7" rx="8.7" ry="2.0" fill="url(#g2)" fill-opacity="0.097" transform="rotate(-16.6 286.1 259.7)"/><ellipse cx="317.6" cy="264.0" rx="7.4" ry="1.6" fill="url(#g2)" fill-opacity="0.031" transform="rotate(-22.5 317.6 264.0)"/><ellipse cx="313.7" cy="193.1" rx="9.7" ry="2.3" fill="url(#g2)" fill-opacity="0.081" transform="rotate(-13.7 313.7 193.1)"/><ellipse cx="293.8" cy="320.8" rx="13.0" ry="2.3" fill="url(#g2)" fill-opacity="0.097" transform="rotate(-15.0 293.8 320.8)"/><ellipse cx="396.6" cy="284.3" rx="8.3" ry="1.6" fill="url(#g2)" fill-opacity="0.073" transform="rotate(-14.0 396.6 284.3)"/><ellipse cx="376.0" cy="194.0" rx="11.0" ry="1.9" fill="url(#g2)" fill-opacity="0.076" transform="rotate(-12.9 376.0 194.0)"/><ellipse cx="422.4" cy="242.0" rx="10.4" ry="2.0" fill="url(#g2)" fill-opacity="0.089" transform="rotate(-20.9 422.4 242.0)"/><ellipse cx="431.8" cy="251.3" rx="9.3" ry="2.2" fill="url(#g2)" fill-opacity="0.099" transform="rotate(-9.9 431.8 251.3)"/><ellipse cx="390.5" cy="241.1" rx="8.1" ry="1.5" fill="url(#g2)" fill-opacity="0.036" transform="rotate(-12.1 390.5 241.1)"/><ellipse cx="407.2" cy="331.5" rx="9.1" ry="1.9" fill="url(#g2)" fill-opacity="0.063" transform="rotate(-13.5 407.2 331.5)"/><ellipse cx="290.4" cy="217.5" rx="7.6" ry="1.5" fill="url(#g2)" fill-opacity="0.041" transform="rotate(-8.7 290.4 217.5)"/><ellipse cx="311.6" cy="323.7" rx="7.3" ry="2.1" fill="url(#g2)" fill-opacity="0.052" transform="rotate(-28.0 311.6 323.7)"/><ellipse cx="295.9" cy="204.6" rx="7.5" ry="1.4" fill="url(#g2)" fill-opacity="0.035" transform="rotate(-26.5 295.9 204.6)"/><ellipse cx="279.8" cy="288.9" rx="6.5" ry="1.6" fill="url(#g2)" fill-opacity="0.034" transform="rotate(-10.6 279.8 288.9)"/><ellipse cx="386.5" cy="290.4" rx="12.5" ry="2.3" fill="url(#g2)" fill-opacity="0.081" transform="rotate(-26.6 386.5 290.4)"/><ellipse cx="286.2" cy="277.4" rx="10.1" ry="2.1" fill="url(#g2)" fill-opacity="0.068" transform="rotate(-26.2 286.2 277.4)"/><ellipse cx="394.2" cy="248.7" rx="7.9" ry="1.7" fill="url(#g2)" fill-opacity="0.061" transform="rotate(-17.3 394.2 248.7)"/><ellipse cx="369.0" cy="319.7" rx="10.7" ry="1.4" fill="url(#g2)" fill-opacity="0.051" transform="rotate(-15.7 369.0 319.7)"/><ellipse cx="303.8" cy="312.4" rx="8.7" ry="2.3" fill="url(#g2)" fill-opacity="0.100" transform="rotate(-25.2 303.8 312.4)"/><ellipse cx="327.8" cy="200.9" rx="6.9" ry="2.0" fill="url(#g2)" fill-opacity="0.062" transform="rotate(-17.3 327.8 200.9)"/><ellipse cx="346.8" cy="290.6" rx="8.0" ry="1.6" fill="url(#g2)" fill-opacity="0.047" transform="rotate(-30.0 346.8 290.6)"/><ellipse cx="424.2" cy="198.7" rx="10.3" ry="1.8" fill="url(#g2)" fill-opacity="0.038" transform="rotate(-20.2 424.2 198.7)"/><ellipse cx="347.0" cy="206.2" rx="7.7" ry="1.3" fill="url(#g2)" fill-opacity="0.031" transform="rotate(-26.7 347.0 206.2)"/><ellipse cx="427.3" cy="188.5" rx="11.3" ry="2.0" fill="url(#g2)" fill-opacity="0.056" transform="rotate(-27.6 427.3 188.5)"/><ellipse cx="400.2" cy="268.9" rx="13.5" ry="2.2" fill="url(#g2)" fill-opacity="0.076" transform="rotate(-16.8 400.2 268.9)"/><ellipse cx="404.8" cy="258.3" rx="12.3" ry="2.0" fill="url(#g2)" fill-opacity="0.070" transform="rotate(-21.7 404.8 258.3)"/><ellipse cx="280.6" cy="302.4" rx="9.0" ry="1.6" fill="url(#g2)" fill-opacity="0.055" transform="rotate(-17.8 280.6 302.4)"/><ellipse cx="343.6" cy="309.0" rx="10.5" ry="2.2" fill="url(#g2)" fill-opacity="0.073" transform="rotate(-20.3 343.6 309.0)"/><ellipse cx="366.1" cy="296.6" rx="12.2" ry="2.3" fill="url(#g2)" fill-opacity="0.082" transform="rotate(-17.7 366.1 296.6)"/><ellipse cx="369.2" cy="213.5" rx="8.7" ry="1.7" fill="url(#g2)" fill-opacity="0.048" transform="rotate(-10.2 369.2 213.5)"/><ellipse cx="284.3" cy="237.3" rx="10.0" ry="2.3" fill="url(#g2)" fill-opacity="0.083" transform="rotate(-26.5 284.3 237.3)"/><ellipse cx="405.0" cy="249.4" rx="6.8" ry="1.8" fill="url(#g2)" fill-opacity="0.071" transform="rotate(-12.3 405.0 249.4)"/><ellipse cx="399.0" cy="269.0" rx="6.4" ry="2.0" fill="url(#g2)" fill-opacity="0.061" transform="rotate(-20.2 399.0 269.0)"/><ellipse cx="397.2" cy="276.1" rx="12.3" ry="1.5" fill="url(#g2)" fill-opacity="0.059" transform="rotate(-8.9 397.2 276.1)"/><ellipse cx="291.5" cy="328.9" rx="9.7" ry="2.3" fill="url(#g2)" fill-opacity="0.073" transform="rotate(-18.7 291.5 328.9)"/><ellipse cx="361.4" cy="194.5" rx="11.5" ry="1.7" fill="url(#g2)" fill-opacity="0.088" transform="rotate(-27.5 361.4 194.5)"/><ellipse cx="346.8" cy="323.9" rx="10.2" ry="1.6" fill="url(#g2)" fill-opacity="0.093" transform="rotate(-11.8 346.8 323.9)"/><ellipse cx="310.7" cy="293.7" rx="13.3" ry="1.6" fill="url(#g2)" fill-opacity="0.066" transform="rotate(-12.5 310.7 293.7)"/><ellipse cx="396.5" cy="188.2" rx="8.5" ry="2.1" fill="url(#g2)" fill-opacity="0.071" transform="rotate(-8.9 396.5 188.2)"/><ellipse cx="387.6" cy="258.7" rx="8.2" ry="1.9" fill="url(#g2)" fill-opacity="0.074" transform="rotate(-27.4 387.6 258.7)"/><ellipse cx="396.6" cy="195.3" rx="7.6" ry="1.9" fill="url(#g2)" fill-opacity="0.068" transform="rotate(-28.8 396.6 195.3)"/><ellipse cx="281.7" cy="278.0" rx="13.2" ry="2.1" fill="url(#g2)" fill-opacity="0.082" transform="rotate(-8.1 281.7 278.0)"/><ellipse cx="300.8" cy="278.6" rx="7.7" ry="1.6" fill="url(#g2)" fill-opacity="0.076" transform="rotate(-24.7 300.8 278.6)"/><ellipse cx="363.9" cy="302.0" rx="10.8" ry="1.6" fill="url(#g2)" fill-opacity="0.081" transform="rotate(-14.1 363.9 302.0)"/><ellipse cx="362.1" cy="210.7" rx="8.2" ry="1.8" fill="url(#g2)" fill-opacity="0.075" transform="rotate(-20.1 362.1 210.7)"/><ellipse cx="401.7" cy="201.4" rx="7.9" ry="2.0" fill="url(#g2)" fill-opacity="0.062" transform="rotate(-12.1 401.7 201.4)"/><ellipse cx="321.0" cy="292.1" rx="7.8" ry="1.7" fill="url(#g2)" fill-opacity="0.064" transform="rotate(-18.2 321.0 292.1)"/><ellipse cx="410.9" cy="274.6" rx="9.2" ry="1.5" fill="url(#g2)" fill-opacity="0.031" transform="rotate(-20.7 410.9 274.6)"/><ellipse cx="317.2" cy="250.8" rx="8.5" ry="1.6" fill="url(#g2)" fill-opacity="0.080" transform="rotate(-10.7 317.2 250.8)"/><ellipse cx="350.5" cy="196.0" rx="7.5" ry="1.9" fill="url(#g2)" fill-opacity="0.094" transform="rotate(-16.4 350.5 196.0)"/><ellipse cx="387.3" cy="318.6" rx="9.3" ry="2.0" fill="url(#g2)" fill-opacity="0.043" transform="rotate(-19.7 387.3 318.6)"/><ellipse cx="395.6" cy="254.6" rx="13.8" ry="1.8" fill="url(#g2)" fill-opacity="0.082" transform="rotate(-13.8 395.6 254.6)"/><ellipse cx="334.3" cy="316.9" rx="13.1" ry="2.3" fill="url(#g2)" fill-opacity="0.085" transform="rotate(-16.9 334.3 316.9)"/><ellipse cx="434.7" cy="208.6" rx="6.9" ry="2.0" fill="url(#g2)" fill-opacity="0.072" transform="rotate(-14.9 434.7 208.6)"/><ellipse cx="324.5" cy="305.7" rx="7.5" ry="1.6" fill="url(#g2)" fill-opacity="0.060" transform="rotate(-17.3 324.5 305.7)"/><ellipse cx="340.9" cy="192.5" rx="12.6" ry="1.8" fill="url(#g2)" fill-opacity="0.052" transform="rotate(-15.0 340.9 192.5)"/><ellipse cx="347.9" cy="196.1" rx="8.0" ry="1.6" fill="url(#g2)" fill-opacity="0.074" transform="rotate(-16.4 347.9 196.1)"/><ellipse cx="389.1" cy="187.2" rx="6.9" ry="1.7" fill="url(#g2)" fill-opacity="0.098" transform="rotate(-22.8 389.1 187.2)"/><ellipse cx="409.3" cy="295.4" rx="9.8" ry="2.3" fill="url(#g2)" fill-opacity="0.084" transform="rotate(-27.1 409.3 295.4)"/><ellipse cx="436.4" cy="193.0" rx="10.3" ry="1.8" fill="url(#g2)" fill-opacity="0.042" transform="rotate(-15.2 436.4 193.0)"/><ellipse cx="318.4" cy="313.8" rx="7.8" ry="1.5" fill="url(#g2)" fill-opacity="0.067" transform="rotate(-8.2 318.4 313.8)"/><ellipse cx="286.4" cy="218.1" rx="12.3" ry="2.1" fill="url(#g2)" fill-opacity="0.056" transform="rotate(-11.5 286.4 218.1)"/><ellipse cx="381.7" cy="187.3" rx="8.0" ry="2.3" fill="url(#g2)" fill-opacity="0.083" transform="rotate(-8.7 381.7 187.3)"/><ellipse cx="288.1" cy="293.8" rx="6.5" ry="2.0" fill="url(#g2)" fill-opacity="0.048" transform="rotate(-20.3 288.1 293.8)"/><ellipse cx="326.0" cy="268.4" rx="7.7" ry="1.6" fill="url(#g2)" fill-opacity="0.035" transform="rotate(-11.0 326.0 268.4)"/><ellipse cx="297.5" cy="317.8" rx="6.6" ry="1.5" fill="url(#g2)" fill-opacity="0.038" transform="rotate(-26.3 297.5 317.8)"/><ellipse cx="292.3" cy="282.5" rx="7.4" ry="1.8" fill="url(#g2)" fill-opacity="0.059" transform="rotate(-27.3 292.3 282.5)"/><ellipse cx="390.1" cy="328.2" rx="9.3" ry="1.8" fill="url(#g2)" fill-opacity="0.064" transform="rotate(-21.9 390.1 328.2)"/><ellipse cx="345.7" cy="212.0" rx="10.6" ry="1.8" fill="url(#g2)" fill-opacity="0.052" transform="rotate(-28.5 345.7 212.0)"/><ellipse cx="301.3" cy="310.0" rx="11.8" ry="1.9" fill="url(#g2)" fill-opacity="0.056" transform="rotate(-16.2 301.3 310.0)"/><ellipse cx="336.1" cy="271.3" rx="9.8" ry="2.2" fill="url(#g2)" fill-opacity="0.060" transform="rotate(-27.6 336.1 271.3)"/><ellipse cx="312.6" cy="319.2" rx="13.0" ry="2.3" fill="url(#g2)" fill-opacity="0.097" transform="rotate(-27.7 312.6 319.2)"/><ellipse cx="396.2" cy="204.0" rx="9.7" ry="2.0" fill="url(#g2)" fill-opacity="0.091" transform="rotate(-18.6 396.2 204.0)"/><ellipse cx="311.3" cy="269.4" rx="10.1" ry="1.9" fill="url(#g2)" fill-opacity="0.092" transform="rotate(-21.9 311.3 269.4)"/><ellipse cx="308.8" cy="227.7" rx="14.0" ry="1.9" fill="url(#g2)" fill-opacity="0.090" transform="rotate(-23.7 308.8 227.7)"/><ellipse cx="333.1" cy="313.3" rx="7.1" ry="1.6" fill="url(#g2)" fill-opacity="0.049" transform="rotate(-28.1 333.1 313.3)"/><ellipse cx="301.6" cy="219.9" rx="13.4" ry="1.7" fill="url(#g2)" fill-opacity="0.077" transform="rotate(-23.6 301.6 219.9)"/><ellipse cx="374.5" cy="190.0" rx="8.8" ry="1.6" fill="url(#g2)" fill-opacity="0.037" transform="rotate(-22.3 374.5 190.0)"/><ellipse cx="346.0" cy="188.5" rx="7.0" ry="1.5" fill="url(#g2)" fill-opacity="0.049" transform="rotate(-28.5 346.0 188.5)"/><ellipse cx="412.4" cy="188.0" rx="7.3" ry="1.6" fill="url(#g2)" fill-opacity="0.060" transform="rotate(-13.3 412.4 188.0)"/><ellipse cx="436.5" cy="328.4" rx="9.7" ry="1.7" fill="url(#g2)" fill-opacity="0.054" transform="rotate(-28.2 436.5 328.4)"/><ellipse cx="347.3" cy="276.0" rx="11.7" ry="1.8" fill="url(#g2)" fill-opacity="0.059" transform="rotate(-23.5 347.3 276.0)"/><ellipse cx="425.6" cy="269.9" rx="11.9" ry="1.7" fill="url(#g2)" fill-opacity="0.049" transform="rotate(-16.7 425.6 269.9)"/><ellipse cx="354.8" cy="312.6" rx="9.9" ry="1.8" fill="url(#g2)" fill-opacity="0.083" transform="rotate(-13.0 354.8 312.6)"/><ellipse cx="416.0" cy="274.7" rx="10.7" ry="1.9" fill="url(#g2)" fill-opacity="0.093" transform="rotate(-23.0 416.0 274.7)"/><ellipse cx="321.8" cy="208.2" rx="11.0" ry="1.6" fill="url(#g2)" fill-opacity="0.097" transform="rotate(-25.4 321.8 208.2)"/><ellipse cx="347.5" cy="304.8" rx="12.5" ry="1.8" fill="url(#g2)" fill-opacity="0.092" transform="rotate(-20.6 347.5 304.8)"/><ellipse cx="434.2" cy="242.9" rx="6.8" ry="1.9" fill="url(#g2)" fill-opacity="0.077" transform="rotate(-18.9 434.2 242.9)"/><ellipse cx="427.9" cy="327.7" rx="9.1" ry="2.3" fill="url(#g2)" fill-opacity="0.084" transform="rotate(-9.9 427.9 327.7)"/><ellipse cx="289.8" cy="248.4" rx="8.6" ry="1.7" fill="url(#g2)" fill-opacity="0.070" transform="rotate(-12.7 289.8 248.4)"/><ellipse cx="311.9" cy="267.5" rx="7.6" ry="1.8" fill="url(#g2)" fill-opacity="0.032" transform="rotate(-29.9 311.9 267.5)"/><ellipse cx="295.0" cy="318.8" rx="10.6" ry="1.8" fill="url(#g2)" fill-opacity="0.096" transform="rotate(-23.4 295.0 318.8)"/><ellipse cx="398.8" cy="271.4" rx="11.1" ry="1.5" fill="url(#g2)" fill-opacity="0.063" transform="rotate(-21.4 398.8 271.4)"/><ellipse cx="422.7" cy="320.5" rx="11.9" ry="2.2" fill="url(#g2)" fill-opacity="0.065" transform="rotate(-18.5 422.7 320.5)"/><ellipse cx="300.9" cy="201.0" rx="9.0" ry="2.0" fill="url(#g2)" fill-opacity="0.079" transform="rotate(-29.1 300.9 201.0)"/><ellipse cx="434.2" cy="226.7" rx="11.1" ry="1.8" fill="url(#g2)" fill-opacity="0.076" transform="rotate(-25.4 434.2 226.7)"/><ellipse cx="370.3" cy="233.9" rx="6.3" ry="1.2" fill="url(#g2)" fill-opacity="0.036" transform="rotate(-10.2 370.3 233.9)"/><ellipse cx="310.8" cy="321.6" rx="13.5" ry="1.9" fill="url(#g2)" fill-opacity="0.075" transform="rotate(-24.4 310.8 321.6)"/><ellipse cx="291.2" cy="277.5" rx="11.6" ry="2.3" fill="url(#g2)" fill-opacity="0.080" transform="rotate(-27.8 291.2 277.5)"/><ellipse cx="384.1" cy="289.7" rx="8.6" ry="2.4" fill="url(#g2)" fill-opacity="0.098" transform="rotate(-29.4 384.1 289.7)"/><ellipse cx="374.8" cy="234.1" rx="7.6" ry="1.8" fill="url(#g2)" fill-opacity="0.068" transform="rotate(-22.3 374.8 234.1)"/><ellipse cx="354.0" cy="245.6" rx="6.8" ry="1.7" fill="url(#g2)" fill-opacity="0.046" transform="rotate(-8.2 354.0 245.6)"/><ellipse cx="417.8" cy="207.8" rx="7.5" ry="1.8" fill="url(#g2)" fill-opacity="0.076" transform="rotate(-8.1 417.8 207.8)"/><ellipse cx="333.4" cy="200.7" rx="10.7" ry="1.9" fill="url(#g2)" fill-opacity="0.071" transform="rotate(-9.2 333.4 200.7)"/><ellipse cx="362.2" cy="239.5" rx="9.5" ry="1.9" fill="url(#g2)" fill-opacity="0.046" transform="rotate(-18.9 362.2 239.5)"/><ellipse cx="341.9" cy="222.8" rx="14.3" ry="2.1" fill="url(#g2)" fill-opacity="0.091" transform="rotate(-14.4 341.9 222.8)"/><ellipse cx="331.0" cy="208.9" rx="8.8" ry="1.8" fill="url(#g2)" fill-opacity="0.035" transform="rotate(-14.8 331.0 208.9)"/><ellipse cx="388.7" cy="312.7" rx="9.2" ry="1.6" fill="url(#g2)" fill-opacity="0.060" transform="rotate(-11.7 388.7 312.7)"/><ellipse cx="391.6" cy="263.1" rx="13.5" ry="1.6" fill="url(#g2)" fill-opacity="0.086" transform="rotate(-25.2 391.6 263.1)"/><ellipse cx="354.7" cy="291.2" rx="8.7" ry="1.9" fill="url(#g2)" fill-opacity="0.048" transform="rotate(-23.5 354.7 291.2)"/><ellipse cx="388.1" cy="194.5" rx="10.7" ry="2.1" fill="url(#g2)" fill-opacity="0.060" transform="rotate(-18.8 388.1 194.5)"/><ellipse cx="387.4" cy="283.8" rx="9.8" ry="1.8" fill="url(#g2)" fill-opacity="0.077" transform="rotate(-27.2 387.4 283.8)"/><ellipse cx="424.2" cy="300.3" rx="12.1" ry="1.8" fill="url(#g2)" fill-opacity="0.077" transform="rotate(-26.1 424.2 300.3)"/><ellipse cx="365.4" cy="254.7" rx="13.0" ry="1.8" fill="url(#g2)" fill-opacity="0.077" transform="rotate(-21.8 365.4 254.7)"/><ellipse cx="394.0" cy="316.2" rx="10.7" ry="2.2" fill="url(#g2)" fill-opacity="0.071" transform="rotate(-9.7 394.0 316.2)"/><ellipse cx="284.6" cy="329.6" rx="8.7" ry="1.6" fill="url(#g2)" fill-opacity="0.037" transform="rotate(-8.5 284.6 329.6)"/><ellipse cx="315.9" cy="192.1" rx="10.3" ry="2.0" fill="url(#g2)" fill-opacity="0.099" transform="rotate(-20.6 315.9 192.1)"/><ellipse cx="363.9" cy="294.0" rx="16.4" ry="2.2" fill="url(#g2)" fill-opacity="0.232" transform="rotate(2.1 363.9 294.0)"/><ellipse cx="344.9" cy="268.3" rx="13.6" ry="2.3" fill="url(#g2)" fill-opacity="0.256" transform="rotate(-6.8 344.9 268.3)"/><ellipse cx="359.0" cy="247.9" rx="12.7" ry="1.4" fill="url(#g2)" fill-opacity="0.191" transform="rotate(-5.6 359.0 247.9)"/><ellipse cx="352.9" cy="310.2" rx="8.8" ry="2.2" fill="url(#g2)" fill-opacity="0.227" transform="rotate(-6.5 352.9 310.2)"/><ellipse cx="363.8" cy="236.8" rx="14.5" ry="1.5" fill="url(#g2)" fill-opacity="0.102" transform="rotate(-5.6 363.8 236.8)"/><ellipse cx="375.4" cy="306.1" rx="16.0" ry="1.9" fill="url(#g2)" fill-opacity="0.149" transform="rotate(-0.5 375.4 306.1)"/><ellipse cx="350.6" cy="312.5" rx="16.5" ry="2.3" fill="url(#g2)" fill-opacity="0.215" transform="rotate(-4.7 350.6 312.5)"/><ellipse cx="355.6" cy="240.4" rx="7.5" ry="1.7" fill="url(#g2)" fill-opacity="0.126" transform="rotate(-1.4 355.6 240.4)"/><ellipse cx="344.1" cy="288.0" rx="10.0" ry="2.2" fill="url(#g2)" fill-opacity="0.157" transform="rotate(-2.7 344.1 288.0)"/><ellipse cx="354.1" cy="269.8" rx="7.8" ry="2.4" fill="url(#g2)" fill-opacity="0.217" transform="rotate(-7.7 354.1 269.8)"/><ellipse cx="368.0" cy="303.6" rx="13.8" ry="1.7" fill="url(#g2)" fill-opacity="0.105" transform="rotate(-1.6 368.0 303.6)"/><ellipse cx="344.3" cy="229.3" rx="15.8" ry="1.6" fill="url(#g2)" fill-opacity="0.132" transform="rotate(0.3 344.3 229.3)"/><ellipse cx="373.7" cy="312.6" rx="10.4" ry="1.9" fill="url(#g2)" fill-opacity="0.158" transform="rotate(0.5 373.7 312.6)"/><ellipse cx="347.5" cy="294.6" rx="15.6" ry="1.5" fill="url(#g2)" fill-opacity="0.232" transform="rotate(2.4 347.5 294.6)"/><ellipse cx="346.9" cy="256.7" rx="16.0" ry="1.8" fill="url(#g2)" fill-opacity="0.202" transform="rotate(2.2 346.9 256.7)"/><ellipse cx="361.4" cy="254.1" rx="8.7" ry="1.5" fill="url(#g2)" fill-opacity="0.154" transform="rotate(-6.4 361.4 254.1)"/><ellipse cx="366.1" cy="317.7" rx="7.4" ry="2.3" fill="url(#g2)" fill-opacity="0.128" transform="rotate(-2.1 366.1 317.7)"/><ellipse cx="357.0" cy="247.1" rx="15.1" ry="1.9" fill="url(#g2)" fill-opacity="0.199" transform="rotate(-3.4 357.0 247.1)"/><ellipse cx="345.8" cy="310.2" rx="11.2" ry="2.1" fill="url(#g2)" fill-opacity="0.107" transform="rotate(-6.6 345.8 310.2)"/><ellipse cx="367.4" cy="313.3" rx="14.8" ry="1.5" fill="url(#g2)" fill-opacity="0.205" transform="rotate(-3.2 367.4 313.3)"/><ellipse cx="348.8" cy="303.6" rx="11.3" ry="2.3" fill="url(#g2)" fill-opacity="0.150" transform="rotate(1.4 348.8 303.6)"/><ellipse cx="375.2" cy="267.2" rx="14.1" ry="1.9" fill="url(#g2)" fill-opacity="0.182" transform="rotate(-4.8 375.2 267.2)"/><ellipse cx="356.9" cy="238.6" rx="16.4" ry="2.3" fill="url(#g2)" fill-opacity="0.164" transform="rotate(-1.1 356.9 238.6)"/><ellipse cx="360.0" cy="256.5" rx="9.3" ry="2.1" fill="url(#g2)" fill-opacity="0.117" transform="rotate(1.5 360.0 256.5)"/><ellipse cx="355.6" cy="298.1" rx="14.0" ry="2.1" fill="url(#g2)" fill-opacity="0.229" transform="rotate(0.4 355.6 298.1)"/><ellipse cx="355.6" cy="290.5" rx="11.6" ry="2.1" fill="url(#g2)" fill-opacity="0.148" transform="rotate(-0.4 355.6 290.5)"/><ellipse cx="353.4" cy="312.9" rx="12.8" ry="1.5" fill="url(#g2)" fill-opacity="0.208" transform="rotate(-2.0 353.4 312.9)"/><ellipse cx="352.0" cy="287.5" rx="14.9" ry="2.0" fill="url(#g2)" fill-opacity="0.178" transform="rotate(0.8 352.0 287.5)"/><ellipse cx="355.1" cy="284.9" rx="15.2" ry="1.8" fill="url(#g2)" fill-opacity="0.223" transform="rotate(1.3 355.1 284.9)"/><ellipse cx="371.8" cy="289.0" rx="16.6" ry="2.0" fill="url(#g2)" fill-opacity="0.261" transform="rotate(-2.2 371.8 289.0)"/><ellipse cx="344.8" cy="246.6" rx="12.1" ry="2.1" fill="url(#g2)" fill-opacity="0.347" transform="rotate(-8.0 344.8 246.6)"/><ellipse cx="352.2" cy="242.7" rx="12.1" ry="1.9" fill="url(#g2)" fill-opacity="0.310"/><ellipse cx="349.5" cy="244.5" rx="14.3" ry="3.3" fill="url(#g26)" fill-opacity="0.745"/><ellipse cx="367.4" cy="246.6" rx="10.5" ry="2.1" fill="url(#g2)" fill-opacity="0.347" transform="rotate(-8.0 367.4 246.6)"/><ellipse cx="373.9" cy="242.7" rx="10.5" ry="1.9" fill="url(#g2)" fill-opacity="0.310"/><ellipse cx="371.5" cy="244.5" rx="12.7" ry="3.3" fill="url(#g26)" fill-opacity="0.714"/><ellipse cx="361.0" cy="242.5" rx="10.3" ry="1.8" fill="url(#g2)" fill-opacity="0.337"/><ellipse cx="358.5" cy="249.0" rx="10.3" ry="1.8" fill="url(#g2)" fill-opacity="0.286"/><ellipse cx="342.6" cy="278.7" rx="11.3" ry="2.1" fill="url(#g2)" fill-opacity="0.347" transform="rotate(-8.0 342.6 278.7)"/><ellipse cx="349.6" cy="274.8" rx="11.3" ry="1.9" fill="url(#g2)" fill-opacity="0.310"/><ellipse cx="347.0" cy="276.6" rx="14.3" ry="3.5" fill="url(#g26)" fill-opacity="0.633"/><ellipse cx="366.4" cy="278.7" rx="10.5" ry="2.1" fill="url(#g2)" fill-opacity="0.347" transform="rotate(-8.0 366.4 278.7)"/><ellipse cx="372.9" cy="274.8" rx="10.5" ry="1.9" fill="url(#g2)" fill-opacity="0.310"/><ellipse cx="370.5" cy="276.6" rx="12.2" ry="3.2" fill="url(#g26)" fill-opacity="0.786"/><ellipse cx="356.7" cy="308.2" rx="7.1" ry="2.0" fill="url(#g2)" fill-opacity="0.347" transform="rotate(-8.0 356.7 308.2)"/><ellipse cx="361.1" cy="304.5" rx="7.1" ry="1.8" fill="url(#g2)" fill-opacity="0.310"/><ellipse cx="359.5" cy="306.2" rx="8.4" ry="3.1" fill="url(#g26)" fill-opacity="0.755"/><ellipse cx="360.0" cy="311.3" rx="12.9" ry="1.8" fill="url(#g2)" fill-opacity="0.337"/><ellipse cx="320.0" cy="333.0" rx="10.3" ry="2.3" fill="url(#g2)" fill-opacity="0.306"/><ellipse cx="432.2" cy="276.3" rx="6.2" ry="2.6" fill="url(#g2)" fill-opacity="0.439"/><ellipse cx="433.3" cy="244.6" rx="5.7" ry="2.1" fill="url(#g2)" fill-opacity="0.204"/></g></g><clipPath id="clipco0"><ellipse cx="359.3" cy="212.7" rx="22.1" ry="11.4"/></clipPath><filter id="fco0" filterUnits="userSpaceOnUse" x="329.2" y="193.29999999999998" width="60.200000000000045" height="38.80000000000001" color-interpolation-filters="sRGB"><feGaussianBlur stdDeviation="0.5 0.35"/><feComponentTransfer><feFuncR type="table" tableValues="0.0000 0.0000 0.0000 0.0000 0.0000 0.0000 0.0000 0.2500 0.5000 0.7500 1.0000 1.0000 1.0000 1.0000 1.0000 0.7500 0.5000"/><feFuncG type="table" tableValues="0.0000 0.0000 0.0000 0.2500 0.5000 0.7500 1.0000 1.0000 1.0000 1.0000 1.0000 0.7500 0.5000 0.2500 0.0000 0.0000 0.0000"/><feFuncB type="table" tableValues="0.5000 0.7500 1.0000 1.0000 1.0000 1.0000 1.0000 0.7500 0.5000 0.2500 0.0000 0.0000 0.0000 0.0000 0.0000 0.0000 0.0000"/></feComponentTransfer></filter><g clip-path="url(#clipco0)"><g filter="url(#fco0)"><rect x="329.2" y="193.29999999999998" width="60.2" height="38.8" fill="#1a1a1a"/><ellipse cx="349.0" cy="212.5" rx="16.8" ry="4.1" fill="url(#g2)" fill-opacity="0.633"/><ellipse cx="367.5" cy="212.6" rx="20.6" ry="2.8" fill="url(#g2)" fill-opacity="0.571"/><ellipse cx="358.0" cy="212.6" rx="15.5" ry="2.3" fill="url(#g2)" fill-opacity="0.408"/><ellipse cx="353.0" cy="209.8" rx="19.3" ry="3.6" fill="url(#g2)" fill-opacity="0.429"/><ellipse cx="375.0" cy="212.3" rx="7.7" ry="1.8" fill="url(#g2)" fill-opacity="0.388"/><ellipse cx="358.9" cy="204.5" rx="6.4" ry="2.1" fill="url(#g2)" fill-opacity="0.337"/><ellipse cx="361.0" cy="217.0" rx="10.3" ry="1.8" fill="url(#g2)" fill-opacity="0.265"/></g></g><clipPath id="clipco1"><rect x="279.3" y="215.3" width="35.4" height="88.0"/></clipPath><filter id="fco1" filterUnits="userSpaceOnUse" x="271.3" y="207.3" width="51.39999999999998" height="104.0" color-interpolation-filters="sRGB"><feGaussianBlur stdDeviation="0.5 0.35"/><feComponentTransfer><feFuncR type="table" tableValues="0.0000 0.0000 0.0000 0.0000 0.0000 0.0000 0.0000 0.2500 0.5000 0.7500 1.0000 1.0000 1.0000 1.0000 1.0000 0.7500 0.5000"/><feFuncG type="table" tableValues="0.0000 0.0000 0.0000 0.2500 0.5000 0.7500 1.0000 1.0000 1.0000 1.0000 1.0000 0.7500 0.5000 0.2500 0.0000 0.0000 0.0000"/><feFuncB type="table" tableValues="0.5000 0.7500 1.0000 1.0000 1.0000 1.0000 1.0000 0.7500 0.5000 0.2500 0.0000 0.0000 0.0000 0.0000 0.0000 0.0000 0.0000"/></feComponentTransfer></filter><g clip-path="url(#clipco1)"><g filter="url(#fco1)"><rect x="271.3" y="207.3" width="51.4" height="104.0" fill="#111111"/><ellipse cx="307.4" cy="287.6" rx="8.0" ry="0.9" fill="url(#g2)" fill-opacity="0.086" transform="rotate(-2.7 307.4 287.6)"/><ellipse cx="295.9" cy="282.2" rx="12.9" ry="1.1" fill="url(#g2)" fill-opacity="0.082" transform="rotate(-0.4 295.9 282.2)"/><ellipse cx="305.1" cy="251.7" rx="12.2" ry="1.0" fill="url(#g2)" fill-opacity="0.088" transform="rotate(-4.6 305.1 251.7)"/><ellipse cx="307.8" cy="238.7" rx="12.5" ry="1.6" fill="url(#g2)" fill-opacity="0.099" transform="rotate(-8.3 307.8 238.7)"/><ellipse cx="282.6" cy="285.7" rx="10.1" ry="1.0" fill="url(#g2)" fill-opacity="0.099" transform="rotate(-10.6 282.6 285.7)"/><ellipse cx="301.8" cy="240.9" rx="11.6" ry="1.1" fill="url(#g2)" fill-opacity="0.105" transform="rotate(-2.9 301.8 240.9)"/><ellipse cx="292.1" cy="297.4" rx="10.8" ry="1.5" fill="url(#g2)" fill-opacity="0.103" transform="rotate(-2.1 292.1 297.4)"/><ellipse cx="307.8" cy="301.2" rx="8.6" ry="1.3" fill="url(#g2)" fill-opacity="0.067" transform="rotate(-8.8 307.8 301.2)"/><ellipse cx="300.2" cy="223.2" rx="10.9" ry="1.0" fill="url(#g2)" fill-opacity="0.102" transform="rotate(-2.7 300.2 223.2)"/><ellipse cx="290.4" cy="232.6" rx="6.8" ry="1.1" fill="url(#g2)" fill-opacity="0.086" transform="rotate(0.7 290.4 232.6)"/><ellipse cx="304.0" cy="216.4" rx="5.7" ry="1.2" fill="url(#g2)" fill-opacity="0.098" transform="rotate(1.4 304.0 216.4)"/><ellipse cx="301.3" cy="242.2" rx="9.2" ry="1.0" fill="url(#g2)" fill-opacity="0.082" transform="rotate(3.0 301.3 242.2)"/><ellipse cx="281.2" cy="252.5" rx="9.5" ry="1.8" fill="url(#g2)" fill-opacity="0.097" transform="rotate(-9.8 281.2 252.5)"/><ellipse cx="314.0" cy="293.8" rx="14.4" ry="1.3" fill="url(#g2)" fill-opacity="0.094" transform="rotate(0.1 314.0 293.8)"/><ellipse cx="307.5" cy="260.8" rx="12.4" ry="1.2" fill="url(#g2)" fill-opacity="0.086" transform="rotate(-12.5 307.5 260.8)"/><ellipse cx="305.7" cy="238.7" rx="13.2" ry="1.0" fill="url(#g2)" fill-opacity="0.086" transform="rotate(-13.6 305.7 238.7)"/><ellipse cx="283.7" cy="267.2" rx="7.9" ry="1.3" fill="url(#g2)" fill-opacity="0.081" transform="rotate(1.8 283.7 267.2)"/><ellipse cx="288.3" cy="251.4" rx="11.8" ry="1.1" fill="url(#g2)" fill-opacity="0.102" transform="rotate(-5.9 288.3 251.4)"/><ellipse cx="296.2" cy="227.8" rx="8.4" ry="1.6" fill="url(#g2)" fill-opacity="0.082" transform="rotate(-8.5 296.2 227.8)"/><ellipse cx="302.6" cy="300.7" rx="9.4" ry="1.4" fill="url(#g2)" fill-opacity="0.104" transform="rotate(-8.6 302.6 300.7)"/><ellipse cx="293.4" cy="258.2" rx="15.0" ry="1.2" fill="url(#g2)" fill-opacity="0.099" transform="rotate(-13.9 293.4 258.2)"/><ellipse cx="295.2" cy="220.3" rx="12.5" ry="0.9" fill="url(#g2)" fill-opacity="0.068" transform="rotate(-1.8 295.2 220.3)"/><ellipse cx="292.1" cy="297.9" rx="6.2" ry="1.1" fill="url(#g2)" fill-opacity="0.101" transform="rotate(2.1 292.1 297.9)"/><ellipse cx="301.0" cy="252.4" rx="13.7" ry="1.3" fill="url(#g2)" fill-opacity="0.098" transform="rotate(-6.0 301.0 252.4)"/><ellipse cx="282.8" cy="247.2" rx="11.3" ry="1.4" fill="url(#g2)" fill-opacity="0.072" transform="rotate(-11.5 282.8 247.2)"/><ellipse cx="301.5" cy="223.9" rx="11.4" ry="1.2" fill="url(#g2)" fill-opacity="0.071" transform="rotate(1.3 301.5 223.9)"/><ellipse cx="301.6" cy="277.0" rx="13.2" ry="0.9" fill="url(#g2)" fill-opacity="0.072" transform="rotate(-3.5 301.6 277.0)"/><ellipse cx="311.6" cy="295.2" rx="10.2" ry="1.5" fill="url(#g2)" fill-opacity="0.103" transform="rotate(-0.5 311.6 295.2)"/><ellipse cx="284.2" cy="298.3" rx="10.1" ry="1.6" fill="url(#g2)" fill-opacity="0.103" transform="rotate(-6.4 284.2 298.3)"/><ellipse cx="289.1" cy="278.0" rx="12.8" ry="1.7" fill="url(#g2)" fill-opacity="0.069" transform="rotate(-9.1 289.1 278.0)"/><ellipse cx="312.6" cy="222.7" rx="8.4" ry="1.8" fill="url(#g2)" fill-opacity="0.101" transform="rotate(-6.7 312.6 222.7)"/><ellipse cx="311.9" cy="218.1" rx="13.0" ry="1.4" fill="url(#g2)" fill-opacity="0.070" transform="rotate(-4.9 311.9 218.1)"/><ellipse cx="280.5" cy="230.5" rx="5.9" ry="1.7" fill="url(#g2)" fill-opacity="0.081" transform="rotate(-1.0 280.5 230.5)"/><ellipse cx="312.9" cy="277.0" rx="6.2" ry="1.5" fill="url(#g2)" fill-opacity="0.080" transform="rotate(-12.1 312.9 277.0)"/><ellipse cx="298.7" cy="256.1" rx="6.2" ry="0.9" fill="url(#g2)" fill-opacity="0.087" transform="rotate(-5.2 298.7 256.1)"/><ellipse cx="280.4" cy="261.5" rx="8.0" ry="1.0" fill="url(#g2)" fill-opacity="0.072" transform="rotate(-4.3 280.4 261.5)"/><ellipse cx="293.0" cy="234.9" rx="10.8" ry="1.6" fill="url(#g2)" fill-opacity="0.075" transform="rotate(-6.9 293.0 234.9)"/><ellipse cx="285.1" cy="243.2" rx="10.9" ry="1.5" fill="url(#g2)" fill-opacity="0.076" transform="rotate(-4.3 285.1 243.2)"/><ellipse cx="286.0" cy="243.9" rx="9.7" ry="1.2" fill="url(#g2)" fill-opacity="0.082" transform="rotate(3.0 286.0 243.9)"/><ellipse cx="298.8" cy="273.6" rx="12.0" ry="1.6" fill="url(#g2)" fill-opacity="0.096" transform="rotate(-7.7 298.8 273.6)"/></g></g><ellipse cx="359.3" cy="212.7" rx="22.1" ry="11.4" fill="none" stroke="#dc2430" stroke-width="1.6"/><rect x="279.3" y="215.3" width="35.4" height="88.0" rx="0.6" fill="none" stroke="#d6b833" stroke-width="1.3"/><rect x="277.2" y="185.6" width="165.7" height="147.9" fill="none" stroke="#111" stroke-width="0.5" stroke-opacity="0.6"/><line x1="289.0" y1="333.5" x2="289.0" y2="331.9" stroke="#000" stroke-width="0.5" stroke-opacity="0.35"/><line x1="312.7" y1="333.5" x2="312.7" y2="331.9" stroke="#000" stroke-width="0.5" stroke-opacity="0.35"/><line x1="336.4" y1="333.5" x2="336.4" y2="331.9" stroke="#000" stroke-width="0.5" stroke-opacity="0.35"/><line x1="360.0" y1="333.5" x2="360.0" y2="331.9" stroke="#000" stroke-width="0.5" stroke-opacity="0.35"/><line x1="383.7" y1="333.5" x2="383.7" y2="331.9" stroke="#000" stroke-width="0.5" stroke-opacity="0.35"/><line x1="407.4" y1="333.5" x2="407.4" y2="331.9" stroke="#000" stroke-width="0.5" stroke-opacity="0.35"/><line x1="431.1" y1="333.5" x2="431.1" y2="331.9" stroke="#000" stroke-width="0.5" stroke-opacity="0.35"/><line x1="277.2" y1="333.5" x2="278.8" y2="333.5" stroke="#000" stroke-width="0.5" stroke-opacity="0.6"/><line x1="277.2" y1="313.8" x2="278.8" y2="313.8" stroke="#000" stroke-width="0.5" stroke-opacity="0.6"/><line x1="277.2" y1="294.1" x2="278.8" y2="294.1" stroke="#000" stroke-width="0.5" stroke-opacity="0.6"/><line x1="277.2" y1="274.3" x2="278.8" y2="274.3" stroke="#000" stroke-width="0.5" stroke-opacity="0.6"/><line x1="277.2" y1="254.6" x2="278.8" y2="254.6" stroke="#000" stroke-width="0.5" stroke-opacity="0.6"/><line x1="277.2" y1="234.9" x2="278.8" y2="234.9" stroke="#000" stroke-width="0.5" stroke-opacity="0.6"/><line x1="277.2" y1="215.2" x2="278.8" y2="215.2" stroke="#000" stroke-width="0.5" stroke-opacity="0.6"/><line x1="277.2" y1="195.5" x2="278.8" y2="195.5" stroke="#000" stroke-width="0.5" stroke-opacity="0.6"/><g font-family="'Liberation Serif', 'Times New Roman', serif" font-size="7.4" fill="#000" stroke="#000" stroke-width="0.12"><text transform="translate(289.04 340.50) scale(0.78 1)" text-anchor="middle">−3</text><text transform="translate(312.71 340.50) scale(0.78 1)" text-anchor="middle">−2</text><text transform="translate(336.38 340.50) scale(0.78 1)" text-anchor="middle">−1</text><text transform="translate(360.05 340.50) scale(0.78 1)" text-anchor="middle">0</text><text transform="translate(383.72 340.50) scale(0.78 1)" text-anchor="middle">1</text><text transform="translate(407.39 340.50) scale(0.78 1)" text-anchor="middle">2</text><text transform="translate(431.06 340.50) scale(0.78 1)" text-anchor="middle">3</text><text transform="translate(275.90 336.40) scale(0.78 1)" text-anchor="end">330</text><text transform="translate(275.90 316.68) scale(0.78 1)" text-anchor="end">340</text><text transform="translate(275.90 296.96) scale(0.78 1)" text-anchor="end">350</text><text transform="translate(275.90 277.24) scale(0.78 1)" text-anchor="end">360</text><text transform="translate(275.90 257.52) scale(0.78 1)" text-anchor="end">370</text><text transform="translate(275.90 237.80) scale(0.78 1)" text-anchor="end">380</text><text transform="translate(275.90 218.08) scale(0.78 1)" text-anchor="end">390</text><text transform="translate(275.90 198.36) scale(0.78 1)" text-anchor="end">400</text></g><text x="360.0" y="347.9" text-anchor="middle" font-family="'Liberation Serif', 'Times New Roman', serif" font-size="7" fill="#000" stroke="#000" stroke-width="0.2">Azimuth (degree)</text><text transform="translate(261.9 259.1) rotate(-90)" text-anchor="middle" font-family="'Liberation Serif', 'Times New Roman', serif" font-size="7" fill="#000" stroke="#000" stroke-width="0.2">Range (meter)</text><rect x="451.5" y="185.5" width="11.0" height="148.2" fill="url(#cbgrad)"/><rect x="451.5" y="185.5" width="11.0" height="148.2" fill="none" stroke="#111" stroke-width="0.5" stroke-opacity="0.6"/><line x1="451.5" y1="333.7" x2="452.7" y2="333.7" stroke="#000" stroke-width="0.5" stroke-opacity="0.6"/><line x1="462.5" y1="333.7" x2="461.3" y2="333.7" stroke="#000" stroke-width="0.5" stroke-opacity="0.6"/><line x1="451.5" y1="310.0" x2="452.7" y2="310.0" stroke="#000" stroke-width="0.5" stroke-opacity="0.6"/><line x1="462.5" y1="310.0" x2="461.3" y2="310.0" stroke="#000" stroke-width="0.5" stroke-opacity="0.6"/><line x1="451.5" y1="286.3" x2="452.7" y2="286.3" stroke="#000" stroke-width="0.5" stroke-opacity="0.6"/><line x1="462.5" y1="286.3" x2="461.3" y2="286.3" stroke="#000" stroke-width="0.5" stroke-opacity="0.6"/><line x1="451.5" y1="262.6" x2="452.7" y2="262.6" stroke="#000" stroke-width="0.5" stroke-opacity="0.6"/><line x1="462.5" y1="262.6" x2="461.3" y2="262.6" stroke="#000" stroke-width="0.5" stroke-opacity="0.6"/><line x1="451.5" y1="238.9" x2="452.7" y2="238.9" stroke="#000" stroke-width="0.5" stroke-opacity="0.6"/><line x1="462.5" y1="238.9" x2="461.3" y2="238.9" stroke="#000" stroke-width="0.5" stroke-opacity="0.6"/><line x1="451.5" y1="215.3" x2="452.7" y2="215.3" stroke="#000" stroke-width="0.5" stroke-opacity="0.6"/><line x1="462.5" y1="215.3" x2="461.3" y2="215.3" stroke="#000" stroke-width="0.5" stroke-opacity="0.6"/><line x1="451.5" y1="191.6" x2="452.7" y2="191.6" stroke="#000" stroke-width="0.5" stroke-opacity="0.6"/><line x1="462.5" y1="191.6" x2="461.3" y2="191.6" stroke="#000" stroke-width="0.5" stroke-opacity="0.6"/><g font-family="'Liberation Serif', 'Times New Roman', serif" font-size="7.4" fill="#000" stroke="#000" stroke-width="0.12"><text transform="translate(464.00 337.00) scale(0.78 1)">0</text><text transform="translate(464.00 313.31) scale(0.78 1)">500</text><text transform="translate(464.00 289.62) scale(0.78 1)">1000</text><text transform="translate(464.00 265.93) scale(0.78 1)">1500</text><text transform="translate(464.00 242.24) scale(0.78 1)">2000</text><text transform="translate(464.00 218.55) scale(0.78 1)">2500</text><text transform="translate(464.00 194.86) scale(0.78 1)">3000</text></g><text x="366.7" y="364.3" text-anchor="middle" font-family="'Liberation Serif', 'Times New Roman', serif" font-weight="bold" font-size="10.8" fill="#000">(c)</text><clipPath id="clipd"><rect x="25.4" y="368.0" width="164.9" height="147.3"/></clipPath><filter id="fd" filterUnits="userSpaceOnUse" x="15.399999999999999" y="358.0" width="184.9" height="167.29999999999995" color-interpolation-filters="sRGB"><feGaussianBlur stdDeviation="0.9 0.65"/><feComponentTransfer><feFuncR type="table" tableValues="0.1569 0.1725 0.1882 0.1882 0.1765 0.1765 0.3137 0.4392 0.5882 0.7843 0.9608 0.9686 0.9529 0.9333 0.9098 0.7451 0.5294"/><feFuncG type="table" tableValues="0.1569 0.1804 0.2275 0.3137 0.4314 0.6392 0.7451 0.7686 0.7843 0.8431 0.9137 0.7647 0.5490 0.3137 0.1176 0.1098 0.0980"/><feFuncB type="table" tableValues="0.4784 0.5294 0.5961 0.6667 0.7647 0.8941 0.8824 0.6745 0.4706 0.2745 0.1490 0.1176 0.1255 0.1373 0.1412 0.1255 0.1098"/></feComponentTransfer></filter><g clip-path="url(#clipd)"><g filter="url(#fd)"><rect x="15.399999999999999" y="358.0" width="184.9" height="167.3" fill="#050505"/><ellipse cx="78.8" cy="390.2" rx="7.5" ry="1.6" fill="url(#g2)" fill-opacity="0.084" transform="rotate(-4.3 78.8 390.2)"/><ellipse cx="35.0" cy="442.7" rx="9.4" ry="0.9" fill="url(#g2)" fill-opacity="0.034" transform="rotate(-7.1 35.0 442.7)"/><ellipse cx="95.4" cy="489.8" rx="7.9" ry="1.4" fill="url(#g2)" fill-opacity="0.041" transform="rotate(1.5 95.4 489.8)"/><ellipse cx="120.6" cy="426.4" rx="7.4" ry="1.9" fill="url(#g2)" fill-opacity="0.110" transform="rotate(-5.1 120.6 426.4)"/><ellipse cx="49.2" cy="385.4" rx="15.8" ry="1.1" fill="url(#g2)" fill-opacity="0.056" transform="rotate(-2.2 49.2 385.4)"/><ellipse cx="130.8" cy="422.9" rx="7.2" ry="1.1" fill="url(#g2)" fill-opacity="0.075" transform="rotate(-5.9 130.8 422.9)"/><ellipse cx="137.6" cy="431.0" rx="13.1" ry="1.4" fill="url(#g2)" fill-opacity="0.056" transform="rotate(-5.0 137.6 431.0)"/><ellipse cx="156.4" cy="471.0" rx="12.6" ry="1.4" fill="url(#g2)" fill-opacity="0.051" transform="rotate(0.8 156.4 471.0)"/><ellipse cx="145.7" cy="410.4" rx="8.4" ry="1.5" fill="url(#g2)" fill-opacity="0.111" transform="rotate(-0.4 145.7 410.4)"/><ellipse cx="50.5" cy="440.0" rx="11.8" ry="1.4" fill="url(#g2)" fill-opacity="0.034" transform="rotate(-2.3 50.5 440.0)"/><ellipse cx="169.8" cy="414.2" rx="14.4" ry="1.6" fill="url(#g2)" fill-opacity="0.087" transform="rotate(-3.4 169.8 414.2)"/><ellipse cx="163.9" cy="507.2" rx="14.7" ry="1.1" fill="url(#g2)" fill-opacity="0.069" transform="rotate(-1.0 163.9 507.2)"/><ellipse cx="132.1" cy="514.3" rx="10.5" ry="1.5" fill="url(#g2)" fill-opacity="0.098" transform="rotate(-1.3 132.1 514.3)"/><ellipse cx="29.1" cy="436.0" rx="6.9" ry="1.0" fill="url(#g2)" fill-opacity="0.044" transform="rotate(-0.3 29.1 436.0)"/><ellipse cx="46.7" cy="404.5" rx="16.9" ry="1.1" fill="url(#g2)" fill-opacity="0.063" transform="rotate(-3.5 46.7 404.5)"/><ellipse cx="116.0" cy="498.1" rx="18.2" ry="1.4" fill="url(#g2)" fill-opacity="0.097" transform="rotate(-3.8 116.0 498.1)"/><ellipse cx="84.6" cy="498.2" rx="8.8" ry="1.3" fill="url(#g2)" fill-opacity="0.109" transform="rotate(-5.7 84.6 498.2)"/><ellipse cx="63.9" cy="439.4" rx="9.9" ry="1.1" fill="url(#g2)" fill-opacity="0.079" transform="rotate(-3.8 63.9 439.4)"/><ellipse cx="86.3" cy="451.4" rx="16.1" ry="1.6" fill="url(#g2)" fill-opacity="0.108" transform="rotate(-1.8 86.3 451.4)"/><ellipse cx="136.9" cy="376.0" rx="17.3" ry="1.9" fill="url(#g2)" fill-opacity="0.104" transform="rotate(-0.0 136.9 376.0)"/><ellipse cx="90.1" cy="426.8" rx="12.2" ry="0.9" fill="url(#g2)" fill-opacity="0.039" transform="rotate(-7.3 90.1 426.8)"/><ellipse cx="59.8" cy="391.9" rx="6.7" ry="1.0" fill="url(#g2)" fill-opacity="0.058" transform="rotate(-6.5 59.8 391.9)"/><ellipse cx="42.1" cy="421.6" rx="13.7" ry="1.2" fill="url(#g2)" fill-opacity="0.033" transform="rotate(-6.5 42.1 421.6)"/><ellipse cx="67.0" cy="419.2" rx="7.6" ry="1.7" fill="url(#g2)" fill-opacity="0.060" transform="rotate(1.9 67.0 419.2)"/><ellipse cx="102.2" cy="439.3" rx="6.4" ry="1.1" fill="url(#g2)" fill-opacity="0.038" transform="rotate(-5.4 102.2 439.3)"/><ellipse cx="162.1" cy="391.8" rx="14.4" ry="1.2" fill="url(#g2)" fill-opacity="0.032" transform="rotate(-6.5 162.1 391.8)"/><ellipse cx="115.0" cy="372.0" rx="18.9" ry="1.8" fill="url(#g2)" fill-opacity="0.074" transform="rotate(-1.0 115.0 372.0)"/><ellipse cx="68.5" cy="422.0" rx="14.3" ry="1.3" fill="url(#g2)" fill-opacity="0.044" transform="rotate(-0.2 68.5 422.0)"/><ellipse cx="79.8" cy="400.9" rx="19.8" ry="1.9" fill="url(#g2)" fill-opacity="0.097" transform="rotate(0.1 79.8 400.9)"/><ellipse cx="160.3" cy="477.0" rx="11.8" ry="1.2" fill="url(#g2)" fill-opacity="0.049" transform="rotate(-7.7 160.3 477.0)"/><ellipse cx="30.0" cy="409.2" rx="14.0" ry="1.7" fill="url(#g2)" fill-opacity="0.052" transform="rotate(-3.5 30.0 409.2)"/><ellipse cx="179.9" cy="513.5" rx="11.7" ry="1.3" fill="url(#g2)" fill-opacity="0.109" transform="rotate(-5.7 179.9 513.5)"/><ellipse cx="57.8" cy="398.1" rx="18.2" ry="1.8" fill="url(#g2)" fill-opacity="0.082" transform="rotate(-3.2 57.8 398.1)"/><ellipse cx="133.1" cy="485.8" rx="12.3" ry="1.5" fill="url(#g2)" fill-opacity="0.038" transform="rotate(-0.2 133.1 485.8)"/><ellipse cx="149.1" cy="438.4" rx="14.6" ry="1.2" fill="url(#g2)" fill-opacity="0.045" transform="rotate(0.0 149.1 438.4)"/><ellipse cx="185.6" cy="426.3" rx="17.9" ry="1.6" fill="url(#g2)" fill-opacity="0.063" transform="rotate(-6.3 185.6 426.3)"/><ellipse cx="46.3" cy="390.3" rx="17.6" ry="1.3" fill="url(#g2)" fill-opacity="0.104" transform="rotate(0.3 46.3 390.3)"/><ellipse cx="187.1" cy="464.8" rx="12.8" ry="1.1" fill="url(#g2)" fill-opacity="0.059" transform="rotate(-7.9 187.1 464.8)"/><ellipse cx="185.5" cy="463.7" rx="18.3" ry="1.4" fill="url(#g2)" fill-opacity="0.074" transform="rotate(0.7 185.5 463.7)"/><ellipse cx="161.6" cy="399.1" rx="9.3" ry="1.2" fill="url(#g2)" fill-opacity="0.051" transform="rotate(-2.1 161.6 399.1)"/><ellipse cx="68.2" cy="429.7" rx="15.5" ry="1.2" fill="url(#g2)" fill-opacity="0.041" transform="rotate(-3.4 68.2 429.7)"/><ellipse cx="121.6" cy="501.2" rx="17.6" ry="1.5" fill="url(#g2)" fill-opacity="0.065" transform="rotate(-2.7 121.6 501.2)"/><ellipse cx="111.7" cy="370.8" rx="8.5" ry="1.0" fill="url(#g2)" fill-opacity="0.067" transform="rotate(-0.0 111.7 370.8)"/><ellipse cx="53.8" cy="437.7" rx="13.9" ry="1.4" fill="url(#g2)" fill-opacity="0.090" transform="rotate(-2.8 53.8 437.7)"/><ellipse cx="117.0" cy="483.5" rx="11.4" ry="1.1" fill="url(#g2)" fill-opacity="0.039" transform="rotate(-5.2 117.0 483.5)"/><ellipse cx="152.7" cy="442.8" rx="16.2" ry="1.9" fill="url(#g2)" fill-opacity="0.076" transform="rotate(-3.6 152.7 442.8)"/><ellipse cx="126.4" cy="442.5" rx="15.2" ry="1.4" fill="url(#g2)" fill-opacity="0.072" transform="rotate(-2.7 126.4 442.5)"/><ellipse cx="104.2" cy="506.7" rx="18.1" ry="1.9" fill="url(#g2)" fill-opacity="0.088" transform="rotate(-5.4 104.2 506.7)"/><ellipse cx="117.7" cy="506.9" rx="8.5" ry="1.2" fill="url(#g2)" fill-opacity="0.099" transform="rotate(-3.6 117.7 506.9)"/><ellipse cx="37.4" cy="403.4" rx="12.3" ry="1.4" fill="url(#g2)" fill-opacity="0.037" transform="rotate(1.0 37.4 403.4)"/><ellipse cx="50.9" cy="473.5" rx="8.4" ry="1.9" fill="url(#g2)" fill-opacity="0.085" transform="rotate(1.7 50.9 473.5)"/><ellipse cx="61.6" cy="508.3" rx="12.2" ry="1.8" fill="url(#g2)" fill-opacity="0.063" transform="rotate(0.3 61.6 508.3)"/><ellipse cx="52.0" cy="431.6" rx="10.7" ry="1.2" fill="url(#g2)" fill-opacity="0.073" transform="rotate(-4.8 52.0 431.6)"/><ellipse cx="144.5" cy="370.9" rx="12.1" ry="1.1" fill="url(#g2)" fill-opacity="0.076" transform="rotate(-4.7 144.5 370.9)"/><ellipse cx="128.3" cy="443.5" rx="15.4" ry="1.4" fill="url(#g2)" fill-opacity="0.036" transform="rotate(1.7 128.3 443.5)"/><ellipse cx="42.7" cy="407.1" rx="13.0" ry="1.0" fill="url(#g2)" fill-opacity="0.034" transform="rotate(-6.7 42.7 407.1)"/><ellipse cx="95.0" cy="502.3" rx="10.1" ry="1.2" fill="url(#g2)" fill-opacity="0.097" transform="rotate(1.2 95.0 502.3)"/><ellipse cx="119.5" cy="471.2" rx="5.9" ry="1.4" fill="url(#g2)" fill-opacity="0.038" transform="rotate(-3.7 119.5 471.2)"/><ellipse cx="37.3" cy="506.2" rx="16.9" ry="1.2" fill="url(#g2)" fill-opacity="0.082" transform="rotate(0.6 37.3 506.2)"/><ellipse cx="36.4" cy="495.1" rx="10.5" ry="1.5" fill="url(#g2)" fill-opacity="0.068" transform="rotate(1.3 36.4 495.1)"/><ellipse cx="69.6" cy="387.0" rx="9.4" ry="1.2" fill="url(#g2)" fill-opacity="0.074" transform="rotate(-6.4 69.6 387.0)"/><ellipse cx="33.7" cy="397.7" rx="9.7" ry="1.6" fill="url(#g2)" fill-opacity="0.056" transform="rotate(-5.1 33.7 397.7)"/><ellipse cx="107.9" cy="394.2" rx="6.3" ry="1.2" fill="url(#g2)" fill-opacity="0.059" transform="rotate(-7.8 107.9 394.2)"/><ellipse cx="146.3" cy="449.2" rx="11.1" ry="1.7" fill="url(#g2)" fill-opacity="0.046" transform="rotate(-6.9 146.3 449.2)"/><ellipse cx="160.4" cy="431.7" rx="16.9" ry="1.4" fill="url(#g2)" fill-opacity="0.071" transform="rotate(-2.9 160.4 431.7)"/><ellipse cx="138.8" cy="512.7" rx="16.2" ry="1.6" fill="url(#g2)" fill-opacity="0.059" transform="rotate(-1.6 138.8 512.7)"/><ellipse cx="92.1" cy="419.2" rx="6.5" ry="0.9" fill="url(#g2)" fill-opacity="0.035" transform="rotate(-0.6 92.1 419.2)"/><ellipse cx="67.5" cy="392.0" rx="14.2" ry="1.5" fill="url(#g2)" fill-opacity="0.038" transform="rotate(-1.3 67.5 392.0)"/><ellipse cx="71.9" cy="403.7" rx="11.5" ry="1.1" fill="url(#g2)" fill-opacity="0.055" transform="rotate(-3.5 71.9 403.7)"/><ellipse cx="68.8" cy="509.7" rx="14.2" ry="1.4" fill="url(#g2)" fill-opacity="0.110" transform="rotate(1.7 68.8 509.7)"/><ellipse cx="76.4" cy="420.5" rx="8.5" ry="1.1" fill="url(#g2)" fill-opacity="0.031" transform="rotate(-3.0 76.4 420.5)"/><ellipse cx="58.5" cy="442.3" rx="7.4" ry="0.9" fill="url(#g2)" fill-opacity="0.031" transform="rotate(-4.0 58.5 442.3)"/><ellipse cx="32.3" cy="371.3" rx="8.8" ry="1.5" fill="url(#g2)" fill-opacity="0.055" transform="rotate(-2.7 32.3 371.3)"/><ellipse cx="149.2" cy="464.9" rx="18.2" ry="1.4" fill="url(#g2)" fill-opacity="0.089" transform="rotate(-4.7 149.2 464.9)"/><ellipse cx="187.8" cy="390.0" rx="15.1" ry="1.1" fill="url(#g2)" fill-opacity="0.090" transform="rotate(0.4 187.8 390.0)"/><ellipse cx="172.5" cy="460.4" rx="17.3" ry="1.2" fill="url(#g2)" fill-opacity="0.091" transform="rotate(-2.8 172.5 460.4)"/><ellipse cx="108.6" cy="491.0" rx="17.7" ry="1.6" fill="url(#g2)" fill-opacity="0.096" transform="rotate(0.9 108.6 491.0)"/><ellipse cx="138.0" cy="470.1" rx="6.2" ry="1.1" fill="url(#g2)" fill-opacity="0.049" transform="rotate(-4.4 138.0 470.1)"/><ellipse cx="42.7" cy="491.1" rx="14.5" ry="1.6" fill="url(#g2)" fill-opacity="0.076" transform="rotate(-1.2 42.7 491.1)"/><ellipse cx="106.1" cy="368.5" rx="16.6" ry="1.6" fill="url(#g2)" fill-opacity="0.096" transform="rotate(-2.6 106.1 368.5)"/><ellipse cx="134.1" cy="377.7" rx="9.9" ry="1.2" fill="url(#g2)" fill-opacity="0.091" transform="rotate(-5.3 134.1 377.7)"/><ellipse cx="145.7" cy="398.2" rx="19.5" ry="1.5" fill="url(#g2)" fill-opacity="0.091" transform="rotate(-4.2 145.7 398.2)"/><ellipse cx="104.4" cy="468.7" rx="14.8" ry="1.7" fill="url(#g2)" fill-opacity="0.093" transform="rotate(-7.2 104.4 468.7)"/><ellipse cx="49.7" cy="405.4" rx="10.6" ry="1.6" fill="url(#g2)" fill-opacity="0.091" transform="rotate(-7.9 49.7 405.4)"/><ellipse cx="35.4" cy="407.6" rx="15.6" ry="1.7" fill="url(#g2)" fill-opacity="0.085" transform="rotate(-5.1 35.4 407.6)"/><ellipse cx="110.6" cy="436.4" rx="7.8" ry="1.8" fill="url(#g2)" fill-opacity="0.069" transform="rotate(-6.0 110.6 436.4)"/><ellipse cx="186.7" cy="505.9" rx="9.5" ry="1.4" fill="url(#g2)" fill-opacity="0.032" transform="rotate(1.7 186.7 505.9)"/><ellipse cx="99.5" cy="407.6" rx="16.6" ry="1.1" fill="url(#g2)" fill-opacity="0.048" transform="rotate(-2.2 99.5 407.6)"/><ellipse cx="48.8" cy="445.2" rx="8.6" ry="1.9" fill="url(#g2)" fill-opacity="0.108" transform="rotate(-2.9 48.8 445.2)"/><ellipse cx="171.6" cy="471.6" rx="16.3" ry="1.3" fill="url(#g2)" fill-opacity="0.050" transform="rotate(-7.8 171.6 471.6)"/><ellipse cx="26.0" cy="440.4" rx="10.1" ry="1.2" fill="url(#g2)" fill-opacity="0.067" transform="rotate(-4.6 26.0 440.4)"/><ellipse cx="77.5" cy="491.8" rx="12.1" ry="1.3" fill="url(#g2)" fill-opacity="0.031" transform="rotate(-6.8 77.5 491.8)"/><ellipse cx="178.2" cy="473.0" rx="10.7" ry="1.5" fill="url(#g2)" fill-opacity="0.104" transform="rotate(-4.1 178.2 473.0)"/><ellipse cx="190.1" cy="454.8" rx="11.4" ry="1.2" fill="url(#g2)" fill-opacity="0.060" transform="rotate(-7.5 190.1 454.8)"/><ellipse cx="42.2" cy="490.9" rx="17.1" ry="1.2" fill="url(#g2)" fill-opacity="0.054" transform="rotate(-5.3 42.2 490.9)"/><ellipse cx="109.7" cy="396.0" rx="17.9" ry="1.7" fill="url(#g2)" fill-opacity="0.061" transform="rotate(0.1 109.7 396.0)"/><ellipse cx="129.4" cy="502.5" rx="14.2" ry="1.8" fill="url(#g2)" fill-opacity="0.107" transform="rotate(-7.5 129.4 502.5)"/><ellipse cx="146.2" cy="434.4" rx="15.2" ry="1.4" fill="url(#g2)" fill-opacity="0.092" transform="rotate(-7.5 146.2 434.4)"/><ellipse cx="178.2" cy="386.8" rx="10.6" ry="1.3" fill="url(#g2)" fill-opacity="0.069" transform="rotate(-0.6 178.2 386.8)"/><ellipse cx="186.4" cy="406.3" rx="10.5" ry="1.6" fill="url(#g2)" fill-opacity="0.084" transform="rotate(-4.1 186.4 406.3)"/><ellipse cx="53.0" cy="391.8" rx="16.2" ry="1.3" fill="url(#g2)" fill-opacity="0.048" transform="rotate(-5.8 53.0 391.8)"/><ellipse cx="174.8" cy="514.8" rx="8.0" ry="1.2" fill="url(#g2)" fill-opacity="0.067" transform="rotate(-7.1 174.8 514.8)"/><ellipse cx="81.8" cy="381.4" rx="8.9" ry="1.4" fill="url(#g2)" fill-opacity="0.050" transform="rotate(0.9 81.8 381.4)"/><ellipse cx="149.0" cy="428.8" rx="12.7" ry="1.3" fill="url(#g2)" fill-opacity="0.064" transform="rotate(-4.6 149.0 428.8)"/><ellipse cx="35.6" cy="408.9" rx="8.5" ry="1.6" fill="url(#g2)" fill-opacity="0.110" transform="rotate(-1.7 35.6 408.9)"/><ellipse cx="167.7" cy="399.8" rx="8.9" ry="1.3" fill="url(#g2)" fill-opacity="0.053" transform="rotate(-3.5 167.7 399.8)"/><ellipse cx="182.7" cy="493.0" rx="7.0" ry="1.1" fill="url(#g2)" fill-opacity="0.102" transform="rotate(-0.9 182.7 493.0)"/><ellipse cx="173.1" cy="437.7" rx="6.5" ry="1.4" fill="url(#g2)" fill-opacity="0.079" transform="rotate(1.3 173.1 437.7)"/><ellipse cx="161.5" cy="494.0" rx="10.2" ry="1.2" fill="url(#g2)" fill-opacity="0.110" transform="rotate(-6.5 161.5 494.0)"/><ellipse cx="111.5" cy="468.5" rx="16.5" ry="1.7" fill="url(#g2)" fill-opacity="0.107" transform="rotate(-0.4 111.5 468.5)"/><ellipse cx="100.8" cy="449.2" rx="13.0" ry="1.0" fill="url(#g2)" fill-opacity="0.034" transform="rotate(1.2 100.8 449.2)"/><ellipse cx="131.8" cy="412.7" rx="8.2" ry="1.4" fill="url(#g2)" fill-opacity="0.041" transform="rotate(-1.0 131.8 412.7)"/><ellipse cx="43.9" cy="378.4" rx="13.8" ry="1.4" fill="url(#g2)" fill-opacity="0.073" transform="rotate(-5.8 43.9 378.4)"/><ellipse cx="124.5" cy="369.5" rx="11.5" ry="1.8" fill="url(#g2)" fill-opacity="0.055" transform="rotate(-1.6 124.5 369.5)"/><ellipse cx="171.1" cy="438.0" rx="8.7" ry="1.7" fill="url(#g2)" fill-opacity="0.050" transform="rotate(-1.0 171.1 438.0)"/><ellipse cx="76.1" cy="371.2" rx="14.9" ry="1.4" fill="url(#g2)" fill-opacity="0.071" transform="rotate(-5.4 76.1 371.2)"/><ellipse cx="135.4" cy="504.3" rx="6.2" ry="1.2" fill="url(#g2)" fill-opacity="0.049" transform="rotate(-3.8 135.4 504.3)"/><ellipse cx="138.0" cy="397.2" rx="16.5" ry="1.6" fill="url(#g2)" fill-opacity="0.096" transform="rotate(-5.9 138.0 397.2)"/><ellipse cx="185.3" cy="413.9" rx="9.8" ry="1.3" fill="url(#g2)" fill-opacity="0.098" transform="rotate(-0.4 185.3 413.9)"/><ellipse cx="74.0" cy="508.2" rx="8.7" ry="1.2" fill="url(#g2)" fill-opacity="0.071" transform="rotate(-3.8 74.0 508.2)"/><ellipse cx="135.1" cy="507.8" rx="9.9" ry="1.1" fill="url(#g2)" fill-opacity="0.043" transform="rotate(1.7 135.1 507.8)"/><ellipse cx="48.8" cy="375.6" rx="9.2" ry="1.5" fill="url(#g2)" fill-opacity="0.036" transform="rotate(0.8 48.8 375.6)"/><ellipse cx="146.2" cy="514.9" rx="11.2" ry="1.3" fill="url(#g2)" fill-opacity="0.107" transform="rotate(1.4 146.2 514.9)"/><ellipse cx="148.5" cy="372.7" rx="11.5" ry="1.4" fill="url(#g2)" fill-opacity="0.085" transform="rotate(-4.7 148.5 372.7)"/><ellipse cx="53.3" cy="368.4" rx="10.1" ry="1.7" fill="url(#g2)" fill-opacity="0.053" transform="rotate(-6.8 53.3 368.4)"/><ellipse cx="184.4" cy="398.6" rx="16.1" ry="1.7" fill="url(#g2)" fill-opacity="0.060" transform="rotate(-3.7 184.4 398.6)"/><ellipse cx="33.5" cy="437.7" rx="17.4" ry="1.2" fill="url(#g2)" fill-opacity="0.061" transform="rotate(-4.4 33.5 437.7)"/><ellipse cx="173.3" cy="372.5" rx="16.3" ry="1.7" fill="url(#g2)" fill-opacity="0.064" transform="rotate(-7.6 173.3 372.5)"/><ellipse cx="31.1" cy="377.2" rx="10.2" ry="1.8" fill="url(#g2)" fill-opacity="0.106" transform="rotate(1.0 31.1 377.2)"/><ellipse cx="81.3" cy="408.1" rx="15.2" ry="1.4" fill="url(#g2)" fill-opacity="0.109" transform="rotate(-0.8 81.3 408.1)"/><ellipse cx="77.6" cy="408.6" rx="12.1" ry="1.4" fill="url(#g2)" fill-opacity="0.031" transform="rotate(-1.7 77.6 408.6)"/><ellipse cx="180.9" cy="371.6" rx="11.4" ry="1.7" fill="url(#g2)" fill-opacity="0.050" transform="rotate(1.5 180.9 371.6)"/><ellipse cx="89.1" cy="405.0" rx="12.4" ry="1.8" fill="url(#g2)" fill-opacity="0.066" transform="rotate(-6.2 89.1 405.0)"/><ellipse cx="157.7" cy="476.8" rx="17.0" ry="1.7" fill="url(#g2)" fill-opacity="0.098" transform="rotate(-4.7 157.7 476.8)"/><ellipse cx="78.1" cy="421.3" rx="7.7" ry="1.3" fill="url(#g2)" fill-opacity="0.094" transform="rotate(-0.5 78.1 421.3)"/><ellipse cx="66.2" cy="377.5" rx="10.6" ry="1.1" fill="url(#g2)" fill-opacity="0.033" transform="rotate(1.8 66.2 377.5)"/><ellipse cx="171.1" cy="513.5" rx="6.9" ry="1.1" fill="url(#g2)" fill-opacity="0.052" transform="rotate(-3.0 171.1 513.5)"/><ellipse cx="142.4" cy="433.8" rx="10.7" ry="1.5" fill="url(#g2)" fill-opacity="0.050" transform="rotate(-1.3 142.4 433.8)"/><ellipse cx="148.7" cy="492.8" rx="8.1" ry="1.8" fill="url(#g2)" fill-opacity="0.085" transform="rotate(-5.1 148.7 492.8)"/><ellipse cx="118.9" cy="422.9" rx="9.2" ry="1.3" fill="url(#g2)" fill-opacity="0.091" transform="rotate(-5.5 118.9 422.9)"/><ellipse cx="50.7" cy="498.2" rx="10.7" ry="1.4" fill="url(#g2)" fill-opacity="0.078" transform="rotate(1.9 50.7 498.2)"/><ellipse cx="109.1" cy="402.1" rx="15.4" ry="2.0" fill="url(#g2)" fill-opacity="0.097" transform="rotate(-7.0 109.1 402.1)"/><ellipse cx="103.7" cy="488.7" rx="19.0" ry="1.2" fill="url(#g2)" fill-opacity="0.099" transform="rotate(-5.1 103.7 488.7)"/><ellipse cx="45.1" cy="395.9" rx="14.7" ry="2.0" fill="url(#g2)" fill-opacity="0.110" transform="rotate(-4.3 45.1 395.9)"/><ellipse cx="168.2" cy="434.2" rx="15.1" ry="1.7" fill="url(#g2)" fill-opacity="0.052" transform="rotate(-6.9 168.2 434.2)"/><ellipse cx="123.7" cy="459.3" rx="10.0" ry="1.1" fill="url(#g2)" fill-opacity="0.048" transform="rotate(-6.0 123.7 459.3)"/><ellipse cx="67.4" cy="456.3" rx="9.2" ry="1.1" fill="url(#g2)" fill-opacity="0.084" transform="rotate(-4.7 67.4 456.3)"/><ellipse cx="137.3" cy="395.3" rx="8.5" ry="1.6" fill="url(#g2)" fill-opacity="0.056" transform="rotate(-2.5 137.3 395.3)"/><ellipse cx="35.8" cy="382.9" rx="13.0" ry="1.6" fill="url(#g2)" fill-opacity="0.063" transform="rotate(-7.1 35.8 382.9)"/><ellipse cx="52.4" cy="470.4" rx="9.7" ry="1.3" fill="url(#g2)" fill-opacity="0.064" transform="rotate(1.5 52.4 470.4)"/><ellipse cx="76.9" cy="451.4" rx="11.2" ry="1.7" fill="url(#g2)" fill-opacity="0.060" transform="rotate(2.0 76.9 451.4)"/><ellipse cx="85.4" cy="397.0" rx="9.3" ry="1.1" fill="url(#g2)" fill-opacity="0.090" transform="rotate(1.0 85.4 397.0)"/><ellipse cx="95.3" cy="488.8" rx="17.1" ry="1.4" fill="url(#g2)" fill-opacity="0.064" transform="rotate(-6.4 95.3 488.8)"/><ellipse cx="27.8" cy="449.2" rx="18.4" ry="1.2" fill="url(#g2)" fill-opacity="0.083" transform="rotate(-1.8 27.8 449.2)"/><ellipse cx="86.6" cy="442.3" rx="8.7" ry="1.3" fill="url(#g2)" fill-opacity="0.043" transform="rotate(1.3 86.6 442.3)"/><ellipse cx="43.3" cy="440.3" rx="19.6" ry="1.3" fill="url(#g2)" fill-opacity="0.096" transform="rotate(-6.7 43.3 440.3)"/><ellipse cx="180.9" cy="511.7" rx="7.0" ry="1.8" fill="url(#g2)" fill-opacity="0.070" transform="rotate(-4.1 180.9 511.7)"/><ellipse cx="174.5" cy="459.4" rx="8.8" ry="1.8" fill="url(#g2)" fill-opacity="0.098" transform="rotate(-5.8 174.5 459.4)"/><ellipse cx="92.1" cy="492.7" rx="9.1" ry="1.3" fill="url(#g2)" fill-opacity="0.098" transform="rotate(-4.0 92.1 492.7)"/><ellipse cx="110.8" cy="424.5" rx="8.2" ry="1.4" fill="url(#g2)" fill-opacity="0.041" transform="rotate(1.0 110.8 424.5)"/><ellipse cx="43.0" cy="471.5" rx="14.1" ry="1.8" fill="url(#g2)" fill-opacity="0.101" transform="rotate(-24.4 43.0 471.5)"/><ellipse cx="146.4" cy="465.0" rx="11.3" ry="1.8" fill="url(#g2)" fill-opacity="0.069" transform="rotate(-12.9 146.4 465.0)"/><ellipse cx="44.9" cy="400.9" rx="9.8" ry="1.8" fill="url(#g2)" fill-opacity="0.124" transform="rotate(-12.3 44.9 400.9)"/><ellipse cx="129.6" cy="390.1" rx="11.7" ry="1.7" fill="url(#g2)" fill-opacity="0.091" transform="rotate(-15.7 129.6 390.1)"/><ellipse cx="45.7" cy="417.6" rx="7.2" ry="2.1" fill="url(#g2)" fill-opacity="0.048" transform="rotate(-21.1 45.7 417.6)"/><ellipse cx="188.7" cy="432.6" rx="13.5" ry="2.2" fill="url(#g2)" fill-opacity="0.097" transform="rotate(-27.5 188.7 432.6)"/><ellipse cx="122.5" cy="461.3" rx="6.7" ry="2.1" fill="url(#g2)" fill-opacity="0.057" transform="rotate(-18.7 122.5 461.3)"/><ellipse cx="57.4" cy="434.7" rx="11.8" ry="1.8" fill="url(#g2)" fill-opacity="0.061" transform="rotate(-27.7 57.4 434.7)"/><ellipse cx="160.3" cy="381.2" rx="6.5" ry="2.1" fill="url(#g2)" fill-opacity="0.067" transform="rotate(-27.5 160.3 381.2)"/><ellipse cx="112.1" cy="381.7" rx="11.8" ry="2.0" fill="url(#g2)" fill-opacity="0.085" transform="rotate(-20.0 112.1 381.7)"/><ellipse cx="105.4" cy="432.4" rx="7.4" ry="2.0" fill="url(#g2)" fill-opacity="0.096" transform="rotate(-24.8 105.4 432.4)"/><ellipse cx="168.1" cy="506.3" rx="6.7" ry="1.9" fill="url(#g2)" fill-opacity="0.047" transform="rotate(-17.4 168.1 506.3)"/><ellipse cx="28.6" cy="471.8" rx="10.3" ry="1.9" fill="url(#g2)" fill-opacity="0.128" transform="rotate(-17.5 28.6 471.8)"/><ellipse cx="180.3" cy="406.8" rx="7.7" ry="2.0" fill="url(#g2)" fill-opacity="0.069" transform="rotate(-19.7 180.3 406.8)"/><ellipse cx="67.6" cy="425.1" rx="7.7" ry="2.0" fill="url(#g2)" fill-opacity="0.044" transform="rotate(-17.1 67.6 425.1)"/><ellipse cx="72.0" cy="505.9" rx="8.3" ry="1.5" fill="url(#g2)" fill-opacity="0.074" transform="rotate(-26.8 72.0 505.9)"/><ellipse cx="58.2" cy="401.9" rx="9.0" ry="1.8" fill="url(#g2)" fill-opacity="0.121" transform="rotate(-16.7 58.2 401.9)"/><ellipse cx="176.6" cy="410.9" rx="9.7" ry="2.1" fill="url(#g2)" fill-opacity="0.111" transform="rotate(-16.9 176.6 410.9)"/><ellipse cx="180.8" cy="479.5" rx="13.0" ry="1.9" fill="url(#g2)" fill-opacity="0.087" transform="rotate(-21.5 180.8 479.5)"/><ellipse cx="183.7" cy="448.4" rx="9.3" ry="2.4" fill="url(#g2)" fill-opacity="0.112" transform="rotate(-16.5 183.7 448.4)"/><ellipse cx="66.2" cy="505.5" rx="9.1" ry="1.8" fill="url(#g2)" fill-opacity="0.084" transform="rotate(-27.7 66.2 505.5)"/><ellipse cx="58.5" cy="470.0" rx="7.7" ry="1.7" fill="url(#g2)" fill-opacity="0.054" transform="rotate(-18.0 58.5 470.0)"/><ellipse cx="88.1" cy="483.6" rx="8.9" ry="1.8" fill="url(#g2)" fill-opacity="0.064" transform="rotate(-27.2 88.1 483.6)"/><ellipse cx="62.1" cy="389.6" rx="7.9" ry="2.2" fill="url(#g2)" fill-opacity="0.107" transform="rotate(-25.1 62.1 389.6)"/><ellipse cx="132.1" cy="464.7" rx="13.3" ry="2.0" fill="url(#g2)" fill-opacity="0.073" transform="rotate(-17.7 132.1 464.7)"/><ellipse cx="33.0" cy="427.9" rx="9.6" ry="2.2" fill="url(#g2)" fill-opacity="0.065" transform="rotate(-11.0 33.0 427.9)"/><ellipse cx="35.6" cy="468.2" rx="11.3" ry="1.7" fill="url(#g2)" fill-opacity="0.127" transform="rotate(-10.9 35.6 468.2)"/><ellipse cx="95.7" cy="512.4" rx="13.5" ry="2.5" fill="url(#g2)" fill-opacity="0.121" transform="rotate(-28.5 95.7 512.4)"/><ellipse cx="156.3" cy="413.0" rx="8.6" ry="1.9" fill="url(#g2)" fill-opacity="0.053" transform="rotate(-29.9 156.3 413.0)"/><ellipse cx="99.5" cy="483.5" rx="10.6" ry="1.8" fill="url(#g2)" fill-opacity="0.086" transform="rotate(-8.6 99.5 483.5)"/><ellipse cx="66.3" cy="468.3" rx="6.7" ry="2.5" fill="url(#g2)" fill-opacity="0.100" transform="rotate(-24.8 66.3 468.3)"/><ellipse cx="188.5" cy="504.7" rx="13.8" ry="2.0" fill="url(#g2)" fill-opacity="0.124" transform="rotate(-20.2 188.5 504.7)"/><ellipse cx="82.4" cy="505.9" rx="6.5" ry="2.0" fill="url(#g2)" fill-opacity="0.044" transform="rotate(-12.3 82.4 505.9)"/><ellipse cx="141.8" cy="510.6" rx="13.0" ry="1.9" fill="url(#g2)" fill-opacity="0.089" transform="rotate(-10.2 141.8 510.6)"/><ellipse cx="36.9" cy="432.6" rx="12.8" ry="1.9" fill="url(#g2)" fill-opacity="0.094" transform="rotate(-15.0 36.9 432.6)"/><ellipse cx="185.0" cy="429.7" rx="6.3" ry="2.1" fill="url(#g2)" fill-opacity="0.059" transform="rotate(-19.5 185.0 429.7)"/><ellipse cx="89.4" cy="444.5" rx="7.4" ry="1.6" fill="url(#g2)" fill-opacity="0.052" transform="rotate(-24.4 89.4 444.5)"/><ellipse cx="167.1" cy="404.3" rx="11.7" ry="1.8" fill="url(#g2)" fill-opacity="0.049" transform="rotate(-29.4 167.1 404.3)"/><ellipse cx="136.7" cy="469.1" rx="12.8" ry="1.9" fill="url(#g2)" fill-opacity="0.100" transform="rotate(-25.1 136.7 469.1)"/><ellipse cx="148.1" cy="460.1" rx="8.2" ry="1.9" fill="url(#g2)" fill-opacity="0.105" transform="rotate(-14.8 148.1 460.1)"/><ellipse cx="88.8" cy="456.7" rx="12.3" ry="1.8" fill="url(#g2)" fill-opacity="0.084" transform="rotate(-19.0 88.8 456.7)"/><ellipse cx="162.0" cy="413.8" rx="10.5" ry="1.5" fill="url(#g2)" fill-opacity="0.057" transform="rotate(-11.1 162.0 413.8)"/><ellipse cx="70.7" cy="501.2" rx="7.8" ry="2.0" fill="url(#g2)" fill-opacity="0.090" transform="rotate(-15.0 70.7 501.2)"/><ellipse cx="105.6" cy="461.6" rx="13.6" ry="1.6" fill="url(#g2)" fill-opacity="0.075" transform="rotate(-12.4 105.6 461.6)"/><ellipse cx="29.3" cy="442.7" rx="6.6" ry="1.8" fill="url(#g2)" fill-opacity="0.047" transform="rotate(-10.1 29.3 442.7)"/><ellipse cx="76.4" cy="427.3" rx="11.2" ry="1.8" fill="url(#g2)" fill-opacity="0.085" transform="rotate(-22.3 76.4 427.3)"/><ellipse cx="166.1" cy="449.8" rx="12.5" ry="2.3" fill="url(#g2)" fill-opacity="0.073" transform="rotate(-20.5 166.1 449.8)"/><ellipse cx="27.9" cy="413.0" rx="8.3" ry="1.8" fill="url(#g2)" fill-opacity="0.123" transform="rotate(-12.6 27.9 413.0)"/><ellipse cx="44.3" cy="493.1" rx="8.9" ry="1.9" fill="url(#g2)" fill-opacity="0.062" transform="rotate(-27.5 44.3 493.1)"/><ellipse cx="153.2" cy="432.6" rx="12.9" ry="1.7" fill="url(#g2)" fill-opacity="0.112" transform="rotate(-11.9 153.2 432.6)"/><ellipse cx="160.8" cy="403.6" rx="8.3" ry="2.0" fill="url(#g2)" fill-opacity="0.095" transform="rotate(-13.5 160.8 403.6)"/><ellipse cx="87.5" cy="446.5" rx="11.9" ry="1.9" fill="url(#g2)" fill-opacity="0.053" transform="rotate(-11.7 87.5 446.5)"/><ellipse cx="38.7" cy="477.8" rx="9.6" ry="1.5" fill="url(#g2)" fill-opacity="0.049" transform="rotate(-10.2 38.7 477.8)"/><ellipse cx="42.9" cy="437.7" rx="9.5" ry="1.6" fill="url(#g2)" fill-opacity="0.084" transform="rotate(-15.3 42.9 437.7)"/><ellipse cx="185.7" cy="421.2" rx="9.6" ry="1.9" fill="url(#g2)" fill-opacity="0.123" transform="rotate(-20.0 185.7 421.2)"/><ellipse cx="185.8" cy="482.8" rx="7.0" ry="2.0" fill="url(#g2)" fill-opacity="0.099" transform="rotate(-29.7 185.8 482.8)"/><ellipse cx="35.6" cy="423.4" rx="6.9" ry="1.9" fill="url(#g2)" fill-opacity="0.063" transform="rotate(-12.8 35.6 423.4)"/><ellipse cx="178.0" cy="502.9" rx="7.8" ry="2.3" fill="url(#g2)" fill-opacity="0.080" transform="rotate(-20.7 178.0 502.9)"/><ellipse cx="82.0" cy="489.4" rx="14.0" ry="2.2" fill="url(#g2)" fill-opacity="0.092" transform="rotate(-9.2 82.0 489.4)"/><ellipse cx="50.7" cy="506.9" rx="12.0" ry="1.8" fill="url(#g2)" fill-opacity="0.091" transform="rotate(-24.6 50.7 506.9)"/><ellipse cx="74.3" cy="393.0" rx="7.9" ry="1.8" fill="url(#g2)" fill-opacity="0.129" transform="rotate(-16.1 74.3 393.0)"/><ellipse cx="59.1" cy="399.5" rx="7.9" ry="1.5" fill="url(#g2)" fill-opacity="0.064" transform="rotate(-13.7 59.1 399.5)"/><ellipse cx="134.1" cy="413.7" rx="11.4" ry="1.8" fill="url(#g2)" fill-opacity="0.123" transform="rotate(-8.8 134.1 413.7)"/><ellipse cx="63.3" cy="487.2" rx="6.9" ry="2.4" fill="url(#g2)" fill-opacity="0.116" transform="rotate(-20.7 63.3 487.2)"/><ellipse cx="108.2" cy="507.3" rx="8.3" ry="1.6" fill="url(#g2)" fill-opacity="0.082" transform="rotate(-10.5 108.2 507.3)"/><ellipse cx="100.4" cy="472.8" rx="14.4" ry="2.4" fill="url(#g2)" fill-opacity="0.100" transform="rotate(-9.4 100.4 472.8)"/><ellipse cx="108.6" cy="502.1" rx="7.2" ry="2.0" fill="url(#g2)" fill-opacity="0.069" transform="rotate(-29.4 108.6 502.1)"/><ellipse cx="185.7" cy="415.9" rx="8.7" ry="1.8" fill="url(#g2)" fill-opacity="0.080" transform="rotate(-18.2 185.7 415.9)"/><ellipse cx="157.5" cy="370.1" rx="8.2" ry="2.3" fill="url(#g2)" fill-opacity="0.072" transform="rotate(-20.3 157.5 370.1)"/><ellipse cx="98.7" cy="506.1" rx="9.3" ry="1.8" fill="url(#g2)" fill-opacity="0.076" transform="rotate(-24.8 98.7 506.1)"/><ellipse cx="141.5" cy="410.3" rx="11.0" ry="2.2" fill="url(#g2)" fill-opacity="0.088" transform="rotate(-13.7 141.5 410.3)"/><ellipse cx="104.8" cy="507.9" rx="14.5" ry="2.3" fill="url(#g2)" fill-opacity="0.128" transform="rotate(-20.0 104.8 507.9)"/><ellipse cx="84.7" cy="494.7" rx="12.2" ry="1.9" fill="url(#g2)" fill-opacity="0.084" transform="rotate(-22.0 84.7 494.7)"/><ellipse cx="28.4" cy="475.6" rx="9.9" ry="2.1" fill="url(#g2)" fill-opacity="0.067" transform="rotate(-11.7 28.4 475.6)"/><ellipse cx="181.2" cy="465.7" rx="12.8" ry="1.5" fill="url(#g2)" fill-opacity="0.062" transform="rotate(-20.9 181.2 465.7)"/><ellipse cx="177.9" cy="492.5" rx="13.4" ry="1.7" fill="url(#g2)" fill-opacity="0.095" transform="rotate(-29.1 177.9 492.5)"/><ellipse cx="74.3" cy="505.0" rx="7.8" ry="1.7" fill="url(#g2)" fill-opacity="0.044" transform="rotate(-25.5 74.3 505.0)"/><ellipse cx="169.1" cy="383.7" rx="12.5" ry="1.4" fill="url(#g2)" fill-opacity="0.049" transform="rotate(-25.1 169.1 383.7)"/><ellipse cx="92.7" cy="497.7" rx="10.6" ry="2.2" fill="url(#g2)" fill-opacity="0.072" transform="rotate(-16.4 92.7 497.7)"/><ellipse cx="162.4" cy="370.4" rx="6.8" ry="2.3" fill="url(#g2)" fill-opacity="0.091" transform="rotate(-29.4 162.4 370.4)"/><ellipse cx="41.0" cy="431.2" rx="6.8" ry="2.1" fill="url(#g2)" fill-opacity="0.098" transform="rotate(-27.7 41.0 431.2)"/><ellipse cx="78.7" cy="374.2" rx="13.3" ry="2.3" fill="url(#g2)" fill-opacity="0.108" transform="rotate(-22.9 78.7 374.2)"/><ellipse cx="66.6" cy="509.8" rx="14.6" ry="2.0" fill="url(#g2)" fill-opacity="0.116" transform="rotate(-10.6 66.6 509.8)"/><ellipse cx="137.1" cy="483.7" rx="12.6" ry="2.0" fill="url(#g2)" fill-opacity="0.088" transform="rotate(-24.0 137.1 483.7)"/><ellipse cx="104.2" cy="374.0" rx="9.4" ry="1.7" fill="url(#g2)" fill-opacity="0.103" transform="rotate(-12.6 104.2 374.0)"/><ellipse cx="112.1" cy="414.6" rx="14.4" ry="2.0" fill="url(#g2)" fill-opacity="0.126" transform="rotate(-18.0 112.1 414.6)"/><ellipse cx="25.4" cy="420.5" rx="11.1" ry="2.5" fill="url(#g2)" fill-opacity="0.132" transform="rotate(-29.4 25.4 420.5)"/><ellipse cx="28.2" cy="377.1" rx="10.8" ry="2.1" fill="url(#g2)" fill-opacity="0.048" transform="rotate(-13.3 28.2 377.1)"/><ellipse cx="125.2" cy="424.2" rx="7.4" ry="1.8" fill="url(#g2)" fill-opacity="0.076" transform="rotate(-27.3 125.2 424.2)"/><ellipse cx="158.9" cy="447.3" rx="12.8" ry="1.8" fill="url(#g2)" fill-opacity="0.075" transform="rotate(-10.8 158.9 447.3)"/><ellipse cx="143.7" cy="460.5" rx="11.6" ry="2.4" fill="url(#g2)" fill-opacity="0.095" transform="rotate(-8.1 143.7 460.5)"/><ellipse cx="117.5" cy="509.5" rx="12.9" ry="2.2" fill="url(#g2)" fill-opacity="0.063" transform="rotate(-16.0 117.5 509.5)"/><ellipse cx="43.6" cy="498.8" rx="8.9" ry="2.3" fill="url(#g2)" fill-opacity="0.076" transform="rotate(-28.1 43.6 498.8)"/><ellipse cx="131.7" cy="401.4" rx="8.6" ry="1.7" fill="url(#g2)" fill-opacity="0.121" transform="rotate(-19.3 131.7 401.4)"/><ellipse cx="100.8" cy="478.8" rx="8.4" ry="1.7" fill="url(#g2)" fill-opacity="0.067" transform="rotate(-17.9 100.8 478.8)"/><ellipse cx="47.1" cy="450.6" rx="12.3" ry="1.8" fill="url(#g2)" fill-opacity="0.116" transform="rotate(-19.4 47.1 450.6)"/><ellipse cx="40.9" cy="437.5" rx="6.8" ry="2.2" fill="url(#g2)" fill-opacity="0.111" transform="rotate(-9.7 40.9 437.5)"/><ellipse cx="71.5" cy="414.9" rx="8.0" ry="1.8" fill="url(#g2)" fill-opacity="0.103" transform="rotate(-16.4 71.5 414.9)"/><ellipse cx="110.9" cy="392.7" rx="9.6" ry="2.1" fill="url(#g2)" fill-opacity="0.059" transform="rotate(-25.6 110.9 392.7)"/><ellipse cx="138.3" cy="446.3" rx="9.3" ry="2.1" fill="url(#g2)" fill-opacity="0.066" transform="rotate(-27.7 138.3 446.3)"/><ellipse cx="115.6" cy="438.5" rx="8.7" ry="1.5" fill="url(#g2)" fill-opacity="0.051" transform="rotate(-21.1 115.6 438.5)"/><ellipse cx="30.4" cy="451.5" rx="13.8" ry="2.4" fill="url(#g2)" fill-opacity="0.115" transform="rotate(-24.5 30.4 451.5)"/><ellipse cx="157.3" cy="420.8" rx="10.5" ry="2.2" fill="url(#g2)" fill-opacity="0.106" transform="rotate(-21.2 157.3 420.8)"/><ellipse cx="183.6" cy="436.6" rx="8.3" ry="2.3" fill="url(#g2)" fill-opacity="0.114" transform="rotate(-25.4 183.6 436.6)"/><ellipse cx="92.8" cy="423.9" rx="11.3" ry="1.8" fill="url(#g2)" fill-opacity="0.102" transform="rotate(-9.5 92.8 423.9)"/><ellipse cx="32.0" cy="438.2" rx="6.7" ry="1.6" fill="url(#g2)" fill-opacity="0.053" transform="rotate(-9.2 32.0 438.2)"/><ellipse cx="29.0" cy="474.0" rx="13.1" ry="2.3" fill="url(#g2)" fill-opacity="0.094" transform="rotate(-27.3 29.0 474.0)"/><ellipse cx="177.8" cy="388.9" rx="7.5" ry="1.9" fill="url(#g2)" fill-opacity="0.052" transform="rotate(-17.3 177.8 388.9)"/><ellipse cx="139.1" cy="399.8" rx="9.0" ry="2.4" fill="url(#g2)" fill-opacity="0.084" transform="rotate(-17.5 139.1 399.8)"/><ellipse cx="140.7" cy="434.0" rx="6.5" ry="1.5" fill="url(#g2)" fill-opacity="0.051" transform="rotate(-13.8 140.7 434.0)"/><ellipse cx="58.9" cy="438.7" rx="7.3" ry="1.8" fill="url(#g2)" fill-opacity="0.072" transform="rotate(-19.2 58.9 438.7)"/><ellipse cx="176.7" cy="482.8" rx="8.7" ry="1.7" fill="url(#g2)" fill-opacity="0.081" transform="rotate(-22.3 176.7 482.8)"/><ellipse cx="113.0" cy="511.0" rx="7.0" ry="1.6" fill="url(#g2)" fill-opacity="0.048" transform="rotate(-17.6 113.0 511.0)"/><ellipse cx="36.5" cy="371.2" rx="6.8" ry="2.3" fill="url(#g2)" fill-opacity="0.092" transform="rotate(-15.2 36.5 371.2)"/><ellipse cx="102.6" cy="514.9" rx="13.8" ry="1.7" fill="url(#g2)" fill-opacity="0.085" transform="rotate(-28.3 102.6 514.9)"/><ellipse cx="94.2" cy="446.2" rx="7.7" ry="2.2" fill="url(#g2)" fill-opacity="0.102" transform="rotate(-23.6 94.2 446.2)"/><ellipse cx="181.3" cy="485.4" rx="7.2" ry="1.6" fill="url(#g2)" fill-opacity="0.112" transform="rotate(-29.3 181.3 485.4)"/><ellipse cx="98.4" cy="373.1" rx="6.4" ry="2.2" fill="url(#g2)" fill-opacity="0.054" transform="rotate(-19.7 98.4 373.1)"/><ellipse cx="68.5" cy="390.1" rx="7.0" ry="2.1" fill="url(#g2)" fill-opacity="0.067" transform="rotate(-9.7 68.5 390.1)"/><ellipse cx="159.8" cy="379.2" rx="13.3" ry="1.9" fill="url(#g2)" fill-opacity="0.097" transform="rotate(-12.8 159.8 379.2)"/><ellipse cx="27.5" cy="444.4" rx="10.2" ry="1.7" fill="url(#g2)" fill-opacity="0.109" transform="rotate(-8.6 27.5 444.4)"/><ellipse cx="159.2" cy="409.9" rx="8.1" ry="2.1" fill="url(#g2)" fill-opacity="0.108" transform="rotate(-14.3 159.2 409.9)"/><ellipse cx="124.2" cy="432.6" rx="10.1" ry="1.7" fill="url(#g2)" fill-opacity="0.117" transform="rotate(-26.6 124.2 432.6)"/><ellipse cx="50.1" cy="482.8" rx="12.2" ry="1.8" fill="url(#g2)" fill-opacity="0.047" transform="rotate(-28.5 50.1 482.8)"/><ellipse cx="181.2" cy="513.8" rx="10.2" ry="1.6" fill="url(#g2)" fill-opacity="0.062" transform="rotate(-27.0 181.2 513.8)"/><ellipse cx="37.9" cy="498.4" rx="7.6" ry="1.6" fill="url(#g2)" fill-opacity="0.061" transform="rotate(-23.7 37.9 498.4)"/><ellipse cx="181.3" cy="398.9" rx="6.5" ry="2.0" fill="url(#g2)" fill-opacity="0.058" transform="rotate(-27.7 181.3 398.9)"/><ellipse cx="160.5" cy="506.5" rx="9.7" ry="2.1" fill="url(#g2)" fill-opacity="0.066" transform="rotate(-19.3 160.5 506.5)"/><ellipse cx="77.7" cy="502.8" rx="8.9" ry="2.4" fill="url(#g2)" fill-opacity="0.133" transform="rotate(-29.2 77.7 502.8)"/><ellipse cx="161.5" cy="418.8" rx="7.1" ry="1.8" fill="url(#g2)" fill-opacity="0.131" transform="rotate(-21.1 161.5 418.8)"/><ellipse cx="108.6" cy="482.0" rx="6.3" ry="1.6" fill="url(#g2)" fill-opacity="0.053" transform="rotate(-27.8 108.6 482.0)"/><ellipse cx="181.5" cy="443.9" rx="8.4" ry="1.6" fill="url(#g2)" fill-opacity="0.059" transform="rotate(-20.1 181.5 443.9)"/><ellipse cx="78.5" cy="460.3" rx="11.0" ry="2.2" fill="url(#g2)" fill-opacity="0.061" transform="rotate(-13.4 78.5 460.3)"/><ellipse cx="38.8" cy="438.8" rx="7.4" ry="2.5" fill="url(#g2)" fill-opacity="0.116" transform="rotate(-27.6 38.8 438.8)"/><ellipse cx="43.0" cy="369.2" rx="7.1" ry="2.0" fill="url(#g2)" fill-opacity="0.120" transform="rotate(-17.0 43.0 369.2)"/><ellipse cx="105.2" cy="514.5" rx="6.7" ry="1.9" fill="url(#g2)" fill-opacity="0.096" transform="rotate(-26.5 105.2 514.5)"/><ellipse cx="172.5" cy="401.6" rx="10.2" ry="2.0" fill="url(#g2)" fill-opacity="0.102" transform="rotate(-18.2 172.5 401.6)"/><ellipse cx="67.4" cy="463.1" rx="13.0" ry="2.3" fill="url(#g2)" fill-opacity="0.096" transform="rotate(-27.9 67.4 463.1)"/><ellipse cx="160.6" cy="415.4" rx="11.6" ry="1.8" fill="url(#g2)" fill-opacity="0.130" transform="rotate(-18.6 160.6 415.4)"/><ellipse cx="115.3" cy="443.2" rx="10.8" ry="2.0" fill="url(#g2)" fill-opacity="0.076" transform="rotate(-12.5 115.3 443.2)"/><ellipse cx="82.0" cy="435.1" rx="10.3" ry="1.3" fill="url(#g2)" fill-opacity="0.042" transform="rotate(-10.8 82.0 435.1)"/><ellipse cx="110.7" cy="452.0" rx="10.6" ry="1.6" fill="url(#g2)" fill-opacity="0.076" transform="rotate(-26.6 110.7 452.0)"/><ellipse cx="113.6" cy="412.1" rx="10.4" ry="2.4" fill="url(#g2)" fill-opacity="0.087" transform="rotate(-15.7 113.6 412.1)"/><ellipse cx="28.5" cy="465.7" rx="7.7" ry="1.8" fill="url(#g2)" fill-opacity="0.070" transform="rotate(-10.3 28.5 465.7)"/><ellipse cx="156.0" cy="435.5" rx="11.0" ry="1.7" fill="url(#g2)" fill-opacity="0.120" transform="rotate(-14.4 156.0 435.5)"/><ellipse cx="167.8" cy="468.2" rx="9.8" ry="1.6" fill="url(#g2)" fill-opacity="0.068" transform="rotate(-24.6 167.8 468.2)"/><ellipse cx="36.2" cy="510.1" rx="10.6" ry="2.2" fill="url(#g2)" fill-opacity="0.107" transform="rotate(-14.7 36.2 510.1)"/><ellipse cx="103.0" cy="405.1" rx="10.7" ry="1.9" fill="url(#g2)" fill-opacity="0.086" transform="rotate(-25.1 103.0 405.1)"/><ellipse cx="121.6" cy="463.7" rx="7.1" ry="2.1" fill="url(#g2)" fill-opacity="0.062" transform="rotate(-8.3 121.6 463.7)"/><ellipse cx="145.8" cy="489.0" rx="9.8" ry="2.1" fill="url(#g2)" fill-opacity="0.107" transform="rotate(-19.9 145.8 489.0)"/><ellipse cx="186.5" cy="384.4" rx="8.0" ry="1.9" fill="url(#g2)" fill-opacity="0.132" transform="rotate(-17.4 186.5 384.4)"/><ellipse cx="180.8" cy="497.5" rx="11.9" ry="2.3" fill="url(#g2)" fill-opacity="0.111" transform="rotate(-23.3 180.8 497.5)"/><ellipse cx="32.8" cy="454.8" rx="9.4" ry="2.1" fill="url(#g2)" fill-opacity="0.061" transform="rotate(-8.5 32.8 454.8)"/><ellipse cx="46.6" cy="503.8" rx="9.9" ry="2.1" fill="url(#g2)" fill-opacity="0.062" transform="rotate(-15.1 46.6 503.8)"/><ellipse cx="88.1" cy="499.6" rx="11.8" ry="2.2" fill="url(#g2)" fill-opacity="0.056" transform="rotate(-11.5 88.1 499.6)"/><ellipse cx="44.4" cy="425.2" rx="8.2" ry="1.7" fill="url(#g2)" fill-opacity="0.050" transform="rotate(-26.5 44.4 425.2)"/><ellipse cx="101.5" cy="490.8" rx="9.1" ry="1.7" fill="url(#g2)" fill-opacity="0.102" transform="rotate(-27.5 101.5 490.8)"/><ellipse cx="159.6" cy="406.1" rx="8.1" ry="2.2" fill="url(#g2)" fill-opacity="0.092" transform="rotate(-28.1 159.6 406.1)"/><ellipse cx="103.3" cy="432.7" rx="8.2" ry="2.1" fill="url(#g2)" fill-opacity="0.088" transform="rotate(-8.9 103.3 432.7)"/><ellipse cx="60.1" cy="378.8" rx="8.7" ry="2.2" fill="url(#g2)" fill-opacity="0.066" transform="rotate(-29.3 60.1 378.8)"/><ellipse cx="32.5" cy="446.5" rx="8.1" ry="2.1" fill="url(#g2)" fill-opacity="0.084" transform="rotate(-21.3 32.5 446.5)"/><ellipse cx="185.0" cy="400.1" rx="7.6" ry="1.6" fill="url(#g2)" fill-opacity="0.089" transform="rotate(-9.0 185.0 400.1)"/><ellipse cx="171.5" cy="477.8" rx="11.7" ry="1.7" fill="url(#g2)" fill-opacity="0.087" transform="rotate(-26.0 171.5 477.8)"/><ellipse cx="61.3" cy="407.5" rx="10.2" ry="1.7" fill="url(#g2)" fill-opacity="0.077" transform="rotate(-22.3 61.3 407.5)"/><ellipse cx="157.3" cy="485.7" rx="10.3" ry="1.5" fill="url(#g2)" fill-opacity="0.064" transform="rotate(-16.2 157.3 485.7)"/><ellipse cx="127.8" cy="394.5" rx="11.7" ry="2.5" fill="url(#g2)" fill-opacity="0.118" transform="rotate(-24.1 127.8 394.5)"/><ellipse cx="50.5" cy="482.5" rx="8.6" ry="2.0" fill="url(#g2)" fill-opacity="0.110" transform="rotate(-26.1 50.5 482.5)"/><ellipse cx="101.8" cy="512.4" rx="8.8" ry="2.2" fill="url(#g2)" fill-opacity="0.065" transform="rotate(-8.3 101.8 512.4)"/><ellipse cx="110.2" cy="449.3" rx="12.0" ry="2.3" fill="url(#g2)" fill-opacity="0.087" transform="rotate(-9.8 110.2 449.3)"/><ellipse cx="118.7" cy="435.9" rx="12.3" ry="2.5" fill="url(#g2)" fill-opacity="0.119" transform="rotate(-27.7 118.7 435.9)"/><ellipse cx="146.9" cy="485.8" rx="6.4" ry="1.8" fill="url(#g2)" fill-opacity="0.073" transform="rotate(-8.6 146.9 485.8)"/><ellipse cx="150.7" cy="417.9" rx="7.5" ry="2.3" fill="url(#g2)" fill-opacity="0.119" transform="rotate(-17.8 150.7 417.9)"/><ellipse cx="187.9" cy="411.4" rx="9.0" ry="1.9" fill="url(#g2)" fill-opacity="0.073" transform="rotate(-19.8 187.9 411.4)"/><ellipse cx="57.1" cy="433.8" rx="9.8" ry="2.0" fill="url(#g2)" fill-opacity="0.046" transform="rotate(-22.9 57.1 433.8)"/><ellipse cx="99.6" cy="510.5" rx="12.3" ry="2.1" fill="url(#g2)" fill-opacity="0.118" transform="rotate(-8.7 99.6 510.5)"/><ellipse cx="103.6" cy="459.2" rx="9.8" ry="2.0" fill="url(#g2)" fill-opacity="0.122" transform="rotate(-15.5 103.6 459.2)"/><ellipse cx="143.1" cy="471.2" rx="8.6" ry="2.2" fill="url(#g2)" fill-opacity="0.078" transform="rotate(-14.1 143.1 471.2)"/><ellipse cx="111.2" cy="405.8" rx="9.2" ry="2.0" fill="url(#g2)" fill-opacity="0.047" transform="rotate(-10.9 111.2 405.8)"/><ellipse cx="148.4" cy="430.4" rx="13.9" ry="1.9" fill="url(#g2)" fill-opacity="0.121" transform="rotate(-18.2 148.4 430.4)"/><ellipse cx="85.5" cy="396.5" rx="8.3" ry="2.4" fill="url(#g2)" fill-opacity="0.086" transform="rotate(-8.5 85.5 396.5)"/><ellipse cx="67.9" cy="392.5" rx="12.6" ry="1.7" fill="url(#g2)" fill-opacity="0.059" transform="rotate(-11.9 67.9 392.5)"/><ellipse cx="189.6" cy="418.8" rx="7.7" ry="1.6" fill="url(#g2)" fill-opacity="0.118" transform="rotate(-15.2 189.6 418.8)"/><ellipse cx="76.5" cy="402.1" rx="12.7" ry="1.9" fill="url(#g2)" fill-opacity="0.087" transform="rotate(-17.9 76.5 402.1)"/><ellipse cx="150.5" cy="381.6" rx="6.9" ry="1.7" fill="url(#g2)" fill-opacity="0.087" transform="rotate(-27.3 150.5 381.6)"/><ellipse cx="55.0" cy="503.7" rx="8.7" ry="1.4" fill="url(#g2)" fill-opacity="0.043" transform="rotate(-29.8 55.0 503.7)"/><ellipse cx="178.2" cy="442.1" rx="11.9" ry="2.1" fill="url(#g2)" fill-opacity="0.120" transform="rotate(-13.1 178.2 442.1)"/><ellipse cx="26.2" cy="398.7" rx="14.5" ry="1.7" fill="url(#g2)" fill-opacity="0.103" transform="rotate(-21.3 26.2 398.7)"/><ellipse cx="137.6" cy="452.3" rx="7.1" ry="1.8" fill="url(#g2)" fill-opacity="0.108" transform="rotate(-15.1 137.6 452.3)"/><ellipse cx="147.8" cy="465.7" rx="13.2" ry="1.6" fill="url(#g2)" fill-opacity="0.115" transform="rotate(-23.3 147.8 465.7)"/><ellipse cx="37.2" cy="386.2" rx="9.8" ry="2.4" fill="url(#g2)" fill-opacity="0.107" transform="rotate(-29.4 37.2 386.2)"/><ellipse cx="100.3" cy="511.7" rx="11.5" ry="2.2" fill="url(#g2)" fill-opacity="0.074" transform="rotate(-12.3 100.3 511.7)"/><ellipse cx="78.8" cy="433.8" rx="11.0" ry="2.0" fill="url(#g2)" fill-opacity="0.112" transform="rotate(-9.2 78.8 433.8)"/><ellipse cx="67.6" cy="470.5" rx="11.0" ry="2.1" fill="url(#g2)" fill-opacity="0.073" transform="rotate(-10.4 67.6 470.5)"/><ellipse cx="157.9" cy="441.9" rx="12.0" ry="2.2" fill="url(#g2)" fill-opacity="0.094" transform="rotate(-9.7 157.9 441.9)"/><ellipse cx="28.1" cy="371.3" rx="12.1" ry="1.7" fill="url(#g2)" fill-opacity="0.129" transform="rotate(-23.4 28.1 371.3)"/><ellipse cx="48.5" cy="414.1" rx="11.0" ry="1.5" fill="url(#g2)" fill-opacity="0.054" transform="rotate(-20.0 48.5 414.1)"/><ellipse cx="34.8" cy="426.2" rx="10.1" ry="1.7" fill="url(#g2)" fill-opacity="0.065" transform="rotate(-25.2 34.8 426.2)"/><ellipse cx="83.4" cy="507.1" rx="8.2" ry="2.3" fill="url(#g2)" fill-opacity="0.132" transform="rotate(-28.8 83.4 507.1)"/><ellipse cx="77.0" cy="482.9" rx="12.3" ry="2.0" fill="url(#g2)" fill-opacity="0.108" transform="rotate(-20.2 77.0 482.9)"/><ellipse cx="33.9" cy="465.1" rx="9.6" ry="1.7" fill="url(#g2)" fill-opacity="0.100" transform="rotate(-24.3 33.9 465.1)"/><ellipse cx="97.7" cy="496.5" rx="13.4" ry="1.5" fill="url(#g2)" fill-opacity="0.125" transform="rotate(-5.3 97.7 496.5)"/><ellipse cx="124.0" cy="427.3" rx="11.7" ry="1.9" fill="url(#g2)" fill-opacity="0.220" transform="rotate(-2.6 124.0 427.3)"/><ellipse cx="96.5" cy="484.4" rx="9.0" ry="1.4" fill="url(#g2)" fill-opacity="0.118" transform="rotate(-5.1 96.5 484.4)"/><ellipse cx="103.9" cy="491.0" rx="8.2" ry="1.7" fill="url(#g2)" fill-opacity="0.172" transform="rotate(2.9 103.9 491.0)"/><ellipse cx="92.1" cy="465.1" rx="13.4" ry="1.7" fill="url(#g2)" fill-opacity="0.171" transform="rotate(-0.4 92.1 465.1)"/><ellipse cx="106.9" cy="467.8" rx="13.0" ry="1.6" fill="url(#g2)" fill-opacity="0.268" transform="rotate(-7.3 106.9 467.8)"/><ellipse cx="122.2" cy="453.0" rx="15.8" ry="1.9" fill="url(#g2)" fill-opacity="0.138" transform="rotate(0.0 122.2 453.0)"/><ellipse cx="120.0" cy="434.3" rx="15.4" ry="1.5" fill="url(#g2)" fill-opacity="0.168" transform="rotate(0.4 120.0 434.3)"/><ellipse cx="93.3" cy="471.5" rx="16.5" ry="2.3" fill="url(#g2)" fill-opacity="0.231" transform="rotate(-2.5 93.3 471.5)"/><ellipse cx="96.7" cy="421.8" rx="12.1" ry="1.5" fill="url(#g2)" fill-opacity="0.199" transform="rotate(1.9 96.7 421.8)"/><ellipse cx="107.3" cy="472.5" rx="9.3" ry="1.4" fill="url(#g2)" fill-opacity="0.142" transform="rotate(-4.2 107.3 472.5)"/><ellipse cx="99.1" cy="447.0" rx="15.0" ry="2.3" fill="url(#g2)" fill-opacity="0.171" transform="rotate(-6.1 99.1 447.0)"/><ellipse cx="103.5" cy="423.3" rx="16.7" ry="1.6" fill="url(#g2)" fill-opacity="0.224" transform="rotate(0.4 103.5 423.3)"/><ellipse cx="100.2" cy="409.2" rx="10.6" ry="1.6" fill="url(#g2)" fill-opacity="0.242" transform="rotate(-3.2 100.2 409.2)"/><ellipse cx="97.9" cy="445.7" rx="11.1" ry="2.0" fill="url(#g2)" fill-opacity="0.184" transform="rotate(-4.8 97.9 445.7)"/><ellipse cx="93.2" cy="415.8" rx="11.7" ry="1.7" fill="url(#g2)" fill-opacity="0.122" transform="rotate(0.9 93.2 415.8)"/><ellipse cx="107.2" cy="473.2" rx="8.0" ry="1.5" fill="url(#g2)" fill-opacity="0.282" transform="rotate(-6.5 107.2 473.2)"/><ellipse cx="103.1" cy="460.8" rx="10.7" ry="2.4" fill="url(#g2)" fill-opacity="0.239" transform="rotate(-8.0 103.1 460.8)"/><ellipse cx="118.4" cy="427.3" rx="7.6" ry="2.4" fill="url(#g2)" fill-opacity="0.263" transform="rotate(0.4 118.4 427.3)"/><ellipse cx="123.7" cy="461.4" rx="15.9" ry="1.8" fill="url(#g2)" fill-opacity="0.135" transform="rotate(-7.1 123.7 461.4)"/><ellipse cx="110.6" cy="453.7" rx="8.6" ry="1.5" fill="url(#g2)" fill-opacity="0.189" transform="rotate(-1.6 110.6 453.7)"/><ellipse cx="105.4" cy="419.6" rx="14.1" ry="2.1" fill="url(#g2)" fill-opacity="0.183" transform="rotate(-2.8 105.4 419.6)"/><ellipse cx="103.4" cy="441.2" rx="8.8" ry="1.8" fill="url(#g2)" fill-opacity="0.143" transform="rotate(-6.8 103.4 441.2)"/><ellipse cx="114.7" cy="473.2" rx="7.4" ry="1.8" fill="url(#g2)" fill-opacity="0.214" transform="rotate(-3.2 114.7 473.2)"/><ellipse cx="93.2" cy="497.0" rx="12.2" ry="2.1" fill="url(#g2)" fill-opacity="0.241" transform="rotate(-5.8 93.2 497.0)"/><ellipse cx="97.8" cy="456.4" rx="13.6" ry="1.5" fill="url(#g2)" fill-opacity="0.239" transform="rotate(-1.3 97.8 456.4)"/><ellipse cx="120.9" cy="476.4" rx="16.9" ry="1.7" fill="url(#g2)" fill-opacity="0.272" transform="rotate(-4.7 120.9 476.4)"/><ellipse cx="108.6" cy="497.9" rx="16.0" ry="2.2" fill="url(#g2)" fill-opacity="0.170" transform="rotate(-2.3 108.6 497.9)"/><ellipse cx="111.3" cy="496.0" rx="10.2" ry="2.3" fill="url(#g2)" fill-opacity="0.246" transform="rotate(-5.8 111.3 496.0)"/><ellipse cx="102.6" cy="496.2" rx="10.4" ry="1.7" fill="url(#g2)" fill-opacity="0.258" transform="rotate(-1.3 102.6 496.2)"/><ellipse cx="118.6" cy="471.0" rx="14.5" ry="2.3" fill="url(#g2)" fill-opacity="0.274" transform="rotate(-1.3 118.6 471.0)"/><ellipse cx="102.3" cy="447.3" rx="12.2" ry="2.2" fill="url(#g2)" fill-opacity="0.192" transform="rotate(-5.0 102.3 447.3)"/><ellipse cx="92.3" cy="475.4" rx="11.0" ry="1.5" fill="url(#g2)" fill-opacity="0.152" transform="rotate(1.1 92.3 475.4)"/><ellipse cx="99.3" cy="434.8" rx="12.2" ry="1.7" fill="url(#g2)" fill-opacity="0.250" transform="rotate(1.8 99.3 434.8)"/><ellipse cx="104.0" cy="441.2" rx="15.1" ry="2.2" fill="url(#g2)" fill-opacity="0.279" transform="rotate(-5.3 104.0 441.2)"/><ellipse cx="67.6" cy="514.3" rx="10.3" ry="2.3" fill="url(#g2)" fill-opacity="0.306"/><ellipse cx="93.4" cy="429.2" rx="12.4" ry="2.7" fill="url(#g2)" fill-opacity="0.347" transform="rotate(-8.0 93.4 429.2)"/><ellipse cx="101.0" cy="424.3" rx="12.4" ry="2.4" fill="url(#g2)" fill-opacity="0.310"/><ellipse cx="98.2" cy="426.6" rx="14.1" ry="4.1" fill="url(#g26)" fill-opacity="0.816"/><ellipse cx="116.4" cy="429.5" rx="10.8" ry="2.6" fill="url(#g2)" fill-opacity="0.347" transform="rotate(-8.0 116.4 429.5)"/><ellipse cx="123.0" cy="424.8" rx="10.8" ry="2.3" fill="url(#g2)" fill-opacity="0.310"/><ellipse cx="120.6" cy="427.0" rx="12.8" ry="4.0" fill="url(#g26)" fill-opacity="0.745"/><ellipse cx="109.0" cy="424.5" rx="10.3" ry="1.8" fill="url(#g2)" fill-opacity="0.337"/><ellipse cx="107.0" cy="431.5" rx="12.9" ry="1.8" fill="url(#g2)" fill-opacity="0.286"/><ellipse cx="91.0" cy="461.2" rx="11.6" ry="2.6" fill="url(#g2)" fill-opacity="0.347" transform="rotate(-8.0 91.0 461.2)"/><ellipse cx="98.1" cy="456.5" rx="11.6" ry="2.3" fill="url(#g2)" fill-opacity="0.310"/><ellipse cx="95.5" cy="458.7" rx="15.0" ry="4.4" fill="url(#g26)" fill-opacity="0.612"/><ellipse cx="115.3" cy="461.1" rx="10.8" ry="2.4" fill="url(#g2)" fill-opacity="0.347" transform="rotate(-8.0 115.3 461.1)"/><ellipse cx="122.0" cy="456.6" rx="10.8" ry="2.2" fill="url(#g2)" fill-opacity="0.310"/><ellipse cx="119.5" cy="458.7" rx="12.8" ry="3.8" fill="url(#g26)" fill-opacity="0.745"/><ellipse cx="108.0" cy="462.5" rx="12.9" ry="1.8" fill="url(#g2)" fill-opacity="0.286"/><ellipse cx="102.6" cy="491.2" rx="10.1" ry="2.3" fill="url(#g2)" fill-opacity="0.347" transform="rotate(-8.0 102.6 491.2)"/><ellipse cx="108.8" cy="486.9" rx="10.1" ry="2.1" fill="url(#g2)" fill-opacity="0.310"/><ellipse cx="106.5" cy="488.9" rx="11.6" ry="3.6" fill="url(#g26)" fill-opacity="0.796"/><ellipse cx="110.0" cy="493.0" rx="12.9" ry="1.8" fill="url(#g2)" fill-opacity="0.286"/><ellipse cx="181.0" cy="458.5" rx="6.4" ry="2.6" fill="url(#g2)" fill-opacity="0.439"/><ellipse cx="181.3" cy="426.7" rx="5.9" ry="2.3" fill="url(#g2)" fill-opacity="0.388"/></g></g><clipPath id="clipdo0"><ellipse cx="108.0" cy="395.8" rx="22.0" ry="11.3"/></clipPath><filter id="fdo0" filterUnits="userSpaceOnUse" x="78.0" y="376.5" width="60.0" height="38.60000000000002" color-interpolation-filters="sRGB"><feGaussianBlur stdDeviation="0.5 0.35"/><feComponentTransfer><feFuncR type="table" tableValues="0.0000 0.0000 0.0000 0.0000 0.0000 0.0000 0.0000 0.2500 0.5000 0.7500 1.0000 1.0000 1.0000 1.0000 1.0000 0.7500 0.5000"/><feFuncG type="table" tableValues="0.0000 0.0000 0.0000 0.2500 0.5000 0.7500 1.0000 1.0000 1.0000 1.0000 1.0000 0.7500 0.5000 0.2500 0.0000 0.0000 0.0000"/><feFuncB type="table" tableValues="0.5000 0.7500 1.0000 1.0000 1.0000 1.0000 1.0000 0.7500 0.5000 0.2500 0.0000 0.0000 0.0000 0.0000 0.0000 0.0000 0.0000"/></feComponentTransfer></filter><g clip-path="url(#clipdo0)"><g filter="url(#fdo0)"><rect x="78.0" y="376.5" width="60.0" height="38.6" fill="#1a1a1a"/><ellipse cx="108.0" cy="396.0" rx="41.2" ry="12.9" fill="url(#g2)" fill-opacity="0.092"/><ellipse cx="102.5" cy="392.4" rx="20.6" ry="3.6" fill="url(#g2)" fill-opacity="0.439"/><ellipse cx="118.5" cy="395.3" rx="18.9" ry="3.8" fill="url(#g2)" fill-opacity="0.592"/><ellipse cx="109.0" cy="394.8" rx="12.9" ry="2.6" fill="url(#g2)" fill-opacity="0.388" transform="rotate(12.0 109.0 394.8)"/><ellipse cx="96.7" cy="395.3" rx="10.7" ry="2.9" fill="url(#g26)" fill-opacity="0.796"/><ellipse cx="104.0" cy="388.0" rx="6.4" ry="2.1" fill="url(#g2)" fill-opacity="0.316"/><ellipse cx="107.0" cy="399.6" rx="7.7" ry="2.1" fill="url(#g2)" fill-opacity="0.306"/></g></g><clipPath id="clipdo1"><rect x="26.9" y="392.5" width="34.9" height="87.8"/></clipPath><filter id="fdo1" filterUnits="userSpaceOnUse" x="18.9" y="384.5" width="50.9" height="103.80000000000001" color-interpolation-filters="sRGB"><feGaussianBlur stdDeviation="0.5 0.35"/><feComponentTransfer><feFuncR type="table" tableValues="0.0000 0.0000 0.0000 0.0000 0.0000 0.0000 0.0000 0.2500 0.5000 0.7500 1.0000 1.0000 1.0000 1.0000 1.0000 0.7500 0.5000"/><feFuncG type="table" tableValues="0.0000 0.0000 0.0000 0.2500 0.5000 0.7500 1.0000 1.0000 1.0000 1.0000 1.0000 0.7500 0.5000 0.2500 0.0000 0.0000 0.0000"/><feFuncB type="table" tableValues="0.5000 0.7500 1.0000 1.0000 1.0000 1.0000 1.0000 0.7500 0.5000 0.2500 0.0000 0.0000 0.0000 0.0000 0.0000 0.0000 0.0000"/></feComponentTransfer></filter><g clip-path="url(#clipdo1)"><g filter="url(#fdo1)"><rect x="18.9" y="384.5" width="50.9" height="103.8" fill="#111111"/><ellipse cx="43.1" cy="425.3" rx="10.0" ry="0.9" fill="url(#g2)" fill-opacity="0.081" transform="rotate(-5.5 43.1 425.3)"/><ellipse cx="58.3" cy="399.6" rx="8.7" ry="0.9" fill="url(#g2)" fill-opacity="0.111" transform="rotate(-7.6 58.3 399.6)"/><ellipse cx="51.5" cy="432.2" rx="5.7" ry="1.1" fill="url(#g2)" fill-opacity="0.123" transform="rotate(-12.1 51.5 432.2)"/><ellipse cx="44.6" cy="473.6" rx="9.8" ry="1.2" fill="url(#g2)" fill-opacity="0.114" transform="rotate(-1.3 44.6 473.6)"/><ellipse cx="30.4" cy="418.1" rx="9.6" ry="1.2" fill="url(#g2)" fill-opacity="0.120" transform="rotate(-12.5 30.4 418.1)"/><ellipse cx="36.2" cy="410.9" rx="9.8" ry="1.0" fill="url(#g2)" fill-opacity="0.092" transform="rotate(1.1 36.2 410.9)"/><ellipse cx="57.6" cy="397.3" rx="7.8" ry="0.9" fill="url(#g2)" fill-opacity="0.098" transform="rotate(-6.8 57.6 397.3)"/><ellipse cx="58.5" cy="402.3" rx="5.4" ry="1.3" fill="url(#g2)" fill-opacity="0.114" transform="rotate(1.2 58.5 402.3)"/><ellipse cx="34.0" cy="393.2" rx="7.8" ry="0.9" fill="url(#g2)" fill-opacity="0.077" transform="rotate(-12.6 34.0 393.2)"/><ellipse cx="44.2" cy="473.4" rx="7.2" ry="1.3" fill="url(#g2)" fill-opacity="0.101" transform="rotate(-12.4 44.2 473.4)"/><ellipse cx="47.1" cy="407.7" rx="11.1" ry="0.9" fill="url(#g2)" fill-opacity="0.115" transform="rotate(-4.6 47.1 407.7)"/><ellipse cx="48.1" cy="405.6" rx="11.0" ry="1.5" fill="url(#g2)" fill-opacity="0.091" transform="rotate(-11.9 48.1 405.6)"/><ellipse cx="51.5" cy="476.0" rx="8.4" ry="0.9" fill="url(#g2)" fill-opacity="0.088" transform="rotate(-7.8 51.5 476.0)"/><ellipse cx="50.4" cy="444.3" rx="5.2" ry="1.2" fill="url(#g2)" fill-opacity="0.127" transform="rotate(0.7 50.4 444.3)"/><ellipse cx="47.3" cy="432.1" rx="11.1" ry="1.3" fill="url(#g2)" fill-opacity="0.100" transform="rotate(-13.7 47.3 432.1)"/><ellipse cx="54.8" cy="421.4" rx="5.9" ry="1.2" fill="url(#g2)" fill-opacity="0.102" transform="rotate(-8.5 54.8 421.4)"/><ellipse cx="30.0" cy="447.8" rx="9.4" ry="0.9" fill="url(#g2)" fill-opacity="0.079" transform="rotate(-0.7 30.0 447.8)"/><ellipse cx="55.1" cy="436.2" rx="6.3" ry="1.4" fill="url(#g2)" fill-opacity="0.122" transform="rotate(-6.8 55.1 436.2)"/><ellipse cx="35.0" cy="477.1" rx="7.0" ry="1.5" fill="url(#g2)" fill-opacity="0.100" transform="rotate(-7.7 35.0 477.1)"/><ellipse cx="50.2" cy="407.5" rx="6.4" ry="1.0" fill="url(#g2)" fill-opacity="0.132" transform="rotate(2.6 50.2 407.5)"/><ellipse cx="32.9" cy="475.6" rx="8.9" ry="0.9" fill="url(#g2)" fill-opacity="0.142" transform="rotate(-13.0 32.9 475.6)"/><ellipse cx="34.2" cy="426.6" rx="11.2" ry="1.2" fill="url(#g2)" fill-opacity="0.115" transform="rotate(-11.6 34.2 426.6)"/><ellipse cx="46.5" cy="404.6" rx="7.9" ry="1.3" fill="url(#g2)" fill-opacity="0.078" transform="rotate(-12.9 46.5 404.6)"/><ellipse cx="42.7" cy="454.3" rx="7.2" ry="1.5" fill="url(#g2)" fill-opacity="0.126" transform="rotate(-11.1 42.7 454.3)"/><ellipse cx="51.9" cy="460.3" rx="8.1" ry="1.0" fill="url(#g2)" fill-opacity="0.134" transform="rotate(-13.2 51.9 460.3)"/><ellipse cx="45.4" cy="407.7" rx="5.1" ry="1.4" fill="url(#g2)" fill-opacity="0.116" transform="rotate(-10.2 45.4 407.7)"/><ellipse cx="27.4" cy="407.9" rx="8.3" ry="1.2" fill="url(#g2)" fill-opacity="0.104" transform="rotate(-11.1 27.4 407.9)"/><ellipse cx="43.7" cy="475.6" rx="10.9" ry="0.9" fill="url(#g2)" fill-opacity="0.110" transform="rotate(2.9 43.7 475.6)"/><ellipse cx="57.9" cy="440.3" rx="8.2" ry="1.5" fill="url(#g2)" fill-opacity="0.109" transform="rotate(-12.9 57.9 440.3)"/><ellipse cx="49.3" cy="440.1" rx="9.2" ry="1.4" fill="url(#g2)" fill-opacity="0.093" transform="rotate(-12.2 49.3 440.1)"/><ellipse cx="51.3" cy="432.3" rx="8.8" ry="0.9" fill="url(#g2)" fill-opacity="0.106" transform="rotate(-3.8 51.3 432.3)"/><ellipse cx="39.9" cy="469.7" rx="9.8" ry="1.4" fill="url(#g2)" fill-opacity="0.088" transform="rotate(-3.4 39.9 469.7)"/><ellipse cx="57.5" cy="395.7" rx="8.7" ry="1.4" fill="url(#g2)" fill-opacity="0.114" transform="rotate(-7.1 57.5 395.7)"/><ellipse cx="29.3" cy="409.1" rx="5.8" ry="1.0" fill="url(#g2)" fill-opacity="0.115" transform="rotate(-8.0 29.3 409.1)"/><ellipse cx="43.3" cy="439.5" rx="9.2" ry="1.1" fill="url(#g2)" fill-opacity="0.073" transform="rotate(-0.7 43.3 439.5)"/><ellipse cx="27.2" cy="476.3" rx="11.2" ry="1.6" fill="url(#g2)" fill-opacity="0.114" transform="rotate(0.2 27.2 476.3)"/><ellipse cx="30.6" cy="423.1" rx="9.5" ry="1.0" fill="url(#g2)" fill-opacity="0.088" transform="rotate(-10.2 30.6 423.1)"/><ellipse cx="30.8" cy="403.0" rx="11.5" ry="1.2" fill="url(#g2)" fill-opacity="0.138" transform="rotate(-1.4 30.8 403.0)"/><ellipse cx="43.2" cy="438.3" rx="8.7" ry="1.0" fill="url(#g2)" fill-opacity="0.098" transform="rotate(-9.6 43.2 438.3)"/><ellipse cx="45.0" cy="409.8" rx="10.8" ry="0.9" fill="url(#g2)" fill-opacity="0.103" transform="rotate(-12.2 45.0 409.8)"/><ellipse cx="54.8" cy="397.6" rx="10.0" ry="1.3" fill="url(#g2)" fill-opacity="0.089" transform="rotate(-10.2 54.8 397.6)"/><ellipse cx="28.9" cy="416.7" rx="9.7" ry="1.5" fill="url(#g2)" fill-opacity="0.093" transform="rotate(-0.6 28.9 416.7)"/><ellipse cx="58.4" cy="474.2" rx="11.0" ry="1.6" fill="url(#g2)" fill-opacity="0.134" transform="rotate(-12.4 58.4 474.2)"/><ellipse cx="38.0" cy="414.2" rx="7.9" ry="1.1" fill="url(#g2)" fill-opacity="0.115" transform="rotate(0.2 38.0 414.2)"/><ellipse cx="40.8" cy="410.8" rx="7.5" ry="1.3" fill="url(#g2)" fill-opacity="0.091" transform="rotate(-4.3 40.8 410.8)"/><ellipse cx="42.3" cy="408.9" rx="6.7" ry="1.0" fill="url(#g2)" fill-opacity="0.100" transform="rotate(-4.8 42.3 408.9)"/><ellipse cx="33.5" cy="455.0" rx="5.5" ry="1.3" fill="url(#g2)" fill-opacity="0.118" transform="rotate(-8.3 33.5 455.0)"/><ellipse cx="42.5" cy="445.8" rx="10.7" ry="1.4" fill="url(#g2)" fill-opacity="0.126" transform="rotate(-10.4 42.5 445.8)"/><ellipse cx="45.8" cy="421.9" rx="7.8" ry="1.1" fill="url(#g2)" fill-opacity="0.073" transform="rotate(0.7 45.8 421.9)"/><ellipse cx="38.2" cy="465.7" rx="5.2" ry="1.4" fill="url(#g2)" fill-opacity="0.108" transform="rotate(-9.2 38.2 465.7)"/><ellipse cx="45.5" cy="398.8" rx="10.1" ry="0.9" fill="url(#g2)" fill-opacity="0.072" transform="rotate(-11.5 45.5 398.8)"/><ellipse cx="32.6" cy="400.9" rx="11.5" ry="1.4" fill="url(#g2)" fill-opacity="0.130" transform="rotate(-7.3 32.6 400.9)"/><ellipse cx="57.9" cy="436.9" rx="8.8" ry="1.1" fill="url(#g2)" fill-opacity="0.081" transform="rotate(-9.4 57.9 436.9)"/><ellipse cx="38.1" cy="426.3" rx="8.4" ry="1.4" fill="url(#g2)" fill-opacity="0.084" transform="rotate(-4.3 38.1 426.3)"/><ellipse cx="27.2" cy="452.6" rx="7.3" ry="1.4" fill="url(#g2)" fill-opacity="0.073" transform="rotate(-2.5 27.2 452.6)"/><ellipse cx="58.6" cy="458.8" rx="5.4" ry="1.2" fill="url(#g2)" fill-opacity="0.091" transform="rotate(-2.4 58.6 458.8)"/><ellipse cx="35.0" cy="421.6" rx="7.0" ry="1.3" fill="url(#g2)" fill-opacity="0.125" transform="rotate(-4.7 35.0 421.6)"/><ellipse cx="59.3" cy="394.8" rx="9.5" ry="1.3" fill="url(#g2)" fill-opacity="0.085" transform="rotate(-12.4 59.3 394.8)"/><ellipse cx="31.6" cy="411.0" rx="10.7" ry="1.1" fill="url(#g2)" fill-opacity="0.110" transform="rotate(-10.6 31.6 411.0)"/><ellipse cx="50.8" cy="429.6" rx="11.6" ry="1.6" fill="url(#g2)" fill-opacity="0.132" transform="rotate(-1.8 50.8 429.6)"/><ellipse cx="39.3" cy="395.8" rx="5.2" ry="2.1" fill="url(#g2)" fill-opacity="0.286"/><ellipse cx="34.0" cy="409.6" rx="9.0" ry="1.5" fill="url(#g2)" fill-opacity="0.265" transform="rotate(10.0 34.0 409.6)"/><ellipse cx="49.6" cy="425.0" rx="9.0" ry="1.5" fill="url(#g2)" fill-opacity="0.286" transform="rotate(-5.0 49.6 425.0)"/><ellipse cx="53.0" cy="449.0" rx="10.3" ry="1.5" fill="url(#g2)" fill-opacity="0.265" transform="rotate(-8.0 53.0 449.0)"/><ellipse cx="32.4" cy="460.5" rx="7.7" ry="1.5" fill="url(#g2)" fill-opacity="0.255"/><ellipse cx="42.7" cy="419.0" rx="7.7" ry="1.5" fill="url(#g2)" fill-opacity="0.204"/><ellipse cx="39.3" cy="438.0" rx="6.4" ry="1.5" fill="url(#g2)" fill-opacity="0.204"/></g></g><ellipse cx="108.0" cy="395.8" rx="22.0" ry="11.3" fill="none" stroke="#dc2430" stroke-width="1.6"/><rect x="26.9" y="392.5" width="34.9" height="87.8" rx="0.6" fill="none" stroke="#cbb03c" stroke-width="1.3"/><rect x="25.4" y="368.0" width="164.9" height="147.3" fill="none" stroke="#111" stroke-width="0.5" stroke-opacity="0.6"/><line x1="37.2" y1="515.3" x2="37.2" y2="513.7" stroke="#000" stroke-width="0.5" stroke-opacity="0.35"/><line x1="60.7" y1="515.3" x2="60.7" y2="513.7" stroke="#000" stroke-width="0.5" stroke-opacity="0.35"/><line x1="84.3" y1="515.3" x2="84.3" y2="513.7" stroke="#000" stroke-width="0.5" stroke-opacity="0.35"/><line x1="107.9" y1="515.3" x2="107.9" y2="513.7" stroke="#000" stroke-width="0.5" stroke-opacity="0.35"/><line x1="131.4" y1="515.3" x2="131.4" y2="513.7" stroke="#000" stroke-width="0.5" stroke-opacity="0.35"/><line x1="155.0" y1="515.3" x2="155.0" y2="513.7" stroke="#000" stroke-width="0.5" stroke-opacity="0.35"/><line x1="178.5" y1="515.3" x2="178.5" y2="513.7" stroke="#000" stroke-width="0.5" stroke-opacity="0.35"/><line x1="25.4" y1="515.3" x2="27.0" y2="515.3" stroke="#000" stroke-width="0.5" stroke-opacity="0.6"/><line x1="25.4" y1="495.7" x2="27.0" y2="495.7" stroke="#000" stroke-width="0.5" stroke-opacity="0.6"/><line x1="25.4" y1="476.0" x2="27.0" y2="476.0" stroke="#000" stroke-width="0.5" stroke-opacity="0.6"/><line x1="25.4" y1="456.4" x2="27.0" y2="456.4" stroke="#000" stroke-width="0.5" stroke-opacity="0.6"/><line x1="25.4" y1="436.7" x2="27.0" y2="436.7" stroke="#000" stroke-width="0.5" stroke-opacity="0.6"/><line x1="25.4" y1="417.1" x2="27.0" y2="417.1" stroke="#000" stroke-width="0.5" stroke-opacity="0.6"/><line x1="25.4" y1="397.5" x2="27.0" y2="397.5" stroke="#000" stroke-width="0.5" stroke-opacity="0.6"/><line x1="25.4" y1="377.8" x2="27.0" y2="377.8" stroke="#000" stroke-width="0.5" stroke-opacity="0.6"/><g font-family="'Liberation Serif', 'Times New Roman', serif" font-size="7.4" fill="#000" stroke="#000" stroke-width="0.12"><text transform="translate(37.18 522.30) scale(0.78 1)" text-anchor="middle">−3</text><text transform="translate(60.74 522.30) scale(0.78 1)" text-anchor="middle">−2</text><text transform="translate(84.29 522.30) scale(0.78 1)" text-anchor="middle">−1</text><text transform="translate(107.85 522.30) scale(0.78 1)" text-anchor="middle">0</text><text transform="translate(131.41 522.30) scale(0.78 1)" text-anchor="middle">1</text><text transform="translate(154.96 522.30) scale(0.78 1)" text-anchor="middle">2</text><text transform="translate(178.52 522.30) scale(0.78 1)" text-anchor="middle">3</text><text transform="translate(24.10 518.20) scale(0.78 1)" text-anchor="end">330</text><text transform="translate(24.10 498.56) scale(0.78 1)" text-anchor="end">340</text><text transform="translate(24.10 478.92) scale(0.78 1)" text-anchor="end">350</text><text transform="translate(24.10 459.28) scale(0.78 1)" text-anchor="end">360</text><text transform="translate(24.10 439.64) scale(0.78 1)" text-anchor="end">370</text><text transform="translate(24.10 420.00) scale(0.78 1)" text-anchor="end">380</text><text transform="translate(24.10 400.36) scale(0.78 1)" text-anchor="end">390</text><text transform="translate(24.10 380.72) scale(0.78 1)" text-anchor="end">400</text></g><text x="107.9" y="529.7" text-anchor="middle" font-family="'Liberation Serif', 'Times New Roman', serif" font-size="7" fill="#000" stroke="#000" stroke-width="0.2">Azimuth (degree)</text><text transform="translate(10.1 441.1) rotate(-90)" text-anchor="middle" font-family="'Liberation Serif', 'Times New Roman', serif" font-size="7" fill="#000" stroke="#000" stroke-width="0.2">Range (meter)</text><rect x="199.2" y="368.3" width="10.7" height="147.0" fill="url(#cbgrad)"/><rect x="199.2" y="368.3" width="10.7" height="147.0" fill="none" stroke="#111" stroke-width="0.5" stroke-opacity="0.6"/><line x1="199.2" y1="515.3" x2="200.4" y2="515.3" stroke="#000" stroke-width="0.5" stroke-opacity="0.6"/><line x1="209.9" y1="515.3" x2="208.7" y2="515.3" stroke="#000" stroke-width="0.5" stroke-opacity="0.6"/><line x1="199.2" y1="493.6" x2="200.4" y2="493.6" stroke="#000" stroke-width="0.5" stroke-opacity="0.6"/><line x1="209.9" y1="493.6" x2="208.7" y2="493.6" stroke="#000" stroke-width="0.5" stroke-opacity="0.6"/><line x1="199.2" y1="471.9" x2="200.4" y2="471.9" stroke="#000" stroke-width="0.5" stroke-opacity="0.6"/><line x1="209.9" y1="471.9" x2="208.7" y2="471.9" stroke="#000" stroke-width="0.5" stroke-opacity="0.6"/><line x1="199.2" y1="450.2" x2="200.4" y2="450.2" stroke="#000" stroke-width="0.5" stroke-opacity="0.6"/><line x1="209.9" y1="450.2" x2="208.7" y2="450.2" stroke="#000" stroke-width="0.5" stroke-opacity="0.6"/><line x1="199.2" y1="428.5" x2="200.4" y2="428.5" stroke="#000" stroke-width="0.5" stroke-opacity="0.6"/><line x1="209.9" y1="428.5" x2="208.7" y2="428.5" stroke="#000" stroke-width="0.5" stroke-opacity="0.6"/><line x1="199.2" y1="406.8" x2="200.4" y2="406.8" stroke="#000" stroke-width="0.5" stroke-opacity="0.6"/><line x1="209.9" y1="406.8" x2="208.7" y2="406.8" stroke="#000" stroke-width="0.5" stroke-opacity="0.6"/><line x1="199.2" y1="385.1" x2="200.4" y2="385.1" stroke="#000" stroke-width="0.5" stroke-opacity="0.6"/><line x1="209.9" y1="385.1" x2="208.7" y2="385.1" stroke="#000" stroke-width="0.5" stroke-opacity="0.6"/><g font-family="'Liberation Serif', 'Times New Roman', serif" font-size="7.4" fill="#000" stroke="#000" stroke-width="0.12"><text transform="translate(211.40 518.60) scale(0.78 1)">0</text><text transform="translate(211.40 496.90) scale(0.78 1)">500</text><text transform="translate(211.40 475.20) scale(0.78 1)">1000</text><text transform="translate(211.40 453.50) scale(0.78 1)">1500</text><text transform="translate(211.40 431.80) scale(0.78 1)">2000</text><text transform="translate(211.40 410.10) scale(0.78 1)">2500</text><text transform="translate(211.40 388.40) scale(0.78 1)">3000</text></g><text x="113.5" y="545.5" text-anchor="middle" font-family="'Liberation Serif', 'Times New Roman', serif" font-weight="bold" font-size="10.8" fill="#000">(d)</text><clipPath id="clipe"><rect x="281.5" y="368.2" width="164.4" height="147.4"/></clipPath><filter id="fe" filterUnits="userSpaceOnUse" x="271.5" y="358.2" width="184.39999999999998" height="167.40000000000003" color-interpolation-filters="sRGB"><feGaussianBlur stdDeviation="0.9 0.65"/><feComponentTransfer><feFuncR type="table" tableValues="0.1569 0.1725 0.1882 0.1882 0.1765 0.1765 0.3137 0.4392 0.5882 0.7843 0.9608 0.9686 0.9529 0.9333 0.9098 0.7451 0.5294"/><feFuncG type="table" tableValues="0.1569 0.1804 0.2275 0.3137 0.4314 0.6392 0.7451 0.7686 0.7843 0.8431 0.9137 0.7647 0.5490 0.3137 0.1176 0.1098 0.0980"/><feFuncB type="table" tableValues="0.4784 0.5294 0.5961 0.6667 0.7647 0.8941 0.8824 0.6745 0.4706 0.2745 0.1490 0.1176 0.1255 0.1373 0.1412 0.1255 0.1098"/></feComponentTransfer></filter><g clip-path="url(#clipe)"><g filter="url(#fe)"><rect x="271.5" y="358.2" width="184.4" height="167.4" fill="#050505"/><ellipse cx="375.4" cy="431.4" rx="7.1" ry="1.4" fill="url(#g2)" fill-opacity="0.034" transform="rotate(-0.1 375.4 431.4)"/><ellipse cx="388.9" cy="391.8" rx="8.1" ry="1.0" fill="url(#g2)" fill-opacity="0.031" transform="rotate(1.4 388.9 391.8)"/><ellipse cx="445.3" cy="374.8" rx="12.5" ry="1.2" fill="url(#g2)" fill-opacity="0.045" transform="rotate(-6.6 445.3 374.8)"/><ellipse cx="392.5" cy="435.5" rx="12.4" ry="1.0" fill="url(#g2)" fill-opacity="0.038" transform="rotate(-0.8 392.5 435.5)"/><ellipse cx="443.0" cy="511.1" rx="5.6" ry="0.9" fill="url(#g2)" fill-opacity="0.035" transform="rotate(-8.4 443.0 511.1)"/><ellipse cx="436.2" cy="412.8" rx="11.7" ry="0.9" fill="url(#g2)" fill-opacity="0.025" transform="rotate(-3.4 436.2 412.8)"/><ellipse cx="353.2" cy="377.8" rx="13.7" ry="1.0" fill="url(#g2)" fill-opacity="0.034" transform="rotate(-7.3 353.2 377.8)"/><ellipse cx="349.4" cy="373.6" rx="12.6" ry="1.2" fill="url(#g2)" fill-opacity="0.030" transform="rotate(-3.6 349.4 373.6)"/><ellipse cx="422.1" cy="390.3" rx="8.8" ry="1.2" fill="url(#g2)" fill-opacity="0.033" transform="rotate(-8.6 422.1 390.3)"/><ellipse cx="409.0" cy="382.4" rx="8.5" ry="1.0" fill="url(#g2)" fill-opacity="0.017" transform="rotate(-4.8 409.0 382.4)"/><ellipse cx="349.6" cy="404.4" rx="7.4" ry="0.6" fill="url(#g2)" fill-opacity="0.021" transform="rotate(-8.6 349.6 404.4)"/><ellipse cx="356.4" cy="392.5" rx="13.9" ry="1.4" fill="url(#g2)" fill-opacity="0.037" transform="rotate(-4.2 356.4 392.5)"/><ellipse cx="338.6" cy="432.3" rx="7.9" ry="0.7" fill="url(#g2)" fill-opacity="0.010" transform="rotate(-6.2 338.6 432.3)"/><ellipse cx="294.6" cy="434.2" rx="9.0" ry="1.4" fill="url(#g2)" fill-opacity="0.034" transform="rotate(-1.9 294.6 434.2)"/><ellipse cx="321.2" cy="445.6" rx="11.7" ry="1.4" fill="url(#g2)" fill-opacity="0.047" transform="rotate(-9.2 321.2 445.6)"/><ellipse cx="362.0" cy="436.2" rx="8.1" ry="1.1" fill="url(#g2)" fill-opacity="0.027" transform="rotate(-3.5 362.0 436.2)"/><ellipse cx="362.0" cy="392.6" rx="13.4" ry="1.0" fill="url(#g2)" fill-opacity="0.028" transform="rotate(-9.6 362.0 392.6)"/><ellipse cx="282.0" cy="447.1" rx="3.9" ry="0.6" fill="url(#g2)" fill-opacity="0.012" transform="rotate(-4.6 282.0 447.1)"/><ellipse cx="444.7" cy="439.7" rx="8.7" ry="1.1" fill="url(#g2)" fill-opacity="0.029" transform="rotate(-4.6 444.7 439.7)"/><ellipse cx="400.9" cy="500.6" rx="9.9" ry="1.4" fill="url(#g2)" fill-opacity="0.039" transform="rotate(0.9 400.9 500.6)"/><ellipse cx="306.8" cy="403.2" rx="12.3" ry="1.3" fill="url(#g2)" fill-opacity="0.035" transform="rotate(-2.9 306.8 403.2)"/><ellipse cx="417.9" cy="438.8" rx="16.3" ry="1.3" fill="url(#g2)" fill-opacity="0.043" transform="rotate(0.3 417.9 438.8)"/><ellipse cx="399.6" cy="499.2" rx="9.2" ry="0.9" fill="url(#g2)" fill-opacity="0.012" transform="rotate(1.5 399.6 499.2)"/><ellipse cx="442.8" cy="410.3" rx="6.8" ry="1.3" fill="url(#g2)" fill-opacity="0.038" transform="rotate(1.0 442.8 410.3)"/><ellipse cx="313.1" cy="419.8" rx="4.5" ry="0.6" fill="url(#g2)" fill-opacity="0.013" transform="rotate(-8.8 313.1 419.8)"/><ellipse cx="445.9" cy="499.0" rx="11.6" ry="1.2" fill="url(#g2)" fill-opacity="0.029" transform="rotate(-3.7 445.9 499.0)"/><ellipse cx="351.1" cy="466.1" rx="7.6" ry="1.1" fill="url(#g2)" fill-opacity="0.033" transform="rotate(-2.5 351.1 466.1)"/><ellipse cx="384.6" cy="399.1" rx="14.2" ry="1.5" fill="url(#g2)" fill-opacity="0.035" transform="rotate(-2.2 384.6 399.1)"/><ellipse cx="293.0" cy="430.6" rx="3.6" ry="0.7" fill="url(#g2)" fill-opacity="0.014" transform="rotate(-4.5 293.0 430.6)"/><ellipse cx="406.3" cy="460.9" rx="8.2" ry="0.8" fill="url(#g2)" fill-opacity="0.022" transform="rotate(-3.9 406.3 460.9)"/><ellipse cx="324.8" cy="433.3" rx="9.9" ry="0.9" fill="url(#g2)" fill-opacity="0.024" transform="rotate(-4.6 324.8 433.3)"/><ellipse cx="359.9" cy="438.9" rx="13.0" ry="1.5" fill="url(#g2)" fill-opacity="0.038" transform="rotate(-5.1 359.9 438.9)"/><ellipse cx="412.0" cy="510.4" rx="14.3" ry="1.0" fill="url(#g2)" fill-opacity="0.051" transform="rotate(0.2 412.0 510.4)"/><ellipse cx="419.0" cy="370.6" rx="6.4" ry="1.0" fill="url(#g2)" fill-opacity="0.024" transform="rotate(-2.7 419.0 370.6)"/><ellipse cx="327.9" cy="395.7" rx="3.9" ry="0.9" fill="url(#g2)" fill-opacity="0.017" transform="rotate(1.2 327.9 395.7)"/><ellipse cx="317.6" cy="478.0" rx="8.0" ry="1.4" fill="url(#g2)" fill-opacity="0.049" transform="rotate(-4.7 317.6 478.0)"/><ellipse cx="441.8" cy="496.4" rx="4.6" ry="0.9" fill="url(#g2)" fill-opacity="0.011" transform="rotate(-3.1 441.8 496.4)"/><ellipse cx="367.5" cy="487.6" rx="16.0" ry="1.2" fill="url(#g2)" fill-opacity="0.041" transform="rotate(-9.4 367.5 487.6)"/><ellipse cx="395.3" cy="375.6" rx="13.7" ry="1.1" fill="url(#g2)" fill-opacity="0.033" transform="rotate(-2.8 395.3 375.6)"/><ellipse cx="309.7" cy="391.5" rx="14.0" ry="1.5" fill="url(#g2)" fill-opacity="0.035" transform="rotate(-9.6 309.7 391.5)"/><ellipse cx="361.6" cy="459.5" rx="11.6" ry="1.9" fill="url(#g2)" fill-opacity="0.193" transform="rotate(-1.5 361.6 459.5)"/><ellipse cx="353.5" cy="455.1" rx="14.5" ry="1.5" fill="url(#g2)" fill-opacity="0.151" transform="rotate(-4.7 353.5 455.1)"/><ellipse cx="350.7" cy="482.5" rx="7.5" ry="2.3" fill="url(#g2)" fill-opacity="0.160" transform="rotate(2.6 350.7 482.5)"/><ellipse cx="367.6" cy="464.6" rx="6.7" ry="1.8" fill="url(#g2)" fill-opacity="0.084" transform="rotate(-7.3 367.6 464.6)"/><ellipse cx="353.7" cy="430.3" rx="10.1" ry="1.6" fill="url(#g2)" fill-opacity="0.066" transform="rotate(1.3 353.7 430.3)"/><ellipse cx="363.6" cy="466.9" rx="13.1" ry="1.8" fill="url(#g2)" fill-opacity="0.133" transform="rotate(-4.9 363.6 466.9)"/><ellipse cx="377.9" cy="499.6" rx="13.9" ry="1.7" fill="url(#g2)" fill-opacity="0.181" transform="rotate(-5.5 377.9 499.6)"/><ellipse cx="356.7" cy="414.5" rx="10.9" ry="2.2" fill="url(#g2)" fill-opacity="0.171" transform="rotate(-3.7 356.7 414.5)"/><ellipse cx="376.7" cy="486.0" rx="7.9" ry="2.0" fill="url(#g2)" fill-opacity="0.061" transform="rotate(-2.8 376.7 486.0)"/><ellipse cx="377.4" cy="444.6" rx="11.7" ry="1.9" fill="url(#g2)" fill-opacity="0.072" transform="rotate(-5.0 377.4 444.6)"/><ellipse cx="350.6" cy="438.6" rx="14.5" ry="1.6" fill="url(#g2)" fill-opacity="0.199" transform="rotate(-5.3 350.6 438.6)"/><ellipse cx="351.0" cy="413.5" rx="8.8" ry="2.0" fill="url(#g2)" fill-opacity="0.175" transform="rotate(-3.1 351.0 413.5)"/><ellipse cx="353.7" cy="475.3" rx="12.0" ry="1.4" fill="url(#g2)" fill-opacity="0.080" transform="rotate(-3.4 353.7 475.3)"/><ellipse cx="354.4" cy="432.8" rx="14.9" ry="1.7" fill="url(#g2)" fill-opacity="0.200" transform="rotate(1.7 354.4 432.8)"/><ellipse cx="354.3" cy="444.3" rx="13.3" ry="1.5" fill="url(#g2)" fill-opacity="0.183" transform="rotate(2.9 354.3 444.3)"/><ellipse cx="354.4" cy="431.8" rx="10.2" ry="1.7" fill="url(#g2)" fill-opacity="0.172" transform="rotate(-7.2 354.4 431.8)"/><ellipse cx="350.7" cy="461.6" rx="12.0" ry="1.7" fill="url(#g2)" fill-opacity="0.096" transform="rotate(-3.0 350.7 461.6)"/><ellipse cx="376.8" cy="452.5" rx="15.1" ry="1.6" fill="url(#g2)" fill-opacity="0.143" transform="rotate(-6.3 376.8 452.5)"/><ellipse cx="375.3" cy="483.2" rx="8.4" ry="2.0" fill="url(#g2)" fill-opacity="0.097" transform="rotate(2.3 375.3 483.2)"/><ellipse cx="353.9" cy="495.4" rx="12.9" ry="1.8" fill="url(#g2)" fill-opacity="0.187" transform="rotate(-6.9 353.9 495.4)"/><ellipse cx="350.7" cy="429.3" rx="8.5" ry="2.2" fill="url(#g2)" fill-opacity="0.347" transform="rotate(-8.0 350.7 429.3)"/><ellipse cx="355.9" cy="425.2" rx="8.5" ry="2.0" fill="url(#g2)" fill-opacity="0.310"/><ellipse cx="354.0" cy="427.1" rx="9.8" ry="3.4" fill="url(#g26)" fill-opacity="0.796"/><ellipse cx="373.6" cy="429.3" rx="7.1" ry="2.0" fill="url(#g2)" fill-opacity="0.347" transform="rotate(-8.0 373.6 429.3)"/><ellipse cx="378.0" cy="425.6" rx="7.1" ry="1.8" fill="url(#g2)" fill-opacity="0.310"/><ellipse cx="376.4" cy="427.3" rx="8.5" ry="3.1" fill="url(#g26)" fill-opacity="0.735"/><ellipse cx="366.0" cy="425.0" rx="10.3" ry="1.8" fill="url(#g2)" fill-opacity="0.286"/><ellipse cx="348.5" cy="461.2" rx="8.0" ry="2.2" fill="url(#g2)" fill-opacity="0.347" transform="rotate(-8.0 348.5 461.2)"/><ellipse cx="353.4" cy="457.1" rx="8.0" ry="2.0" fill="url(#g2)" fill-opacity="0.310"/><ellipse cx="351.6" cy="459.0" rx="10.2" ry="3.7" fill="url(#g26)" fill-opacity="0.633"/><ellipse cx="371.8" cy="461.1" rx="7.7" ry="2.1" fill="url(#g2)" fill-opacity="0.347" transform="rotate(-8.0 371.8 461.1)"/><ellipse cx="376.6" cy="457.2" rx="7.7" ry="1.9" fill="url(#g2)" fill-opacity="0.310"/><ellipse cx="374.8" cy="459.0" rx="9.3" ry="3.3" fill="url(#g26)" fill-opacity="0.714"/><ellipse cx="359.8" cy="491.3" rx="7.0" ry="2.1" fill="url(#g2)" fill-opacity="0.347" transform="rotate(-8.0 359.8 491.3)"/><ellipse cx="364.1" cy="487.4" rx="7.0" ry="1.9" fill="url(#g2)" fill-opacity="0.310"/><ellipse cx="362.5" cy="489.2" rx="8.1" ry="3.2" fill="url(#g26)" fill-opacity="0.776"/><ellipse cx="362.5" cy="486.3" rx="7.7" ry="2.1" fill="url(#g2)" fill-opacity="0.388"/><ellipse cx="366.0" cy="493.0" rx="10.3" ry="1.8" fill="url(#g2)" fill-opacity="0.235"/><ellipse cx="437.0" cy="455.0" rx="6.4" ry="2.1" fill="url(#g2)" fill-opacity="0.102"/><ellipse cx="420.0" cy="418.0" rx="7.7" ry="2.1" fill="url(#g2)" fill-opacity="0.082"/></g></g><clipPath id="clipeo0"><ellipse cx="362.7" cy="396.2" rx="22.1" ry="11.5"/></clipPath><filter id="feo0" filterUnits="userSpaceOnUse" x="332.59999999999997" y="376.7" width="60.200000000000045" height="39.0" color-interpolation-filters="sRGB"><feGaussianBlur stdDeviation="0.5 0.35"/><feComponentTransfer><feFuncR type="table" tableValues="0.0000 0.0000 0.0000 0.0000 0.0000 0.0000 0.0000 0.2500 0.5000 0.7500 1.0000 1.0000 1.0000 1.0000 1.0000 0.7500 0.5000"/><feFuncG type="table" tableValues="0.0000 0.0000 0.0000 0.2500 0.5000 0.7500 1.0000 1.0000 1.0000 1.0000 1.0000 0.7500 0.5000 0.2500 0.0000 0.0000 0.0000"/><feFuncB type="table" tableValues="0.5000 0.7500 1.0000 1.0000 1.0000 1.0000 1.0000 0.7500 0.5000 0.2500 0.0000 0.0000 0.0000 0.0000 0.0000 0.0000 0.0000"/></feComponentTransfer></filter><g clip-path="url(#clipeo0)"><g filter="url(#feo0)"><rect x="332.59999999999997" y="376.7" width="60.2" height="39.0" fill="#1a1a1a"/><ellipse cx="355.0" cy="393.0" rx="12.9" ry="2.1" fill="url(#g2)" fill-opacity="0.388"/><ellipse cx="364.0" cy="395.0" rx="10.3" ry="1.8" fill="url(#g2)" fill-opacity="0.337"/><ellipse cx="352.5" cy="395.6" rx="8.2" ry="2.7" fill="url(#g26)" fill-opacity="0.745"/><ellipse cx="374.0" cy="395.6" rx="11.3" ry="3.5" fill="url(#g2)" fill-opacity="0.592"/><ellipse cx="361.0" cy="388.0" rx="5.2" ry="2.1" fill="url(#g2)" fill-opacity="0.337"/><ellipse cx="362.0" cy="401.0" rx="15.5" ry="2.1" fill="url(#g2)" fill-opacity="0.184"/></g></g><clipPath id="clipeo1"><rect x="283.5" y="389.9" width="34.5" height="87.5" rx="1.5"/></clipPath><filter id="feo1" filterUnits="userSpaceOnUse" x="275.5" y="381.9" width="50.5" height="103.5" color-interpolation-filters="sRGB"><feGaussianBlur stdDeviation="0.5 0.35"/><feComponentTransfer><feFuncR type="table" tableValues="0.0000 0.0000 0.0000 0.0000 0.0000 0.0000 0.0000 0.2500 0.5000 0.7500 1.0000 1.0000 1.0000 1.0000 1.0000 0.7500 0.5000"/><feFuncG type="table" tableValues="0.0000 0.0000 0.0000 0.2500 0.5000 0.7500 1.0000 1.0000 1.0000 1.0000 1.0000 0.7500 0.5000 0.2500 0.0000 0.0000 0.0000"/><feFuncB type="table" tableValues="0.5000 0.7500 1.0000 1.0000 1.0000 1.0000 1.0000 0.7500 0.5000 0.2500 0.0000 0.0000 0.0000 0.0000 0.0000 0.0000 0.0000"/></feComponentTransfer></filter><g clip-path="url(#clipeo1)"><g filter="url(#feo1)"><rect x="275.5" y="381.9" width="50.5" height="103.5" fill="#0b0b0b"/><ellipse cx="292.0" cy="408.0" rx="12.9" ry="2.1" fill="url(#g2)" fill-opacity="0.163"/><ellipse cx="290.0" cy="423.0" rx="7.7" ry="2.6" fill="url(#g2)" fill-opacity="0.184"/><ellipse cx="303.0" cy="425.5" rx="20.6" ry="1.8" fill="url(#g2)" fill-opacity="0.143"/><ellipse cx="308.0" cy="450.0" rx="15.5" ry="1.8" fill="url(#g2)" fill-opacity="0.153" transform="rotate(-6.0 308.0 450.0)"/><ellipse cx="291.0" cy="457.0" rx="7.7" ry="2.1" fill="url(#g2)" fill-opacity="0.133"/><ellipse cx="287.0" cy="462.0" rx="7.7" ry="2.1" fill="url(#g2)" fill-opacity="0.122"/><ellipse cx="294.0" cy="467.0" rx="7.7" ry="2.1" fill="url(#g2)" fill-opacity="0.112"/></g></g><ellipse cx="362.7" cy="396.2" rx="22.1" ry="11.5" fill="none" stroke="#dc2430" stroke-width="1.6"/><rect x="283.5" y="389.9" width="34.5" height="87.5" rx="1.5" fill="none" stroke="#d6b833" stroke-width="1.3"/><rect x="281.5" y="368.2" width="164.4" height="147.4" fill="none" stroke="#111" stroke-width="0.5" stroke-opacity="0.6"/><line x1="293.2" y1="515.6" x2="293.2" y2="514.0" stroke="#000" stroke-width="0.5" stroke-opacity="0.35"/><line x1="316.7" y1="515.6" x2="316.7" y2="514.0" stroke="#000" stroke-width="0.5" stroke-opacity="0.35"/><line x1="340.2" y1="515.6" x2="340.2" y2="514.0" stroke="#000" stroke-width="0.5" stroke-opacity="0.35"/><line x1="363.7" y1="515.6" x2="363.7" y2="514.0" stroke="#000" stroke-width="0.5" stroke-opacity="0.35"/><line x1="387.2" y1="515.6" x2="387.2" y2="514.0" stroke="#000" stroke-width="0.5" stroke-opacity="0.35"/><line x1="410.7" y1="515.6" x2="410.7" y2="514.0" stroke="#000" stroke-width="0.5" stroke-opacity="0.35"/><line x1="434.2" y1="515.6" x2="434.2" y2="514.0" stroke="#000" stroke-width="0.5" stroke-opacity="0.35"/><line x1="281.5" y1="515.6" x2="283.1" y2="515.6" stroke="#000" stroke-width="0.5" stroke-opacity="0.6"/><line x1="281.5" y1="495.9" x2="283.1" y2="495.9" stroke="#000" stroke-width="0.5" stroke-opacity="0.6"/><line x1="281.5" y1="476.3" x2="283.1" y2="476.3" stroke="#000" stroke-width="0.5" stroke-opacity="0.6"/><line x1="281.5" y1="456.6" x2="283.1" y2="456.6" stroke="#000" stroke-width="0.5" stroke-opacity="0.6"/><line x1="281.5" y1="437.0" x2="283.1" y2="437.0" stroke="#000" stroke-width="0.5" stroke-opacity="0.6"/><line x1="281.5" y1="417.3" x2="283.1" y2="417.3" stroke="#000" stroke-width="0.5" stroke-opacity="0.6"/><line x1="281.5" y1="397.7" x2="283.1" y2="397.7" stroke="#000" stroke-width="0.5" stroke-opacity="0.6"/><line x1="281.5" y1="378.0" x2="283.1" y2="378.0" stroke="#000" stroke-width="0.5" stroke-opacity="0.6"/><g font-family="'Liberation Serif', 'Times New Roman', serif" font-size="7.4" fill="#000" stroke="#000" stroke-width="0.12"><text transform="translate(293.24 522.60) scale(0.78 1)" text-anchor="middle">−3</text><text transform="translate(316.73 522.60) scale(0.78 1)" text-anchor="middle">−2</text><text transform="translate(340.21 522.60) scale(0.78 1)" text-anchor="middle">−1</text><text transform="translate(363.70 522.60) scale(0.78 1)" text-anchor="middle">0</text><text transform="translate(387.19 522.60) scale(0.78 1)" text-anchor="middle">1</text><text transform="translate(410.67 522.60) scale(0.78 1)" text-anchor="middle">2</text><text transform="translate(434.16 522.60) scale(0.78 1)" text-anchor="middle">3</text><text transform="translate(280.20 518.50) scale(0.78 1)" text-anchor="end">330</text><text transform="translate(280.20 498.85) scale(0.78 1)" text-anchor="end">340</text><text transform="translate(280.20 479.19) scale(0.78 1)" text-anchor="end">350</text><text transform="translate(280.20 459.54) scale(0.78 1)" text-anchor="end">360</text><text transform="translate(280.20 439.89) scale(0.78 1)" text-anchor="end">370</text><text transform="translate(280.20 420.23) scale(0.78 1)" text-anchor="end">380</text><text transform="translate(280.20 400.58) scale(0.78 1)" text-anchor="end">390</text><text transform="translate(280.20 380.93) scale(0.78 1)" text-anchor="end">400</text></g><text x="363.7" y="530.0" text-anchor="middle" font-family="'Liberation Serif', 'Times New Roman', serif" font-size="7" fill="#000" stroke="#000" stroke-width="0.2">Azimuth (degree)</text><text transform="translate(266.2 441.4) rotate(-90)" text-anchor="middle" font-family="'Liberation Serif', 'Times New Roman', serif" font-size="7" fill="#000" stroke="#000" stroke-width="0.2">Range (meter)</text><rect x="455.2" y="368.2" width="10.8" height="147.6" fill="url(#cbgrad)"/><rect x="455.2" y="368.2" width="10.8" height="147.6" fill="none" stroke="#111" stroke-width="0.5" stroke-opacity="0.6"/><line x1="455.2" y1="515.8" x2="456.4" y2="515.8" stroke="#000" stroke-width="0.5" stroke-opacity="0.6"/><line x1="466.0" y1="515.8" x2="464.8" y2="515.8" stroke="#000" stroke-width="0.5" stroke-opacity="0.6"/><line x1="455.2" y1="495.8" x2="456.4" y2="495.8" stroke="#000" stroke-width="0.5" stroke-opacity="0.6"/><line x1="466.0" y1="495.8" x2="464.8" y2="495.8" stroke="#000" stroke-width="0.5" stroke-opacity="0.6"/><line x1="455.2" y1="475.9" x2="456.4" y2="475.9" stroke="#000" stroke-width="0.5" stroke-opacity="0.6"/><line x1="466.0" y1="475.9" x2="464.8" y2="475.9" stroke="#000" stroke-width="0.5" stroke-opacity="0.6"/><line x1="455.2" y1="455.9" x2="456.4" y2="455.9" stroke="#000" stroke-width="0.5" stroke-opacity="0.6"/><line x1="466.0" y1="455.9" x2="464.8" y2="455.9" stroke="#000" stroke-width="0.5" stroke-opacity="0.6"/><line x1="455.2" y1="435.9" x2="456.4" y2="435.9" stroke="#000" stroke-width="0.5" stroke-opacity="0.6"/><line x1="466.0" y1="435.9" x2="464.8" y2="435.9" stroke="#000" stroke-width="0.5" stroke-opacity="0.6"/><line x1="455.2" y1="415.9" x2="456.4" y2="415.9" stroke="#000" stroke-width="0.5" stroke-opacity="0.6"/><line x1="466.0" y1="415.9" x2="464.8" y2="415.9" stroke="#000" stroke-width="0.5" stroke-opacity="0.6"/><line x1="455.2" y1="396.0" x2="456.4" y2="396.0" stroke="#000" stroke-width="0.5" stroke-opacity="0.6"/><line x1="466.0" y1="396.0" x2="464.8" y2="396.0" stroke="#000" stroke-width="0.5" stroke-opacity="0.6"/><line x1="455.2" y1="376.0" x2="456.4" y2="376.0" stroke="#000" stroke-width="0.5" stroke-opacity="0.6"/><line x1="466.0" y1="376.0" x2="464.8" y2="376.0" stroke="#000" stroke-width="0.5" stroke-opacity="0.6"/><g font-family="'Liberation Serif', 'Times New Roman', serif" font-size="7.4" fill="#000" stroke="#000" stroke-width="0.12"><text transform="translate(467.50 519.10) scale(0.78 1)">0</text><text transform="translate(467.50 499.13) scale(0.78 1)">500</text><text transform="translate(467.50 479.15) scale(0.78 1)">1000</text><text transform="translate(467.50 459.18) scale(0.78 1)">1500</text><text transform="translate(467.50 439.21) scale(0.78 1)">2000</text><text transform="translate(467.50 419.24) scale(0.78 1)">2500</text><text transform="translate(467.50 399.26) scale(0.78 1)">3000</text><text transform="translate(467.50 379.29) scale(0.78 1)">3500</text></g><text x="369.0" y="546.0" text-anchor="middle" font-family="'Liberation Serif', 'Times New Roman', serif" font-weight="bold" font-size="10.8" fill="#000">(e)</text></svg></body></html>
